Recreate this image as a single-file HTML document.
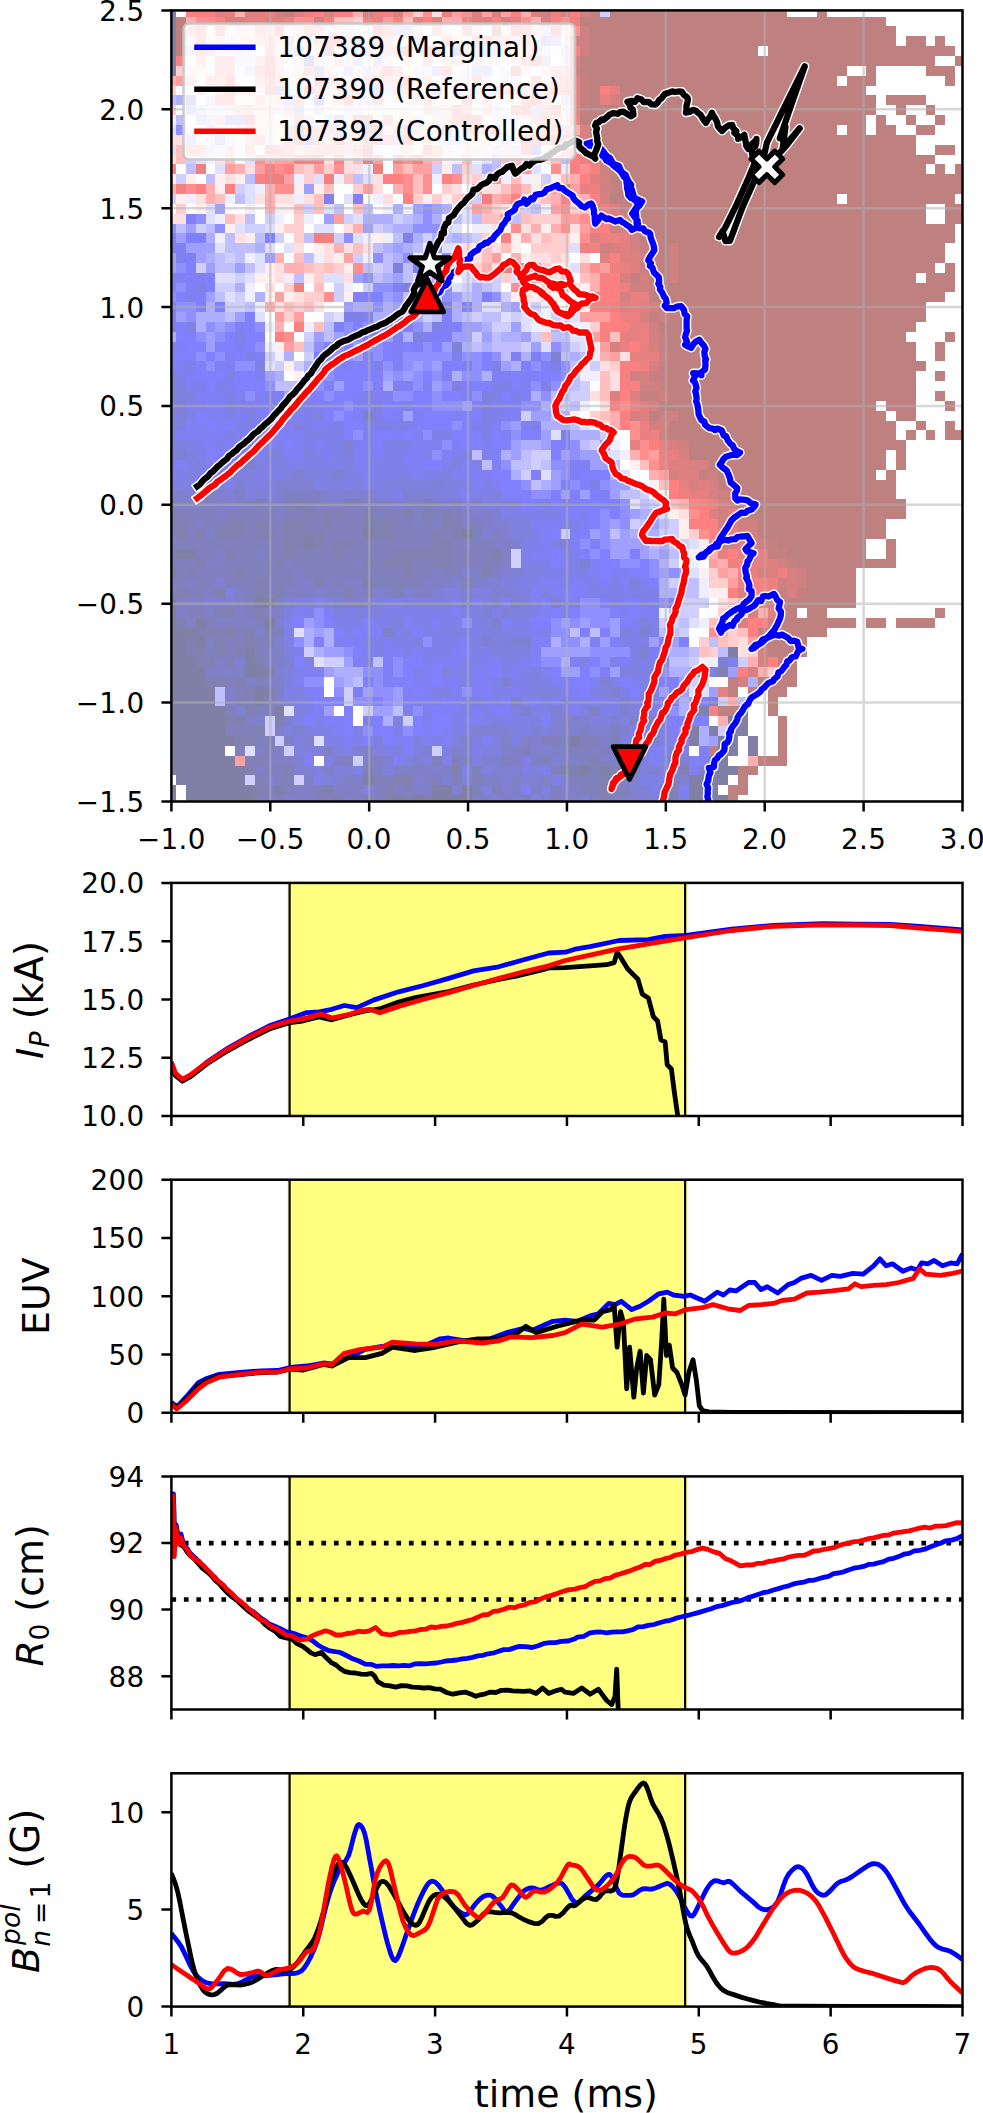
<!DOCTYPE html>
<html><head><meta charset="utf-8"><title>figure</title>
<style>
html,body{margin:0;padding:0;background:#fff;}
svg{display:block;}
text{white-space:pre;letter-spacing:0.38px;font-family:"DejaVu Sans","Liberation Sans",sans-serif;font-size:27.78px;fill:#000;}
.it{font-family:"DejaVu Sans","Liberation Sans",sans-serif;font-style:oblique;}
.sp{fill:none;stroke:#000;stroke-width:2.5;stroke-linecap:square;stroke-linejoin:miter;}
.tk{stroke:#000;stroke-width:2.5;fill:none;}
.gr{stroke:#b0b0b0;stroke-opacity:0.5;stroke-width:2.5;fill:none;}
.ln{fill:none;stroke-linejoin:round;stroke-linecap:square;}
</style></head><body>
<svg width="983" height="2113" viewBox="0 0 983 2113">
<rect width="983" height="2113" fill="#fff"/>

<clipPath id="c0"><rect x="171.4" y="10.4" width="791.1" height="791.1"/></clipPath>
<g clip-path="url(#c0)">
<g shape-rendering="crispEdges">
<path fill="#8080a6" d="M363.3 529H373.2V538.8H363.3zM461.9 529H471.8V538.8H461.9zM304.1 538.8H314V548.7H304.1zM175.9 548.7H195.6V558.5H175.9zM171.4 568.4H175.9V578.2H171.4zM171.4 598H175.9V607.8H171.4zM254.8 598H274.5V607.8H254.8zM171.4 607.8H175.9V617.7H171.4zM171.4 617.7H175.9V627.5H171.4zM195.6 617.7H205.5V627.5H195.6zM264.7 617.7H274.5V627.5H264.7zM171.4 627.5H195.6V637.4H171.4zM171.4 637.4H185.8V647.2H171.4zM195.6 637.4H205.5V647.2H195.6zM171.4 647.2H185.8V657.1H171.4zM244.9 647.2H254.8V657.1H244.9zM728.2 647.2H738.1V657.1H728.2zM171.4 657.1H195.6V666.9H171.4zM244.9 657.1H254.8V666.9H244.9zM171.4 666.9H205.5V676.8H171.4zM244.9 666.9H264.7V676.8H244.9zM171.4 676.8H205.5V686.6H171.4zM171.4 686.6H215.4V696.5H171.4zM254.8 686.6H264.7V696.5H254.8zM171.4 696.5H215.4V706.4H171.4zM254.8 696.5H264.7V706.4H254.8zM171.4 706.4H225.2V716.2H171.4zM274.5 706.4H284.4V716.2H274.5zM738.1 706.4H748V716.2H738.1zM171.4 716.2H225.2V726.1H171.4zM728.2 716.2H748V726.1H728.2zM171.4 726.1H225.2V735.9H171.4zM688.8 726.1H698.6V735.9H688.8zM708.5 726.1H718.4V735.9H708.5zM728.2 726.1H748V735.9H728.2zM171.4 735.9H235.1V745.8H171.4zM570.4 735.9H580.3V745.8H570.4zM688.8 735.9H698.6V745.8H688.8zM718.4 735.9H738.1V745.8H718.4zM748 735.9H757.8V745.8H748zM171.4 745.8H225.2V755.6H171.4zM718.4 745.8H738.1V755.6H718.4zM748 745.8H757.8V755.6H748zM171.4 755.6H235.1V765.5H171.4zM718.4 755.6H728.2V765.5H718.4zM171.4 765.5H244.9V775.3H171.4zM580.3 765.5H590.1V775.3H580.3zM600 765.5H609.9V775.3H600zM708.5 765.5H738.1V775.3H708.5zM175.9 775.3H244.9V785.2H175.9zM363.3 775.3H373.2V785.2H363.3zM688.8 775.3H728.2V785.2H688.8zM171.4 785.2H175.9V795.1H171.4zM185.8 785.2H254.8V795.1H185.8zM274.5 785.2H284.4V795.1H274.5zM432.3 785.2H452.1V795.1H432.3zM461.9 785.2H471.8V795.1H461.9zM688.8 785.2H718.4V795.1H688.8zM171.4 795.1H175.9V801.5H171.4zM185.8 795.1H254.8V801.5H185.8zM392.9 795.1H402.8V801.5H392.9zM412.6 795.1H422.5V801.5H412.6zM432.3 795.1H471.8V801.5H432.3zM688.8 795.1H728.2V801.5H688.8z"/>
<path fill="#8080b1" d="M171.4 10.4H175.9V16.5H171.4zM171.4 16.5H175.9V26.4H171.4zM171.4 26.4H175.9V36.2H171.4zM171.4 36.2H175.9V46.1H171.4zM171.4 46.1H175.9V55.9H171.4zM171.4 55.9H175.9V65.8H171.4zM171.4 65.8H175.9V75.6H171.4zM294.3 499.4H304.1V509.3H294.3zM171.4 509.3H175.9V519.1H171.4zM304.1 509.3H314V519.1H304.1zM323.8 509.3H343.6V519.1H323.8zM363.3 509.3H373.2V519.1H363.3zM402.8 509.3H412.6V519.1H402.8zM422.5 509.3H432.3V519.1H422.5zM442.2 509.3H452.1V519.1H442.2zM171.4 519.1H185.8V529H171.4zM225.2 519.1H244.9V529H225.2zM254.8 519.1H264.7V529H254.8zM284.4 519.1H304.1V529H284.4zM323.8 519.1H333.7V529H323.8zM363.3 519.1H392.9V529H363.3zM442.2 519.1H461.9V529H442.2zM175.9 529H185.8V538.8H175.9zM195.6 529H205.5V538.8H195.6zM215.4 529H244.9V538.8H215.4zM254.8 529H274.5V538.8H254.8zM284.4 529H323.8V538.8H284.4zM373.2 529H392.9V538.8H373.2zM432.3 529H442.2V538.8H432.3zM452.1 529H461.9V538.8H452.1zM284.4 538.8H304.1V548.7H284.4zM314 538.8H323.8V548.7H314zM333.7 538.8H353.4V548.7H333.7zM432.3 538.8H452.1V548.7H432.3zM225.2 548.7H235.1V558.5H225.2zM284.4 548.7H294.3V558.5H284.4zM333.7 548.7H343.6V558.5H333.7zM392.9 548.7H452.1V558.5H392.9zM491.5 548.7H501.4V558.5H491.5zM195.6 558.5H205.5V568.4H195.6zM274.5 558.5H284.4V568.4H274.5zM363.3 558.5H373.2V568.4H363.3zM383 558.5H412.6V568.4H383zM432.3 558.5H452.1V568.4H432.3zM185.8 568.4H195.6V578.2H185.8zM235.1 568.4H244.9V578.2H235.1zM402.8 568.4H412.6V578.2H402.8zM481.7 568.4H491.5V578.2H481.7zM254.8 578.2H264.7V588.1H254.8zM314 578.2H323.8V588.1H314zM363.3 578.2H373.2V588.1H363.3zM175.9 588.1H185.8V598H175.9zM215.4 588.1H225.2V598H215.4zM254.8 588.1H264.7V598H254.8zM274.5 588.1H284.4V598H274.5zM343.6 588.1H353.4V598H343.6zM215.4 607.8H235.1V617.7H215.4zM254.8 607.8H264.7V617.7H254.8zM175.9 617.7H185.8V627.5H175.9zM195.6 627.5H235.1V637.4H195.6zM244.9 627.5H254.8V637.4H244.9zM264.7 627.5H274.5V637.4H264.7zM185.8 637.4H195.6V647.2H185.8zM215.4 637.4H225.2V647.2H215.4zM244.9 637.4H254.8V647.2H244.9zM185.8 647.2H205.5V657.1H185.8zM215.4 647.2H225.2V657.1H215.4zM235.1 647.2H244.9V657.1H235.1zM195.6 657.1H215.4V666.9H195.6zM254.8 657.1H264.7V666.9H254.8zM264.7 666.9H274.5V676.8H264.7zM718.4 666.9H728.2V676.8H718.4zM205.5 676.8H225.2V686.6H205.5zM235.1 676.8H244.9V686.6H235.1zM244.9 686.6H254.8V696.5H244.9zM264.7 686.6H274.5V696.5H264.7zM235.1 696.5H244.9V706.4H235.1zM244.9 706.4H254.8V716.2H244.9zM698.6 706.4H708.5V716.2H698.6zM225.2 716.2H244.9V726.1H225.2zM274.5 716.2H284.4V726.1H274.5zM254.8 726.1H264.7V735.9H254.8zM235.1 735.9H254.8V745.8H235.1zM254.8 755.6H264.7V765.5H254.8zM590.1 755.6H600V765.5H590.1zM244.9 765.5H254.8V775.3H244.9zM284.4 765.5H294.3V775.3H284.4zM452.1 765.5H461.9V775.3H452.1zM560.6 765.5H580.3V775.3H560.6zM609.9 765.5H619.7V775.3H609.9zM678.9 765.5H688.8V775.3H678.9zM254.8 775.3H264.7V785.2H254.8zM392.9 775.3H412.6V785.2H392.9zM600 775.3H609.9V785.2H600zM254.8 785.2H264.7V795.1H254.8zM323.8 785.2H333.7V795.1H323.8zM383 785.2H392.9V795.1H383zM600 785.2H609.9V795.1H600zM333.7 795.1H343.6V801.5H333.7zM363.3 795.1H373.2V801.5H363.3zM383 795.1H392.9V801.5H383zM402.8 795.1H412.6V801.5H402.8zM422.5 795.1H432.3V801.5H422.5zM600 795.1H609.9V801.5H600z"/>
<path fill="#8080bc" d="M171.4 499.4H175.9V509.3H171.4zM254.8 499.4H264.7V509.3H254.8zM284.4 499.4H294.3V509.3H284.4zM304.1 499.4H314V509.3H304.1zM343.6 499.4H363.3V509.3H343.6zM422.5 499.4H432.3V509.3H422.5zM175.9 509.3H215.4V519.1H175.9zM225.2 509.3H274.5V519.1H225.2zM284.4 509.3H304.1V519.1H284.4zM314 509.3H323.8V519.1H314zM343.6 509.3H363.3V519.1H343.6zM373.2 509.3H402.8V519.1H373.2zM432.3 509.3H442.2V519.1H432.3zM452.1 509.3H461.9V519.1H452.1zM185.8 519.1H195.6V529H185.8zM205.5 519.1H225.2V529H205.5zM244.9 519.1H254.8V529H244.9zM264.7 519.1H284.4V529H264.7zM304.1 519.1H323.8V529H304.1zM333.7 519.1H363.3V529H333.7zM392.9 519.1H412.6V529H392.9zM422.5 519.1H432.3V529H422.5zM471.8 519.1H481.7V529H471.8zM185.8 529H195.6V538.8H185.8zM244.9 529H254.8V538.8H244.9zM274.5 529H284.4V538.8H274.5zM323.8 529H363.3V538.8H323.8zM392.9 529H432.3V538.8H392.9zM442.2 529H452.1V538.8H442.2zM471.8 529H481.7V538.8H471.8zM175.9 538.8H284.4V548.7H175.9zM323.8 538.8H333.7V548.7H323.8zM353.4 538.8H432.3V548.7H353.4zM452.1 538.8H461.9V548.7H452.1zM471.8 538.8H491.5V548.7H471.8zM171.4 548.7H175.9V558.5H171.4zM195.6 548.7H215.4V558.5H195.6zM235.1 548.7H254.8V558.5H235.1zM264.7 548.7H284.4V558.5H264.7zM294.3 548.7H333.7V558.5H294.3zM343.6 548.7H392.9V558.5H343.6zM452.1 548.7H491.5V558.5H452.1zM171.4 558.5H195.6V568.4H171.4zM225.2 558.5H274.5V568.4H225.2zM294.3 558.5H353.4V568.4H294.3zM373.2 558.5H383V568.4H373.2zM412.6 558.5H432.3V568.4H412.6zM452.1 558.5H501.4V568.4H452.1zM175.9 568.4H185.8V578.2H175.9zM195.6 568.4H235.1V578.2H195.6zM244.9 568.4H294.3V578.2H244.9zM304.1 568.4H402.8V578.2H304.1zM412.6 568.4H432.3V578.2H412.6zM442.2 568.4H461.9V578.2H442.2zM175.9 578.2H185.8V588.1H175.9zM195.6 578.2H215.4V588.1H195.6zM225.2 578.2H254.8V588.1H225.2zM264.7 578.2H294.3V588.1H264.7zM333.7 578.2H343.6V588.1H333.7zM373.2 578.2H422.5V588.1H373.2zM461.9 578.2H471.8V588.1H461.9zM185.8 588.1H205.5V598H185.8zM244.9 588.1H254.8V598H244.9zM264.7 588.1H274.5V598H264.7zM363.3 588.1H373.2V598H363.3zM392.9 588.1H402.8V598H392.9zM244.9 598H254.8V607.8H244.9zM185.8 607.8H205.5V617.7H185.8zM244.9 607.8H254.8V617.7H244.9zM205.5 617.7H215.4V627.5H205.5zM254.8 617.7H264.7V627.5H254.8zM235.1 627.5H244.9V637.4H235.1zM274.5 627.5H284.4V637.4H274.5zM225.2 637.4H244.9V647.2H225.2zM254.8 637.4H274.5V647.2H254.8zM205.5 647.2H215.4V657.1H205.5zM225.2 647.2H235.1V657.1H225.2zM254.8 647.2H264.7V657.1H254.8zM225.2 657.1H235.1V666.9H225.2zM225.2 676.8H235.1V686.6H225.2zM254.8 676.8H264.7V686.6H254.8zM235.1 686.6H244.9V696.5H235.1zM244.9 696.5H254.8V706.4H244.9zM264.7 696.5H274.5V706.4H264.7zM225.2 706.4H235.1V716.2H225.2zM254.8 706.4H274.5V716.2H254.8zM225.2 726.1H254.8V735.9H225.2zM254.8 735.9H274.5V745.8H254.8zM540.8 735.9H560.6V745.8H540.8zM580.3 735.9H600V745.8H580.3zM609.9 735.9H619.7V745.8H609.9zM235.1 745.8H244.9V755.6H235.1zM264.7 745.8H274.5V755.6H264.7zM521.1 745.8H531V755.6H521.1zM570.4 745.8H590.1V755.6H570.4zM600 745.8H609.9V755.6H600zM244.9 755.6H254.8V765.5H244.9zM343.6 755.6H353.4V765.5H343.6zM432.3 755.6H442.2V765.5H432.3zM452.1 755.6H461.9V765.5H452.1zM501.4 755.6H511.2V765.5H501.4zM540.8 755.6H550.7V765.5H540.8zM580.3 755.6H590.1V765.5H580.3zM619.7 755.6H629.6V765.5H619.7zM669.1 755.6H678.9V765.5H669.1zM264.7 765.5H284.4V775.3H264.7zM363.3 765.5H373.2V775.3H363.3zM471.8 765.5H481.7V775.3H471.8zM550.7 765.5H560.6V775.3H550.7zM590.1 765.5H600V775.3H590.1zM274.5 775.3H294.3V785.2H274.5zM373.2 775.3H392.9V785.2H373.2zM432.3 775.3H442.2V785.2H432.3zM452.1 775.3H461.9V785.2H452.1zM471.8 775.3H481.7V785.2H471.8zM570.4 775.3H600V785.2H570.4zM669.1 775.3H678.9V785.2H669.1zM264.7 785.2H274.5V795.1H264.7zM284.4 785.2H294.3V795.1H284.4zM314 785.2H323.8V795.1H314zM373.2 785.2H383V795.1H373.2zM402.8 785.2H412.6V795.1H402.8zM471.8 785.2H481.7V795.1H471.8zM491.5 785.2H501.4V795.1H491.5zM550.7 785.2H560.6V795.1H550.7zM580.3 785.2H600V795.1H580.3zM609.9 785.2H629.6V795.1H609.9zM669.1 785.2H678.9V795.1H669.1zM254.8 795.1H284.4V801.5H254.8zM314 795.1H333.7V801.5H314zM521.1 795.1H531V801.5H521.1zM550.7 795.1H560.6V801.5H550.7zM659.2 795.1H678.9V801.5H659.2z"/>
<path fill="#8080c7" d="M195.6 479.7H205.5V489.5H195.6zM195.6 489.5H215.4V499.4H195.6zM235.1 489.5H244.9V499.4H235.1zM284.4 489.5H323.8V499.4H284.4zM175.9 499.4H225.2V509.3H175.9zM235.1 499.4H254.8V509.3H235.1zM264.7 499.4H284.4V509.3H264.7zM314 499.4H343.6V509.3H314zM363.3 499.4H392.9V509.3H363.3zM402.8 499.4H422.5V509.3H402.8zM432.3 499.4H442.2V509.3H432.3zM452.1 499.4H461.9V509.3H452.1zM215.4 509.3H225.2V519.1H215.4zM274.5 509.3H284.4V519.1H274.5zM412.6 509.3H422.5V519.1H412.6zM461.9 509.3H471.8V519.1H461.9zM481.7 509.3H491.5V519.1H481.7zM195.6 519.1H205.5V529H195.6zM412.6 519.1H422.5V529H412.6zM432.3 519.1H442.2V529H432.3zM461.9 519.1H471.8V529H461.9zM481.7 519.1H491.5V529H481.7zM171.4 529H175.9V538.8H171.4zM205.5 529H215.4V538.8H205.5zM491.5 529H501.4V538.8H491.5zM171.4 538.8H175.9V548.7H171.4zM461.9 538.8H471.8V548.7H461.9zM491.5 538.8H511.2V548.7H491.5zM215.4 548.7H225.2V558.5H215.4zM254.8 548.7H264.7V558.5H254.8zM501.4 548.7H511.2V558.5H501.4zM205.5 558.5H225.2V568.4H205.5zM284.4 558.5H294.3V568.4H284.4zM353.4 558.5H363.3V568.4H353.4zM501.4 558.5H511.2V568.4H501.4zM294.3 568.4H304.1V578.2H294.3zM432.3 568.4H442.2V578.2H432.3zM471.8 568.4H481.7V578.2H471.8zM491.5 568.4H501.4V578.2H491.5zM185.8 578.2H195.6V588.1H185.8zM294.3 578.2H314V588.1H294.3zM323.8 578.2H333.7V588.1H323.8zM343.6 578.2H363.3V588.1H343.6zM422.5 578.2H452.1V588.1H422.5zM471.8 578.2H481.7V588.1H471.8zM171.4 588.1H175.9V598H171.4zM205.5 588.1H215.4V598H205.5zM235.1 588.1H244.9V598H235.1zM284.4 588.1H314V598H284.4zM323.8 588.1H343.6V598H323.8zM353.4 588.1H363.3V598H353.4zM383 588.1H392.9V598H383zM412.6 588.1H432.3V598H412.6zM175.9 598H205.5V607.8H175.9zM235.1 598H244.9V607.8H235.1zM274.5 598H284.4V607.8H274.5zM343.6 598H363.3V607.8H343.6zM175.9 607.8H185.8V617.7H175.9zM205.5 607.8H215.4V617.7H205.5zM235.1 607.8H244.9V617.7H235.1zM264.7 607.8H284.4V617.7H264.7zM185.8 617.7H195.6V627.5H185.8zM215.4 617.7H254.8V627.5H215.4zM254.8 627.5H264.7V637.4H254.8zM383 627.5H392.9V637.4H383zM205.5 637.4H215.4V647.2H205.5zM264.7 647.2H284.4V657.1H264.7zM215.4 657.1H225.2V666.9H215.4zM264.7 657.1H284.4V666.9H264.7zM205.5 666.9H244.9V676.8H205.5zM244.9 676.8H254.8V686.6H244.9zM264.7 676.8H284.4V686.6H264.7zM225.2 686.6H235.1V696.5H225.2zM274.5 686.6H284.4V696.5H274.5zM225.2 696.5H235.1V706.4H225.2zM274.5 696.5H284.4V706.4H274.5zM511.2 696.5H521.1V706.4H511.2zM590.1 706.4H600V716.2H590.1zM688.8 706.4H698.6V716.2H688.8zM244.9 716.2H264.7V726.1H244.9zM570.4 716.2H580.3V726.1H570.4zM629.6 716.2H639.5V726.1H629.6zM649.3 716.2H659.2V726.1H649.3zM274.5 726.1H284.4V735.9H274.5zM580.3 726.1H590.1V735.9H580.3zM609.9 726.1H619.7V735.9H609.9zM284.4 735.9H294.3V745.8H284.4zM501.4 735.9H511.2V745.8H501.4zM521.1 735.9H531V745.8H521.1zM560.6 735.9H570.4V745.8H560.6zM600 735.9H609.9V745.8H600zM254.8 745.8H264.7V755.6H254.8zM274.5 745.8H284.4V755.6H274.5zM323.8 745.8H333.7V755.6H323.8zM363.3 745.8H373.2V755.6H363.3zM501.4 745.8H521.1V755.6H501.4zM550.7 745.8H570.4V755.6H550.7zM590.1 745.8H600V755.6H590.1zM629.6 745.8H639.5V755.6H629.6zM264.7 755.6H294.3V765.5H264.7zM333.7 755.6H343.6V765.5H333.7zM363.3 755.6H383V765.5H363.3zM461.9 755.6H471.8V765.5H461.9zM511.2 755.6H521.1V765.5H511.2zM531 755.6H540.8V765.5H531zM560.6 755.6H580.3V765.5H560.6zM600 755.6H619.7V765.5H600zM629.6 755.6H639.5V765.5H629.6zM708.5 755.6H718.4V765.5H708.5zM254.8 765.5H264.7V775.3H254.8zM323.8 765.5H333.7V775.3H323.8zM373.2 765.5H383V775.3H373.2zM392.9 765.5H432.3V775.3H392.9zM442.2 765.5H452.1V775.3H442.2zM619.7 765.5H639.5V775.3H619.7zM698.6 765.5H708.5V775.3H698.6zM304.1 775.3H314V785.2H304.1zM343.6 775.3H363.3V785.2H343.6zM422.5 775.3H432.3V785.2H422.5zM481.7 775.3H501.4V785.2H481.7zM511.2 775.3H521.1V785.2H511.2zM540.8 775.3H550.7V785.2H540.8zM609.9 775.3H629.6V785.2H609.9zM294.3 785.2H314V795.1H294.3zM333.7 785.2H363.3V795.1H333.7zM392.9 785.2H402.8V795.1H392.9zM412.6 785.2H432.3V795.1H412.6zM511.2 785.2H521.1V795.1H511.2zM531 785.2H540.8V795.1H531zM570.4 785.2H580.3V795.1H570.4zM659.2 785.2H669.1V795.1H659.2zM294.3 795.1H314V801.5H294.3zM353.4 795.1H363.3V801.5H353.4zM373.2 795.1H383V801.5H373.2zM471.8 795.1H491.5V801.5H471.8zM501.4 795.1H511.2V801.5H501.4zM570.4 795.1H580.3V801.5H570.4zM590.1 795.1H600V801.5H590.1zM609.9 795.1H629.6V801.5H609.9z"/>
<path fill="#8080d2" d="M550.7 351.6H560.6V361.4H550.7zM175.9 400.9H185.8V410.7H175.9zM363.3 410.7H373.2V420.6H363.3zM343.6 440.3H353.4V450.1H343.6zM175.9 450.1H185.8V460H175.9zM235.1 460H254.8V469.8H235.1zM294.3 469.8H304.1V479.7H294.3zM333.7 469.8H343.6V479.7H333.7zM235.1 479.7H244.9V489.5H235.1zM274.5 479.7H314V489.5H274.5zM432.3 479.7H442.2V489.5H432.3zM171.4 489.5H195.6V499.4H171.4zM215.4 489.5H235.1V499.4H215.4zM254.8 489.5H264.7V499.4H254.8zM274.5 489.5H284.4V499.4H274.5zM323.8 489.5H373.2V499.4H323.8zM402.8 489.5H432.3V499.4H402.8zM225.2 499.4H235.1V509.3H225.2zM392.9 499.4H402.8V509.3H392.9zM442.2 499.4H452.1V509.3H442.2zM471.8 499.4H481.7V509.3H471.8zM471.8 509.3H481.7V519.1H471.8zM491.5 509.3H501.4V519.1H491.5zM491.5 519.1H511.2V529H491.5zM481.7 529H491.5V538.8H481.7zM501.4 529H511.2V538.8H501.4zM511.2 538.8H521.1V548.7H511.2zM580.3 558.5H590.1V568.4H580.3zM461.9 568.4H471.8V578.2H461.9zM501.4 568.4H521.1V578.2H501.4zM171.4 578.2H175.9V588.1H171.4zM215.4 578.2H225.2V588.1H215.4zM452.1 578.2H461.9V588.1H452.1zM481.7 578.2H501.4V588.1H481.7zM314 588.1H323.8V598H314zM373.2 588.1H383V598H373.2zM402.8 588.1H412.6V598H402.8zM432.3 588.1H442.2V598H432.3zM461.9 588.1H471.8V598H461.9zM491.5 588.1H511.2V598H491.5zM205.5 598H235.1V607.8H205.5zM284.4 598H294.3V607.8H284.4zM333.7 598H343.6V607.8H333.7zM363.3 598H373.2V607.8H363.3zM461.9 598H471.8V607.8H461.9zM491.5 598H501.4V607.8H491.5zM511.2 598H521.1V607.8H511.2zM550.7 598H560.6V607.8H550.7zM481.7 607.8H491.5V617.7H481.7zM501.4 607.8H511.2V617.7H501.4zM274.5 617.7H284.4V627.5H274.5zM491.5 617.7H501.4V627.5H491.5zM639.5 627.5H649.3V637.4H639.5zM274.5 637.4H284.4V647.2H274.5zM481.7 637.4H491.5V647.2H481.7zM511.2 637.4H531V647.2H511.2zM639.5 647.2H649.3V657.1H639.5zM235.1 657.1H244.9V666.9H235.1zM284.4 657.1H294.3V666.9H284.4zM718.4 657.1H728.2V666.9H718.4zM274.5 666.9H284.4V676.8H274.5zM501.4 676.8H511.2V686.6H501.4zM600 676.8H609.9V686.6H600zM609.9 686.6H619.7V696.5H609.9zM619.7 696.5H629.6V706.4H619.7zM235.1 706.4H244.9V716.2H235.1zM521.1 706.4H531V716.2H521.1zM550.7 706.4H560.6V716.2H550.7zM619.7 706.4H629.6V716.2H619.7zM284.4 716.2H294.3V726.1H284.4zM550.7 716.2H570.4V726.1H550.7zM580.3 716.2H590.1V726.1H580.3zM609.9 716.2H619.7V726.1H609.9zM639.5 716.2H649.3V726.1H639.5zM294.3 726.1H304.1V735.9H294.3zM471.8 726.1H511.2V735.9H471.8zM531 726.1H540.8V735.9H531zM550.7 726.1H580.3V735.9H550.7zM590.1 726.1H609.9V735.9H590.1zM619.7 726.1H629.6V735.9H619.7zM304.1 735.9H314V745.8H304.1zM461.9 735.9H471.8V745.8H461.9zM531 735.9H540.8V745.8H531zM629.6 735.9H639.5V745.8H629.6zM649.3 735.9H659.2V745.8H649.3zM353.4 745.8H363.3V755.6H353.4zM422.5 745.8H432.3V755.6H422.5zM452.1 745.8H471.8V755.6H452.1zM531 745.8H550.7V755.6H531zM609.9 745.8H619.7V755.6H609.9zM639.5 745.8H649.3V755.6H639.5zM669.1 745.8H678.9V755.6H669.1zM294.3 755.6H304.1V765.5H294.3zM383 755.6H392.9V765.5H383zM412.6 755.6H422.5V765.5H412.6zM481.7 755.6H501.4V765.5H481.7zM550.7 755.6H560.6V765.5H550.7zM678.9 755.6H688.8V765.5H678.9zM294.3 765.5H314V775.3H294.3zM343.6 765.5H353.4V775.3H343.6zM432.3 765.5H442.2V775.3H432.3zM491.5 765.5H521.1V775.3H491.5zM649.3 765.5H659.2V775.3H649.3zM264.7 775.3H274.5V785.2H264.7zM333.7 775.3H343.6V785.2H333.7zM412.6 775.3H422.5V785.2H412.6zM442.2 775.3H452.1V785.2H442.2zM501.4 775.3H511.2V785.2H501.4zM521.1 775.3H540.8V785.2H521.1zM560.6 775.3H570.4V785.2H560.6zM629.6 775.3H639.5V785.2H629.6zM678.9 775.3H688.8V785.2H678.9zM452.1 785.2H461.9V795.1H452.1zM501.4 785.2H511.2V795.1H501.4zM560.6 785.2H570.4V795.1H560.6zM629.6 785.2H649.3V795.1H629.6zM284.4 795.1H294.3V801.5H284.4zM343.6 795.1H353.4V801.5H343.6zM511.2 795.1H521.1V801.5H511.2zM540.8 795.1H550.7V801.5H540.8zM560.6 795.1H570.4V801.5H560.6zM629.6 795.1H639.5V801.5H629.6z"/>
<path fill="#8080de" d="M304.1 55.9H314V65.8H304.1zM392.9 262.9H402.8V272.7H392.9zM402.8 282.6H412.6V292.4H402.8zM442.2 302.3H452.1V312.2H442.2zM412.6 331.9H422.5V341.7H412.6zM452.1 341.7H461.9V351.6H452.1zM171.4 371.3H175.9V381.1H171.4zM171.4 381.1H185.8V391H171.4zM452.1 381.1H461.9V391H452.1zM175.9 391H195.6V400.9H175.9zM481.7 391H491.5V400.9H481.7zM225.2 400.9H235.1V410.7H225.2zM294.3 400.9H304.1V410.7H294.3zM373.2 400.9H383V410.7H373.2zM171.4 410.7H185.8V420.6H171.4zM314 410.7H323.8V420.6H314zM175.9 420.6H185.8V430.4H175.9zM264.7 420.6H274.5V430.4H264.7zM294.3 420.6H304.1V430.4H294.3zM171.4 430.4H175.9V440.3H171.4zM314 430.4H323.8V440.3H314zM175.9 440.3H185.8V450.1H175.9zM185.8 450.1H195.6V460H185.8zM264.7 450.1H284.4V460H264.7zM304.1 450.1H314V460H304.1zM343.6 450.1H353.4V460H343.6zM195.6 460H205.5V469.8H195.6zM254.8 460H264.7V469.8H254.8zM274.5 460H284.4V469.8H274.5zM343.6 460H353.4V469.8H343.6zM452.1 460H461.9V469.8H452.1zM185.8 469.8H195.6V479.7H185.8zM215.4 469.8H254.8V479.7H215.4zM284.4 469.8H294.3V479.7H284.4zM304.1 469.8H333.7V479.7H304.1zM343.6 469.8H353.4V479.7H343.6zM442.2 469.8H452.1V479.7H442.2zM185.8 479.7H195.6V489.5H185.8zM205.5 479.7H225.2V489.5H205.5zM244.9 479.7H274.5V489.5H244.9zM323.8 479.7H343.6V489.5H323.8zM353.4 479.7H363.3V489.5H353.4zM383 479.7H432.3V489.5H383zM442.2 479.7H461.9V489.5H442.2zM244.9 489.5H254.8V499.4H244.9zM264.7 489.5H274.5V499.4H264.7zM373.2 489.5H392.9V499.4H373.2zM432.3 489.5H452.1V499.4H432.3zM491.5 489.5H501.4V499.4H491.5zM461.9 499.4H471.8V509.3H461.9zM481.7 499.4H521.1V509.3H481.7zM511.2 519.1H531V529H511.2zM511.2 529H531V538.8H511.2zM550.7 538.8H570.4V548.7H550.7zM521.1 568.4H540.8V578.2H521.1zM501.4 578.2H521.1V588.1H501.4zM629.6 578.2H639.5V588.1H629.6zM225.2 588.1H235.1V598H225.2zM442.2 588.1H461.9V598H442.2zM471.8 588.1H491.5V598H471.8zM511.2 588.1H531V598H511.2zM540.8 588.1H550.7V598H540.8zM294.3 598H314V607.8H294.3zM323.8 598H333.7V607.8H323.8zM373.2 598H383V607.8H373.2zM402.8 598H452.1V607.8H402.8zM481.7 598H491.5V607.8H481.7zM521.1 598H531V607.8H521.1zM570.4 598H580.3V607.8H570.4zM284.4 607.8H294.3V617.7H284.4zM333.7 607.8H343.6V617.7H333.7zM353.4 607.8H363.3V617.7H353.4zM373.2 607.8H383V617.7H373.2zM471.8 607.8H481.7V617.7H471.8zM511.2 607.8H531V617.7H511.2zM392.9 617.7H402.8V627.5H392.9zM471.8 617.7H491.5V627.5H471.8zM639.5 617.7H649.3V627.5H639.5zM452.1 627.5H461.9V637.4H452.1zM481.7 627.5H501.4V637.4H481.7zM619.7 627.5H629.6V637.4H619.7zM412.6 637.4H422.5V647.2H412.6zM471.8 637.4H481.7V647.2H471.8zM491.5 637.4H511.2V647.2H491.5zM284.4 647.2H294.3V657.1H284.4zM491.5 647.2H531V657.1H491.5zM284.4 666.9H294.3V676.8H284.4zM442.2 666.9H452.1V676.8H442.2zM531 666.9H540.8V676.8H531zM619.7 666.9H639.5V676.8H619.7zM708.5 666.9H718.4V676.8H708.5zM284.4 676.8H294.3V686.6H284.4zM531 676.8H540.8V686.6H531zM294.3 686.6H304.1V696.5H294.3zM442.2 686.6H452.1V696.5H442.2zM531 686.6H560.6V696.5H531zM600 686.6H609.9V696.5H600zM649.3 686.6H659.2V696.5H649.3zM284.4 696.5H294.3V706.4H284.4zM471.8 696.5H481.7V706.4H471.8zM540.8 696.5H550.7V706.4H540.8zM560.6 696.5H570.4V706.4H560.6zM629.6 696.5H649.3V706.4H629.6zM708.5 696.5H718.4V706.4H708.5zM294.3 706.4H304.1V716.2H294.3zM511.2 706.4H521.1V716.2H511.2zM560.6 706.4H570.4V716.2H560.6zM580.3 706.4H590.1V716.2H580.3zM629.6 706.4H639.5V716.2H629.6zM392.9 716.2H402.8V726.1H392.9zM491.5 716.2H501.4V726.1H491.5zM531 716.2H540.8V726.1H531zM590.1 716.2H609.9V726.1H590.1zM619.7 716.2H629.6V726.1H619.7zM284.4 726.1H294.3V735.9H284.4zM304.1 726.1H314V735.9H304.1zM511.2 726.1H521.1V735.9H511.2zM540.8 726.1H550.7V735.9H540.8zM639.5 726.1H659.2V735.9H639.5zM294.3 735.9H304.1V745.8H294.3zM373.2 735.9H383V745.8H373.2zM412.6 735.9H422.5V745.8H412.6zM452.1 735.9H461.9V745.8H452.1zM471.8 735.9H481.7V745.8H471.8zM491.5 735.9H501.4V745.8H491.5zM619.7 735.9H629.6V745.8H619.7zM639.5 735.9H649.3V745.8H639.5zM294.3 745.8H323.8V755.6H294.3zM333.7 745.8H343.6V755.6H333.7zM373.2 745.8H383V755.6H373.2zM392.9 745.8H402.8V755.6H392.9zM412.6 745.8H422.5V755.6H412.6zM442.2 745.8H452.1V755.6H442.2zM481.7 745.8H501.4V755.6H481.7zM619.7 745.8H629.6V755.6H619.7zM402.8 755.6H412.6V765.5H402.8zM422.5 755.6H432.3V765.5H422.5zM471.8 755.6H481.7V765.5H471.8zM521.1 755.6H531V765.5H521.1zM639.5 755.6H649.3V765.5H639.5zM314 765.5H323.8V775.3H314zM333.7 765.5H343.6V775.3H333.7zM383 765.5H392.9V775.3H383zM481.7 765.5H491.5V775.3H481.7zM521.1 765.5H540.8V775.3H521.1zM639.5 765.5H649.3V775.3H639.5zM659.2 765.5H678.9V775.3H659.2zM323.8 775.3H333.7V785.2H323.8zM461.9 775.3H471.8V785.2H461.9zM363.3 785.2H373.2V795.1H363.3zM481.7 785.2H491.5V795.1H481.7zM540.8 785.2H550.7V795.1H540.8zM491.5 795.1H501.4V801.5H491.5zM580.3 795.1H590.1V801.5H580.3zM639.5 795.1H659.2V801.5H639.5zM678.9 795.1H688.8V801.5H678.9z"/>
<path fill="#8080e9" d="M323.8 193.9H333.7V203.8H323.8zM402.8 233.3H412.6V243.2H402.8zM171.4 243.2H175.9V253H171.4zM175.9 253H185.8V262.9H175.9zM195.6 282.6H205.5V292.4H195.6zM185.8 292.4H195.6V302.3H185.8zM343.6 312.2H363.3V322H343.6zM171.4 322H175.9V331.9H171.4zM185.8 322H195.6V331.9H185.8zM432.3 322H442.2V331.9H432.3zM235.1 331.9H244.9V341.7H235.1zM373.2 331.9H383V341.7H373.2zM244.9 351.6H254.8V361.4H244.9zM452.1 351.6H461.9V361.4H452.1zM185.8 361.4H195.6V371.3H185.8zM254.8 361.4H264.7V371.3H254.8zM373.2 361.4H383V371.3H373.2zM491.5 361.4H501.4V371.3H491.5zM550.7 361.4H560.6V371.3H550.7zM175.9 371.3H185.8V381.1H175.9zM225.2 371.3H235.1V381.1H225.2zM195.6 381.1H205.5V391H195.6zM215.4 381.1H225.2V391H215.4zM491.5 381.1H511.2V391H491.5zM540.8 381.1H550.7V391H540.8zM171.4 391H175.9V400.9H171.4zM225.2 391H235.1V400.9H225.2zM264.7 391H274.5V400.9H264.7zM363.3 391H373.2V400.9H363.3zM491.5 391H501.4V400.9H491.5zM511.2 391H521.1V400.9H511.2zM171.4 400.9H175.9V410.7H171.4zM185.8 400.9H205.5V410.7H185.8zM235.1 400.9H254.8V410.7H235.1zM274.5 400.9H284.4V410.7H274.5zM304.1 400.9H314V410.7H304.1zM402.8 400.9H412.6V410.7H402.8zM481.7 400.9H491.5V410.7H481.7zM185.8 410.7H195.6V420.6H185.8zM225.2 410.7H235.1V420.6H225.2zM244.9 410.7H254.8V420.6H244.9zM284.4 410.7H294.3V420.6H284.4zM304.1 410.7H314V420.6H304.1zM373.2 410.7H383V420.6H373.2zM481.7 410.7H501.4V420.6H481.7zM171.4 420.6H175.9V430.4H171.4zM235.1 420.6H264.7V430.4H235.1zM274.5 420.6H284.4V430.4H274.5zM304.1 420.6H314V430.4H304.1zM323.8 420.6H343.6V430.4H323.8zM363.3 420.6H412.6V430.4H363.3zM471.8 420.6H491.5V430.4H471.8zM531 420.6H540.8V430.4H531zM225.2 430.4H235.1V440.3H225.2zM244.9 430.4H264.7V440.3H244.9zM304.1 430.4H314V440.3H304.1zM323.8 430.4H343.6V440.3H323.8zM432.3 430.4H452.1V440.3H432.3zM481.7 430.4H491.5V440.3H481.7zM560.6 430.4H570.4V440.3H560.6zM171.4 440.3H175.9V450.1H171.4zM185.8 440.3H205.5V450.1H185.8zM215.4 440.3H225.2V450.1H215.4zM244.9 440.3H264.7V450.1H244.9zM274.5 440.3H284.4V450.1H274.5zM304.1 440.3H314V450.1H304.1zM323.8 440.3H343.6V450.1H323.8zM383 440.3H412.6V450.1H383zM171.4 450.1H175.9V460H171.4zM195.6 450.1H205.5V460H195.6zM235.1 450.1H254.8V460H235.1zM314 450.1H323.8V460H314zM333.7 450.1H343.6V460H333.7zM383 450.1H402.8V460H383zM422.5 450.1H432.3V460H422.5zM452.1 450.1H471.8V460H452.1zM481.7 450.1H491.5V460H481.7zM171.4 460H175.9V469.8H171.4zM185.8 460H195.6V469.8H185.8zM205.5 460H225.2V469.8H205.5zM264.7 460H274.5V469.8H264.7zM284.4 460H343.6V469.8H284.4zM373.2 460H402.8V469.8H373.2zM442.2 460H452.1V469.8H442.2zM471.8 460H481.7V469.8H471.8zM175.9 469.8H185.8V479.7H175.9zM195.6 469.8H205.5V479.7H195.6zM254.8 469.8H284.4V479.7H254.8zM353.4 469.8H363.3V479.7H353.4zM373.2 469.8H412.6V479.7H373.2zM422.5 469.8H442.2V479.7H422.5zM171.4 479.7H185.8V489.5H171.4zM225.2 479.7H235.1V489.5H225.2zM314 479.7H323.8V489.5H314zM343.6 479.7H353.4V489.5H343.6zM373.2 479.7H383V489.5H373.2zM461.9 479.7H471.8V489.5H461.9zM481.7 479.7H491.5V489.5H481.7zM590.1 479.7H600V489.5H590.1zM392.9 489.5H402.8V499.4H392.9zM452.1 489.5H461.9V499.4H452.1zM471.8 489.5H491.5V499.4H471.8zM540.8 499.4H550.7V509.3H540.8zM560.6 499.4H570.4V509.3H560.6zM501.4 509.3H560.6V519.1H501.4zM560.6 519.1H580.3V529H560.6zM531 529H540.8V538.8H531zM521.1 538.8H540.8V548.7H521.1zM521.1 548.7H531V558.5H521.1zM560.6 548.7H580.3V558.5H560.6zM521.1 558.5H550.7V568.4H521.1zM570.4 558.5H580.3V568.4H570.4zM540.8 568.4H590.1V578.2H540.8zM521.1 578.2H540.8V588.1H521.1zM560.6 578.2H570.4V588.1H560.6zM590.1 578.2H600V588.1H590.1zM609.9 578.2H619.7V588.1H609.9zM590.1 588.1H659.2V598H590.1zM314 598H323.8V607.8H314zM383 598H402.8V607.8H383zM452.1 598H461.9V607.8H452.1zM531 598H540.8V607.8H531zM609.9 598H619.7V607.8H609.9zM639.5 598H649.3V607.8H639.5zM304.1 607.8H314V617.7H304.1zM343.6 607.8H353.4V617.7H343.6zM363.3 607.8H373.2V617.7H363.3zM383 607.8H452.1V617.7H383zM461.9 607.8H471.8V617.7H461.9zM491.5 607.8H501.4V617.7H491.5zM531 607.8H540.8V617.7H531zM560.6 607.8H570.4V617.7H560.6zM284.4 617.7H294.3V627.5H284.4zM333.7 617.7H363.3V627.5H333.7zM373.2 617.7H392.9V627.5H373.2zM412.6 617.7H432.3V627.5H412.6zM442.2 617.7H461.9V627.5H442.2zM511.2 617.7H531V627.5H511.2zM649.3 617.7H659.2V627.5H649.3zM284.4 627.5H294.3V637.4H284.4zM343.6 627.5H353.4V637.4H343.6zM392.9 627.5H412.6V637.4H392.9zM422.5 627.5H452.1V637.4H422.5zM461.9 627.5H481.7V637.4H461.9zM501.4 627.5H531V637.4H501.4zM540.8 627.5H550.7V637.4H540.8zM629.6 627.5H639.5V637.4H629.6zM649.3 627.5H659.2V637.4H649.3zM284.4 637.4H294.3V647.2H284.4zM363.3 637.4H383V647.2H363.3zM392.9 637.4H412.6V647.2H392.9zM432.3 637.4H461.9V647.2H432.3zM619.7 637.4H649.3V647.2H619.7zM294.3 647.2H304.1V657.1H294.3zM373.2 647.2H383V657.1H373.2zM402.8 647.2H412.6V657.1H402.8zM422.5 647.2H452.1V657.1H422.5zM471.8 647.2H491.5V657.1H471.8zM629.6 647.2H639.5V657.1H629.6zM304.1 657.1H314V666.9H304.1zM363.3 657.1H373.2V666.9H363.3zM422.5 657.1H432.3V666.9H422.5zM461.9 657.1H481.7V666.9H461.9zM501.4 657.1H521.1V666.9H501.4zM580.3 657.1H590.1V666.9H580.3zM609.9 657.1H619.7V666.9H609.9zM629.6 657.1H659.2V666.9H629.6zM728.2 657.1H738.1V666.9H728.2zM294.3 666.9H304.1V676.8H294.3zM412.6 666.9H422.5V676.8H412.6zM452.1 666.9H471.8V676.8H452.1zM501.4 666.9H511.2V676.8H501.4zM521.1 666.9H531V676.8H521.1zM639.5 666.9H659.2V676.8H639.5zM461.9 676.8H471.8V686.6H461.9zM491.5 676.8H501.4V686.6H491.5zM511.2 676.8H531V686.6H511.2zM540.8 676.8H550.7V686.6H540.8zM609.9 676.8H619.7V686.6H609.9zM639.5 676.8H659.2V686.6H639.5zM284.4 686.6H294.3V696.5H284.4zM432.3 686.6H442.2V696.5H432.3zM491.5 686.6H511.2V696.5H491.5zM521.1 686.6H531V696.5H521.1zM590.1 686.6H600V696.5H590.1zM619.7 686.6H629.6V696.5H619.7zM639.5 686.6H649.3V696.5H639.5zM294.3 696.5H314V706.4H294.3zM432.3 696.5H442.2V706.4H432.3zM461.9 696.5H471.8V706.4H461.9zM481.7 696.5H501.4V706.4H481.7zM521.1 696.5H531V706.4H521.1zM570.4 696.5H590.1V706.4H570.4zM600 696.5H619.7V706.4H600zM649.3 696.5H659.2V706.4H649.3zM669.1 696.5H678.9V706.4H669.1zM304.1 706.4H314V716.2H304.1zM402.8 706.4H412.6V716.2H402.8zM422.5 706.4H432.3V716.2H422.5zM461.9 706.4H471.8V716.2H461.9zM481.7 706.4H491.5V716.2H481.7zM531 706.4H550.7V716.2H531zM600 706.4H619.7V716.2H600zM639.5 706.4H669.1V716.2H639.5zM294.3 716.2H304.1V726.1H294.3zM314 716.2H323.8V726.1H314zM422.5 716.2H432.3V726.1H422.5zM452.1 716.2H461.9V726.1H452.1zM481.7 716.2H491.5V726.1H481.7zM501.4 716.2H531V726.1H501.4zM314 726.1H333.7V735.9H314zM353.4 726.1H363.3V735.9H353.4zM392.9 726.1H402.8V735.9H392.9zM452.1 726.1H471.8V735.9H452.1zM521.1 726.1H531V735.9H521.1zM629.6 726.1H639.5V735.9H629.6zM659.2 726.1H669.1V735.9H659.2zM323.8 735.9H343.6V745.8H323.8zM353.4 735.9H363.3V745.8H353.4zM432.3 735.9H442.2V745.8H432.3zM511.2 735.9H521.1V745.8H511.2zM659.2 735.9H669.1V745.8H659.2zM343.6 745.8H353.4V755.6H343.6zM383 745.8H392.9V755.6H383zM471.8 745.8H481.7V755.6H471.8zM678.9 745.8H688.8V755.6H678.9zM323.8 755.6H333.7V765.5H323.8zM442.2 755.6H452.1V765.5H442.2zM659.2 755.6H669.1V765.5H659.2zM353.4 765.5H363.3V775.3H353.4zM461.9 765.5H471.8V775.3H461.9zM540.8 765.5H550.7V775.3H540.8zM314 775.3H323.8V785.2H314zM550.7 775.3H560.6V785.2H550.7zM639.5 775.3H669.1V785.2H639.5zM649.3 785.2H659.2V795.1H649.3zM531 795.1H540.8V801.5H531z"/>
<path fill="#8080f4" d="M185.8 95.3H195.6V105.2H185.8zM175.9 243.2H185.8V253H175.9zM185.8 253H195.6V262.9H185.8zM171.4 272.7H205.5V282.6H171.4zM185.8 282.6H195.6V292.4H185.8zM392.9 282.6H402.8V292.4H392.9zM171.4 302.3H175.9V312.2H171.4zM171.4 312.2H175.9V322H171.4zM363.3 312.2H373.2V322H363.3zM235.1 322H244.9V331.9H235.1zM442.2 322H452.1V331.9H442.2zM363.3 331.9H373.2V341.7H363.3zM392.9 331.9H402.8V341.7H392.9zM422.5 331.9H442.2V341.7H422.5zM171.4 341.7H185.8V351.6H171.4zM235.1 341.7H244.9V351.6H235.1zM392.9 341.7H402.8V351.6H392.9zM412.6 341.7H422.5V351.6H412.6zM225.2 351.6H235.1V361.4H225.2zM254.8 351.6H264.7V361.4H254.8zM363.3 351.6H373.2V361.4H363.3zM392.9 351.6H402.8V361.4H392.9zM511.2 351.6H521.1V361.4H511.2zM531 351.6H540.8V361.4H531zM171.4 361.4H185.8V371.3H171.4zM215.4 361.4H235.1V371.3H215.4zM343.6 361.4H353.4V371.3H343.6zM392.9 361.4H402.8V371.3H392.9zM461.9 361.4H471.8V371.3H461.9zM540.8 361.4H550.7V371.3H540.8zM185.8 371.3H195.6V381.1H185.8zM254.8 371.3H264.7V381.1H254.8zM442.2 371.3H452.1V381.1H442.2zM491.5 371.3H511.2V381.1H491.5zM521.1 371.3H531V381.1H521.1zM185.8 381.1H195.6V391H185.8zM225.2 381.1H235.1V391H225.2zM323.8 381.1H333.7V391H323.8zM373.2 381.1H383V391H373.2zM392.9 381.1H412.6V391H392.9zM422.5 381.1H432.3V391H422.5zM461.9 381.1H471.8V391H461.9zM521.1 381.1H531V391H521.1zM195.6 391H225.2V400.9H195.6zM235.1 391H244.9V400.9H235.1zM254.8 391H264.7V400.9H254.8zM304.1 391H314V400.9H304.1zM353.4 391H363.3V400.9H353.4zM373.2 391H392.9V400.9H373.2zM461.9 391H471.8V400.9H461.9zM521.1 391H531V400.9H521.1zM205.5 400.9H225.2V410.7H205.5zM254.8 400.9H274.5V410.7H254.8zM284.4 400.9H294.3V410.7H284.4zM314 400.9H333.7V410.7H314zM353.4 400.9H373.2V410.7H353.4zM422.5 400.9H432.3V410.7H422.5zM471.8 400.9H481.7V410.7H471.8zM491.5 400.9H521.1V410.7H491.5zM205.5 410.7H225.2V420.6H205.5zM235.1 410.7H244.9V420.6H235.1zM254.8 410.7H284.4V420.6H254.8zM294.3 410.7H304.1V420.6H294.3zM353.4 410.7H363.3V420.6H353.4zM392.9 410.7H402.8V420.6H392.9zM412.6 410.7H422.5V420.6H412.6zM452.1 410.7H461.9V420.6H452.1zM501.4 410.7H521.1V420.6H501.4zM185.8 420.6H205.5V430.4H185.8zM215.4 420.6H225.2V430.4H215.4zM284.4 420.6H294.3V430.4H284.4zM314 420.6H323.8V430.4H314zM412.6 420.6H422.5V430.4H412.6zM491.5 420.6H501.4V430.4H491.5zM521.1 420.6H531V430.4H521.1zM175.9 430.4H225.2V440.3H175.9zM235.1 430.4H244.9V440.3H235.1zM264.7 430.4H274.5V440.3H264.7zM284.4 430.4H304.1V440.3H284.4zM363.3 430.4H373.2V440.3H363.3zM392.9 430.4H402.8V440.3H392.9zM412.6 430.4H422.5V440.3H412.6zM501.4 430.4H511.2V440.3H501.4zM205.5 440.3H215.4V450.1H205.5zM225.2 440.3H244.9V450.1H225.2zM264.7 440.3H274.5V450.1H264.7zM294.3 440.3H304.1V450.1H294.3zM314 440.3H323.8V450.1H314zM353.4 440.3H373.2V450.1H353.4zM412.6 440.3H442.2V450.1H412.6zM452.1 440.3H461.9V450.1H452.1zM481.7 440.3H491.5V450.1H481.7zM225.2 450.1H235.1V460H225.2zM254.8 450.1H264.7V460H254.8zM284.4 450.1H304.1V460H284.4zM323.8 450.1H333.7V460H323.8zM353.4 450.1H383V460H353.4zM402.8 450.1H422.5V460H402.8zM442.2 450.1H452.1V460H442.2zM491.5 450.1H501.4V460H491.5zM175.9 460H185.8V469.8H175.9zM225.2 460H235.1V469.8H225.2zM353.4 460H373.2V469.8H353.4zM402.8 460H422.5V469.8H402.8zM461.9 460H471.8V469.8H461.9zM491.5 460H501.4V469.8H491.5zM570.4 460H590.1V469.8H570.4zM171.4 469.8H175.9V479.7H171.4zM205.5 469.8H215.4V479.7H205.5zM363.3 469.8H373.2V479.7H363.3zM412.6 469.8H422.5V479.7H412.6zM452.1 469.8H491.5V479.7H452.1zM570.4 469.8H580.3V479.7H570.4zM363.3 479.7H373.2V489.5H363.3zM471.8 479.7H481.7V489.5H471.8zM491.5 479.7H501.4V489.5H491.5zM461.9 489.5H471.8V499.4H461.9zM570.4 489.5H580.3V499.4H570.4zM600 489.5H609.9V499.4H600zM531 499.4H540.8V509.3H531zM570.4 499.4H580.3V509.3H570.4zM609.9 499.4H619.7V509.3H609.9zM580.3 509.3H590.1V519.1H580.3zM531 519.1H560.6V529H531zM580.3 519.1H590.1V529H580.3zM540.8 529H550.7V538.8H540.8zM570.4 529H580.3V538.8H570.4zM540.8 538.8H550.7V548.7H540.8zM570.4 538.8H580.3V548.7H570.4zM590.1 538.8H600V548.7H590.1zM531 548.7H550.7V558.5H531zM560.6 558.5H570.4V568.4H560.6zM590.1 558.5H600V568.4H590.1zM590.1 568.4H600V578.2H590.1zM609.9 568.4H629.6V578.2H609.9zM540.8 578.2H560.6V588.1H540.8zM570.4 578.2H590.1V588.1H570.4zM600 578.2H609.9V588.1H600zM619.7 578.2H629.6V588.1H619.7zM639.5 578.2H649.3V588.1H639.5zM531 588.1H540.8V598H531zM550.7 588.1H570.4V598H550.7zM580.3 588.1H590.1V598H580.3zM471.8 598H481.7V607.8H471.8zM501.4 598H511.2V607.8H501.4zM560.6 598H570.4V607.8H560.6zM619.7 598H629.6V607.8H619.7zM649.3 598H659.2V607.8H649.3zM294.3 607.8H304.1V617.7H294.3zM323.8 607.8H333.7V617.7H323.8zM452.1 607.8H461.9V617.7H452.1zM540.8 607.8H550.7V617.7H540.8zM619.7 607.8H629.6V617.7H619.7zM639.5 607.8H659.2V617.7H639.5zM402.8 617.7H412.6V627.5H402.8zM432.3 617.7H442.2V627.5H432.3zM501.4 617.7H511.2V627.5H501.4zM629.6 617.7H639.5V627.5H629.6zM363.3 627.5H383V637.4H363.3zM531 627.5H540.8V637.4H531zM333.7 637.4H363.3V647.2H333.7zM383 637.4H392.9V647.2H383zM461.9 637.4H471.8V647.2H461.9zM531 637.4H540.8V647.2H531zM590.1 637.4H600V647.2H590.1zM363.3 647.2H373.2V657.1H363.3zM383 647.2H402.8V657.1H383zM412.6 647.2H422.5V657.1H412.6zM452.1 647.2H461.9V657.1H452.1zM531 647.2H540.8V657.1H531zM649.3 647.2H659.2V657.1H649.3zM353.4 657.1H363.3V666.9H353.4zM383 657.1H392.9V666.9H383zM432.3 657.1H461.9V666.9H432.3zM481.7 657.1H501.4V666.9H481.7zM521.1 657.1H531V666.9H521.1zM570.4 657.1H580.3V666.9H570.4zM619.7 657.1H629.6V666.9H619.7zM304.1 666.9H323.8V676.8H304.1zM383 666.9H392.9V676.8H383zM422.5 666.9H432.3V676.8H422.5zM471.8 666.9H491.5V676.8H471.8zM511.2 666.9H521.1V676.8H511.2zM540.8 666.9H550.7V676.8H540.8zM600 666.9H609.9V676.8H600zM294.3 676.8H304.1V686.6H294.3zM383 676.8H392.9V686.6H383zM412.6 676.8H432.3V686.6H412.6zM442.2 676.8H461.9V686.6H442.2zM471.8 676.8H491.5V686.6H471.8zM550.7 676.8H570.4V686.6H550.7zM590.1 676.8H600V686.6H590.1zM629.6 676.8H639.5V686.6H629.6zM304.1 686.6H314V696.5H304.1zM353.4 686.6H363.3V696.5H353.4zM402.8 686.6H412.6V696.5H402.8zM422.5 686.6H432.3V696.5H422.5zM452.1 686.6H461.9V696.5H452.1zM471.8 686.6H491.5V696.5H471.8zM511.2 686.6H521.1V696.5H511.2zM560.6 686.6H580.3V696.5H560.6zM412.6 696.5H432.3V706.4H412.6zM452.1 696.5H461.9V706.4H452.1zM501.4 696.5H511.2V706.4H501.4zM531 696.5H540.8V706.4H531zM550.7 696.5H560.6V706.4H550.7zM590.1 696.5H600V706.4H590.1zM659.2 696.5H669.1V706.4H659.2zM314 706.4H323.8V716.2H314zM442.2 706.4H461.9V716.2H442.2zM471.8 706.4H481.7V716.2H471.8zM501.4 706.4H511.2V716.2H501.4zM570.4 706.4H580.3V716.2H570.4zM333.7 716.2H343.6V726.1H333.7zM363.3 716.2H373.2V726.1H363.3zM461.9 716.2H481.7V726.1H461.9zM540.8 716.2H550.7V726.1H540.8zM659.2 716.2H669.1V726.1H659.2zM333.7 726.1H343.6V735.9H333.7zM422.5 726.1H432.3V735.9H422.5zM442.2 726.1H452.1V735.9H442.2zM669.1 726.1H678.9V735.9H669.1zM343.6 735.9H353.4V745.8H343.6zM392.9 735.9H412.6V745.8H392.9zM422.5 735.9H432.3V745.8H422.5zM442.2 735.9H452.1V745.8H442.2zM481.7 735.9H491.5V745.8H481.7zM669.1 735.9H678.9V745.8H669.1zM402.8 745.8H412.6V755.6H402.8zM649.3 745.8H669.1V755.6H649.3zM698.6 745.8H708.5V755.6H698.6zM304.1 755.6H314V765.5H304.1zM649.3 755.6H659.2V765.5H649.3zM688.8 755.6H708.5V765.5H688.8zM688.8 765.5H698.6V775.3H688.8zM521.1 785.2H531V795.1H521.1zM678.9 785.2H688.8V795.1H678.9z"/>
<path fill="#8080ff" d="M314 95.3H323.8V105.2H314zM531 144.6H540.8V154.5H531zM353.4 193.9H363.3V203.8H353.4zM185.8 213.6H195.6V223.5H185.8zM171.4 233.3H175.9V243.2H171.4zM185.8 233.3H205.5V243.2H185.8zM264.7 233.3H274.5V243.2H264.7zM185.8 262.9H195.6V272.7H185.8zM412.6 262.9H422.5V272.7H412.6zM442.2 262.9H452.1V272.7H442.2zM205.5 272.7H215.4V282.6H205.5zM171.4 282.6H175.9V292.4H171.4zM205.5 282.6H215.4V292.4H205.5zM175.9 292.4H185.8V302.3H175.9zM195.6 292.4H205.5V302.3H195.6zM353.4 292.4H383V302.3H353.4zM481.7 292.4H491.5V302.3H481.7zM195.6 302.3H205.5V312.2H195.6zM215.4 302.3H225.2V312.2H215.4zM461.9 302.3H471.8V312.2H461.9zM244.9 312.2H254.8V322H244.9zM392.9 312.2H402.8V322H392.9zM442.2 312.2H452.1V322H442.2zM175.9 322H185.8V331.9H175.9zM244.9 322H254.8V331.9H244.9zM333.7 322H343.6V331.9H333.7zM353.4 322H363.3V331.9H353.4zM383 322H392.9V331.9H383zM402.8 322H412.6V331.9H402.8zM452.1 322H461.9V331.9H452.1zM175.9 331.9H195.6V341.7H175.9zM225.2 331.9H235.1V341.7H225.2zM244.9 331.9H264.7V341.7H244.9zM442.2 331.9H452.1V341.7H442.2zM185.8 341.7H205.5V351.6H185.8zM215.4 341.7H235.1V351.6H215.4zM244.9 341.7H254.8V351.6H244.9zM323.8 341.7H333.7V351.6H323.8zM343.6 341.7H353.4V351.6H343.6zM383 341.7H392.9V351.6H383zM402.8 341.7H412.6V351.6H402.8zM432.3 341.7H442.2V351.6H432.3zM171.4 351.6H195.6V361.4H171.4zM205.5 351.6H215.4V361.4H205.5zM235.1 351.6H244.9V361.4H235.1zM314 351.6H323.8V361.4H314zM383 351.6H392.9V361.4H383zM481.7 351.6H491.5V361.4H481.7zM195.6 361.4H205.5V371.3H195.6zM314 361.4H323.8V371.3H314zM333.7 361.4H343.6V371.3H333.7zM353.4 361.4H373.2V371.3H353.4zM442.2 361.4H461.9V371.3H442.2zM481.7 361.4H491.5V371.3H481.7zM521.1 361.4H531V371.3H521.1zM195.6 371.3H225.2V381.1H195.6zM235.1 371.3H254.8V381.1H235.1zM333.7 371.3H383V381.1H333.7zM422.5 371.3H432.3V381.1H422.5zM511.2 371.3H521.1V381.1H511.2zM531 371.3H560.6V381.1H531zM205.5 381.1H215.4V391H205.5zM235.1 381.1H264.7V391H235.1zM304.1 381.1H314V391H304.1zM343.6 381.1H363.3V391H343.6zM471.8 381.1H491.5V391H471.8zM511.2 381.1H521.1V391H511.2zM274.5 391H284.4V400.9H274.5zM294.3 391H304.1V400.9H294.3zM314 391H323.8V400.9H314zM333.7 391H353.4V400.9H333.7zM412.6 391H432.3V400.9H412.6zM442.2 391H461.9V400.9H442.2zM501.4 391H511.2V400.9H501.4zM333.7 400.9H343.6V410.7H333.7zM383 400.9H402.8V410.7H383zM412.6 400.9H422.5V410.7H412.6zM195.6 410.7H205.5V420.6H195.6zM323.8 410.7H333.7V420.6H323.8zM343.6 410.7H353.4V420.6H343.6zM383 410.7H392.9V420.6H383zM422.5 410.7H452.1V420.6H422.5zM461.9 410.7H481.7V420.6H461.9zM205.5 420.6H215.4V430.4H205.5zM225.2 420.6H235.1V430.4H225.2zM343.6 420.6H363.3V430.4H343.6zM422.5 420.6H452.1V430.4H422.5zM461.9 420.6H471.8V430.4H461.9zM274.5 430.4H284.4V440.3H274.5zM343.6 430.4H353.4V440.3H343.6zM373.2 430.4H392.9V440.3H373.2zM402.8 430.4H412.6V440.3H402.8zM452.1 430.4H481.7V440.3H452.1zM491.5 430.4H501.4V440.3H491.5zM521.1 430.4H540.8V440.3H521.1zM284.4 440.3H294.3V450.1H284.4zM373.2 440.3H383V450.1H373.2zM461.9 440.3H481.7V450.1H461.9zM491.5 440.3H511.2V450.1H491.5zM550.7 440.3H570.4V450.1H550.7zM205.5 450.1H225.2V460H205.5zM550.7 450.1H560.6V460H550.7zM422.5 460H442.2V469.8H422.5zM491.5 469.8H511.2V479.7H491.5zM531 469.8H540.8V479.7H531zM580.3 469.8H609.9V479.7H580.3zM501.4 479.7H521.1V489.5H501.4zM560.6 479.7H570.4V489.5H560.6zM580.3 479.7H590.1V489.5H580.3zM501.4 489.5H531V499.4H501.4zM550.7 489.5H560.6V499.4H550.7zM590.1 489.5H600V499.4H590.1zM521.1 499.4H531V509.3H521.1zM550.7 499.4H560.6V509.3H550.7zM580.3 499.4H609.9V509.3H580.3zM560.6 509.3H580.3V519.1H560.6zM590.1 509.3H600V519.1H590.1zM609.9 509.3H619.7V519.1H609.9zM590.1 519.1H600V529H590.1zM550.7 529H560.6V538.8H550.7zM580.3 529H590.1V538.8H580.3zM550.7 548.7H560.6V558.5H550.7zM580.3 548.7H590.1V558.5H580.3zM600 548.7H609.9V558.5H600zM629.6 548.7H639.5V558.5H629.6zM550.7 558.5H560.6V568.4H550.7zM600 558.5H619.7V568.4H600zM639.5 558.5H649.3V568.4H639.5zM600 568.4H609.9V578.2H600zM629.6 568.4H649.3V578.2H629.6zM649.3 578.2H659.2V588.1H649.3zM570.4 588.1H580.3V598H570.4zM540.8 598H550.7V607.8H540.8zM600 598H609.9V607.8H600zM629.6 598H639.5V607.8H629.6zM669.1 598H678.9V607.8H669.1zM550.7 607.8H560.6V617.7H550.7zM570.4 607.8H580.3V617.7H570.4zM609.9 607.8H619.7V617.7H609.9zM629.6 607.8H639.5V617.7H629.6zM294.3 617.7H304.1V627.5H294.3zM323.8 617.7H333.7V627.5H323.8zM363.3 617.7H373.2V627.5H363.3zM531 617.7H550.7V627.5H531zM619.7 617.7H629.6V627.5H619.7zM333.7 627.5H343.6V637.4H333.7zM353.4 627.5H363.3V637.4H353.4zM412.6 627.5H422.5V637.4H412.6zM580.3 627.5H590.1V637.4H580.3zM600 627.5H609.9V637.4H600zM314 637.4H323.8V647.2H314zM540.8 637.4H550.7V647.2H540.8zM609.9 637.4H619.7V647.2H609.9zM659.2 637.4H669.1V647.2H659.2zM678.9 637.4H688.8V647.2H678.9zM353.4 647.2H363.3V657.1H353.4zM461.9 647.2H471.8V657.1H461.9zM294.3 657.1H304.1V666.9H294.3zM402.8 657.1H422.5V666.9H402.8zM531 657.1H540.8V666.9H531zM590.1 657.1H600V666.9H590.1zM659.2 657.1H669.1V666.9H659.2zM402.8 666.9H412.6V676.8H402.8zM432.3 666.9H442.2V676.8H432.3zM491.5 666.9H501.4V676.8H491.5zM550.7 666.9H560.6V676.8H550.7zM580.3 666.9H590.1V676.8H580.3zM698.6 666.9H708.5V676.8H698.6zM363.3 676.8H373.2V686.6H363.3zM392.9 676.8H412.6V686.6H392.9zM432.3 676.8H442.2V686.6H432.3zM570.4 676.8H590.1V686.6H570.4zM619.7 676.8H629.6V686.6H619.7zM659.2 676.8H678.9V686.6H659.2zM314 686.6H323.8V696.5H314zM412.6 686.6H422.5V696.5H412.6zM580.3 686.6H590.1V696.5H580.3zM629.6 686.6H639.5V696.5H629.6zM669.1 686.6H678.9V696.5H669.1zM314 696.5H343.6V706.4H314zM373.2 696.5H383V706.4H373.2zM402.8 696.5H412.6V706.4H402.8zM442.2 696.5H452.1V706.4H442.2zM698.6 696.5H708.5V706.4H698.6zM343.6 706.4H353.4V716.2H343.6zM432.3 706.4H442.2V716.2H432.3zM491.5 706.4H501.4V716.2H491.5zM304.1 716.2H314V726.1H304.1zM323.8 716.2H333.7V726.1H323.8zM343.6 716.2H353.4V726.1H343.6zM373.2 716.2H383V726.1H373.2zM412.6 716.2H422.5V726.1H412.6zM432.3 716.2H452.1V726.1H432.3zM669.1 716.2H708.5V726.1H669.1zM343.6 726.1H353.4V735.9H343.6zM373.2 726.1H392.9V735.9H373.2zM412.6 726.1H422.5V735.9H412.6zM432.3 726.1H442.2V735.9H432.3zM363.3 735.9H373.2V745.8H363.3zM383 735.9H392.9V745.8H383zM678.9 735.9H688.8V745.8H678.9zM392.9 755.6H402.8V765.5H392.9z"/>
<path fill="#8f8fff" d="M353.4 36.2H363.3V46.1H353.4zM452.1 46.1H461.9V55.9H452.1zM175.9 124.9H185.8V134.8H175.9zM304.1 134.8H314V144.6H304.1zM422.5 203.8H432.3V213.6H422.5zM195.6 213.6H205.5V223.5H195.6zM422.5 213.6H432.3V223.5H422.5zM171.4 223.5H175.9V233.3H171.4zM215.4 223.5H225.2V233.3H215.4zM412.6 223.5H442.2V233.3H412.6zM343.6 233.3H353.4V243.2H343.6zM432.3 243.2H442.2V253H432.3zM373.2 253H383V262.9H373.2zM402.8 253H412.6V262.9H402.8zM442.2 253H452.1V262.9H442.2zM175.9 262.9H185.8V272.7H175.9zM363.3 272.7H373.2V282.6H363.3zM175.9 282.6H185.8V292.4H175.9zM373.2 282.6H392.9V292.4H373.2zM442.2 282.6H452.1V292.4H442.2zM171.4 292.4H175.9V302.3H171.4zM392.9 292.4H402.8V302.3H392.9zM442.2 292.4H452.1V302.3H442.2zM491.5 292.4H501.4V302.3H491.5zM175.9 302.3H195.6V312.2H175.9zM373.2 302.3H383V312.2H373.2zM185.8 312.2H195.6V322H185.8zM205.5 322H215.4V331.9H205.5zM225.2 322H235.1V331.9H225.2zM254.8 322H264.7V331.9H254.8zM343.6 322H353.4V331.9H343.6zM363.3 322H383V331.9H363.3zM412.6 322H422.5V331.9H412.6zM195.6 331.9H205.5V341.7H195.6zM215.4 331.9H225.2V341.7H215.4zM343.6 331.9H363.3V341.7H343.6zM254.8 341.7H264.7V351.6H254.8zM314 341.7H323.8V351.6H314zM333.7 341.7H343.6V351.6H333.7zM363.3 341.7H383V351.6H363.3zM422.5 341.7H432.3V351.6H422.5zM550.7 341.7H560.6V351.6H550.7zM195.6 351.6H205.5V361.4H195.6zM215.4 351.6H225.2V361.4H215.4zM323.8 351.6H353.4V361.4H323.8zM373.2 351.6H383V361.4H373.2zM402.8 351.6H452.1V361.4H402.8zM461.9 351.6H481.7V361.4H461.9zM491.5 351.6H501.4V361.4H491.5zM540.8 351.6H550.7V361.4H540.8zM205.5 361.4H215.4V371.3H205.5zM235.1 361.4H254.8V371.3H235.1zM383 361.4H392.9V371.3H383zM402.8 361.4H412.6V371.3H402.8zM422.5 361.4H432.3V371.3H422.5zM471.8 361.4H481.7V371.3H471.8zM531 361.4H540.8V371.3H531zM560.6 361.4H570.4V371.3H560.6zM314 371.3H333.7V381.1H314zM392.9 371.3H402.8V381.1H392.9zM412.6 371.3H422.5V381.1H412.6zM432.3 371.3H442.2V381.1H432.3zM461.9 371.3H481.7V381.1H461.9zM560.6 371.3H570.4V381.1H560.6zM264.7 381.1H274.5V391H264.7zM314 381.1H323.8V391H314zM363.3 381.1H373.2V391H363.3zM412.6 381.1H422.5V391H412.6zM442.2 381.1H452.1V391H442.2zM531 381.1H540.8V391H531zM550.7 381.1H560.6V391H550.7zM244.9 391H254.8V400.9H244.9zM323.8 391H333.7V400.9H323.8zM392.9 391H412.6V400.9H392.9zM432.3 391H442.2V400.9H432.3zM471.8 391H481.7V400.9H471.8zM540.8 391H550.7V400.9H540.8zM343.6 400.9H353.4V410.7H343.6zM432.3 400.9H461.9V410.7H432.3zM521.1 400.9H540.8V410.7H521.1zM333.7 410.7H343.6V420.6H333.7zM452.1 420.6H461.9V430.4H452.1zM501.4 420.6H511.2V430.4H501.4zM353.4 430.4H363.3V440.3H353.4zM422.5 430.4H432.3V440.3H422.5zM511.2 430.4H521.1V440.3H511.2zM442.2 440.3H452.1V450.1H442.2zM570.4 440.3H580.3V450.1H570.4zM432.3 450.1H442.2V460H432.3zM570.4 450.1H580.3V460H570.4zM501.4 460H511.2V469.8H501.4zM550.7 460H570.4V469.8H550.7zM560.6 469.8H570.4V479.7H560.6zM521.1 479.7H531V489.5H521.1zM570.4 479.7H580.3V489.5H570.4zM600 479.7H609.9V489.5H600zM531 489.5H550.7V499.4H531zM619.7 499.4H629.6V509.3H619.7zM600 509.3H609.9V519.1H600zM619.7 509.3H629.6V519.1H619.7zM600 519.1H609.9V529H600zM619.7 519.1H629.6V529H619.7zM600 529H609.9V538.8H600zM580.3 538.8H590.1V548.7H580.3zM600 538.8H609.9V548.7H600zM590.1 548.7H600V558.5H590.1zM619.7 558.5H639.5V568.4H619.7zM649.3 558.5H659.2V568.4H649.3zM649.3 568.4H659.2V578.2H649.3zM669.1 568.4H678.9V578.2H669.1zM580.3 598H600V607.8H580.3zM659.2 598H669.1V607.8H659.2zM314 607.8H323.8V617.7H314zM580.3 607.8H609.9V617.7H580.3zM314 617.7H323.8V627.5H314zM461.9 617.7H471.8V627.5H461.9zM550.7 617.7H560.6V627.5H550.7zM570.4 617.7H580.3V627.5H570.4zM590.1 617.7H609.9V627.5H590.1zM550.7 627.5H570.4V637.4H550.7zM294.3 637.4H304.1V647.2H294.3zM422.5 637.4H432.3V647.2H422.5zM560.6 637.4H580.3V647.2H560.6zM343.6 647.2H353.4V657.1H343.6zM590.1 647.2H629.6V657.1H590.1zM659.2 647.2H669.1V657.1H659.2zM392.9 657.1H402.8V666.9H392.9zM540.8 657.1H560.6V666.9H540.8zM600 657.1H609.9V666.9H600zM363.3 666.9H383V676.8H363.3zM392.9 666.9H402.8V676.8H392.9zM590.1 666.9H600V676.8H590.1zM659.2 666.9H669.1V676.8H659.2zM304.1 676.8H323.8V686.6H304.1zM373.2 676.8H383V686.6H373.2zM333.7 686.6H343.6V696.5H333.7zM373.2 686.6H392.9V696.5H373.2zM461.9 686.6H471.8V696.5H461.9zM353.4 696.5H373.2V706.4H353.4zM383 696.5H392.9V706.4H383zM412.6 706.4H422.5V716.2H412.6zM669.1 706.4H678.9V716.2H669.1zM363.3 726.1H373.2V735.9H363.3zM402.8 726.1H412.6V735.9H402.8zM678.9 726.1H688.8V735.9H678.9z"/>
<path fill="#9f9fff" d="M540.8 36.2H550.7V46.1H540.8zM314 65.8H323.8V75.6H314zM274.5 85.5H284.4V95.3H274.5zM373.2 85.5H383V95.3H373.2zM432.3 85.5H442.2V95.3H432.3zM225.2 115.1H244.9V124.9H225.2zM333.7 115.1H343.6V124.9H333.7zM304.1 184H314V193.9H304.1zM215.4 203.8H225.2V213.6H215.4zM412.6 203.8H422.5V213.6H412.6zM432.3 203.8H442.2V213.6H432.3zM323.8 213.6H333.7V223.5H323.8zM185.8 223.5H195.6V233.3H185.8zM363.3 223.5H373.2V233.3H363.3zM175.9 233.3H185.8V243.2H175.9zM185.8 243.2H215.4V253H185.8zM392.9 243.2H402.8V253H392.9zM171.4 253H175.9V262.9H171.4zM195.6 253H205.5V262.9H195.6zM264.7 253H274.5V262.9H264.7zM422.5 253H432.3V262.9H422.5zM171.4 262.9H175.9V272.7H171.4zM205.5 262.9H215.4V272.7H205.5zM235.1 262.9H244.9V272.7H235.1zM422.5 262.9H442.2V272.7H422.5zM353.4 272.7H363.3V282.6H353.4zM392.9 272.7H402.8V282.6H392.9zM205.5 292.4H215.4V302.3H205.5zM383 292.4H392.9V302.3H383zM452.1 292.4H461.9V302.3H452.1zM343.6 302.3H353.4V312.2H343.6zM392.9 302.3H412.6V312.2H392.9zM511.2 302.3H521.1V312.2H511.2zM175.9 312.2H185.8V322H175.9zM235.1 312.2H244.9V322H235.1zM215.4 322H225.2V331.9H215.4zM392.9 322H402.8V331.9H392.9zM461.9 322H481.7V331.9H461.9zM511.2 322H521.1V331.9H511.2zM205.5 331.9H215.4V341.7H205.5zM314 331.9H323.8V341.7H314zM333.7 331.9H343.6V341.7H333.7zM383 331.9H392.9V341.7H383zM452.1 331.9H471.8V341.7H452.1zM481.7 331.9H491.5V341.7H481.7zM521.1 331.9H531V341.7H521.1zM205.5 341.7H215.4V351.6H205.5zM353.4 341.7H363.3V351.6H353.4zM442.2 341.7H452.1V351.6H442.2zM531 341.7H540.8V351.6H531zM353.4 351.6H363.3V361.4H353.4zM323.8 361.4H333.7V371.3H323.8zM412.6 361.4H422.5V371.3H412.6zM432.3 361.4H442.2V371.3H432.3zM501.4 361.4H511.2V371.3H501.4zM264.7 371.3H274.5V381.1H264.7zM383 371.3H392.9V381.1H383zM402.8 371.3H412.6V381.1H402.8zM333.7 381.1H343.6V391H333.7zM432.3 381.1H442.2V391H432.3zM284.4 391H294.3V400.9H284.4zM461.9 400.9H471.8V410.7H461.9zM402.8 410.7H412.6V420.6H402.8zM531 410.7H550.7V420.6H531zM511.2 420.6H521.1V430.4H511.2zM540.8 430.4H550.7V440.3H540.8zM511.2 440.3H521.1V450.1H511.2zM540.8 440.3H550.7V450.1H540.8zM600 440.3H609.9V450.1H600zM511.2 450.1H521.1V460H511.2zM560.6 450.1H570.4V460H560.6zM580.3 450.1H600V460H580.3zM590.1 460H609.9V469.8H590.1zM550.7 469.8H560.6V479.7H550.7zM550.7 479.7H560.6V489.5H550.7zM609.9 479.7H629.6V489.5H609.9zM560.6 489.5H570.4V499.4H560.6zM580.3 489.5H590.1V499.4H580.3zM609.9 489.5H619.7V499.4H609.9zM629.6 509.3H639.5V519.1H629.6zM609.9 519.1H619.7V529H609.9zM649.3 519.1H659.2V529H649.3zM590.1 529H600V538.8H590.1zM619.7 529H629.6V538.8H619.7zM609.9 538.8H649.3V548.7H609.9zM609.9 548.7H629.6V558.5H609.9zM639.5 548.7H649.3V558.5H639.5zM659.2 548.7H669.1V558.5H659.2zM659.2 568.4H669.1V578.2H659.2zM678.9 568.4H688.8V578.2H678.9zM304.1 617.7H314V627.5H304.1zM560.6 617.7H570.4V627.5H560.6zM580.3 617.7H590.1V627.5H580.3zM609.9 617.7H619.7V627.5H609.9zM314 627.5H323.8V637.4H314zM609.9 627.5H619.7V637.4H609.9zM600 637.4H609.9V647.2H600zM649.3 637.4H659.2V647.2H649.3zM669.1 637.4H678.9V647.2H669.1zM323.8 647.2H343.6V657.1H323.8zM540.8 647.2H590.1V657.1H540.8zM343.6 657.1H353.4V666.9H343.6zM323.8 666.9H333.7V676.8H323.8zM560.6 666.9H580.3V676.8H560.6zM609.9 666.9H619.7V676.8H609.9zM688.8 666.9H698.6V676.8H688.8zM728.2 666.9H738.1V676.8H728.2zM333.7 676.8H343.6V686.6H333.7zM678.9 676.8H688.8V686.6H678.9zM363.3 686.6H373.2V696.5H363.3zM392.9 686.6H402.8V696.5H392.9zM659.2 686.6H669.1V696.5H659.2zM678.9 686.6H688.8V696.5H678.9zM708.5 686.6H718.4V696.5H708.5zM392.9 696.5H402.8V706.4H392.9zM688.8 696.5H698.6V706.4H688.8zM323.8 706.4H333.7V716.2H323.8zM373.2 706.4H392.9V716.2H373.2zM708.5 735.9H718.4V745.8H708.5z"/>
<path fill="#afafff" d="M294.3 46.1H304.1V55.9H294.3zM481.7 46.1H491.5V55.9H481.7zM432.3 65.8H442.2V75.6H432.3zM481.7 65.8H491.5V75.6H481.7zM531 85.5H540.8V95.3H531zM175.9 95.3H185.8V105.2H175.9zM284.4 95.3H294.3V105.2H284.4zM185.8 105.2H195.6V115.1H185.8zM294.3 105.2H304.1V115.1H294.3zM215.4 134.8H225.2V144.6H215.4zM481.7 164.3H491.5V174.2H481.7zM392.9 203.8H402.8V213.6H392.9zM442.2 203.8H452.1V213.6H442.2zM363.3 213.6H392.9V223.5H363.3zM412.6 213.6H422.5V223.5H412.6zM432.3 213.6H442.2V223.5H432.3zM392.9 223.5H412.6V233.3H392.9zM205.5 233.3H215.4V243.2H205.5zM412.6 233.3H422.5V243.2H412.6zM432.3 233.3H442.2V243.2H432.3zM452.1 233.3H461.9V243.2H452.1zM254.8 243.2H264.7V253H254.8zM383 243.2H392.9V253H383zM402.8 243.2H412.6V253H402.8zM205.5 253H215.4V262.9H205.5zM392.9 253H402.8V262.9H392.9zM383 272.7H392.9V282.6H383zM432.3 272.7H442.2V282.6H432.3zM235.1 282.6H244.9V292.4H235.1zM471.8 282.6H481.7V292.4H471.8zM254.8 292.4H264.7V302.3H254.8zM412.6 292.4H422.5V302.3H412.6zM471.8 292.4H481.7V302.3H471.8zM205.5 302.3H215.4V312.2H205.5zM353.4 302.3H373.2V312.2H353.4zM383 302.3H392.9V312.2H383zM422.5 302.3H432.3V312.2H422.5zM452.1 302.3H461.9V312.2H452.1zM471.8 302.3H481.7V312.2H471.8zM501.4 302.3H511.2V312.2H501.4zM195.6 312.2H225.2V322H195.6zM373.2 312.2H392.9V322H373.2zM412.6 312.2H422.5V322H412.6zM452.1 312.2H461.9V322H452.1zM195.6 322H205.5V331.9H195.6zM422.5 322H432.3V331.9H422.5zM481.7 322H491.5V331.9H481.7zM550.7 322H560.6V331.9H550.7zM171.4 331.9H175.9V341.7H171.4zM402.8 331.9H412.6V341.7H402.8zM501.4 331.9H521.1V341.7H501.4zM461.9 341.7H471.8V351.6H461.9zM481.7 341.7H491.5V351.6H481.7zM560.6 341.7H570.4V351.6H560.6zM284.4 351.6H294.3V361.4H284.4zM521.1 351.6H531V361.4H521.1zM570.4 351.6H580.3V361.4H570.4zM304.1 361.4H314V371.3H304.1zM511.2 361.4H521.1V371.3H511.2zM274.5 371.3H284.4V381.1H274.5zM304.1 371.3H314V381.1H304.1zM452.1 371.3H461.9V381.1H452.1zM481.7 371.3H491.5V381.1H481.7zM383 381.1H392.9V391H383zM560.6 381.1H570.4V391H560.6zM531 391H540.8V400.9H531zM540.8 400.9H560.6V410.7H540.8zM560.6 410.7H570.4V420.6H560.6zM540.8 420.6H570.4V430.4H540.8zM570.4 430.4H600V440.3H570.4zM521.1 440.3H540.8V450.1H521.1zM501.4 450.1H511.2V460H501.4zM511.2 469.8H521.1V479.7H511.2zM609.9 469.8H619.7V479.7H609.9zM540.8 479.7H550.7V489.5H540.8zM639.5 509.3H659.2V519.1H639.5zM629.6 529H639.5V538.8H629.6zM649.3 529H659.2V538.8H649.3zM659.2 538.8H669.1V548.7H659.2zM649.3 548.7H659.2V558.5H649.3zM659.2 558.5H669.1V568.4H659.2zM659.2 578.2H669.1V588.1H659.2zM659.2 588.1H678.9V598H659.2zM304.1 627.5H314V637.4H304.1zM323.8 627.5H333.7V637.4H323.8zM304.1 637.4H314V647.2H304.1zM323.8 637.4H333.7V647.2H323.8zM550.7 637.4H560.6V647.2H550.7zM580.3 637.4H590.1V647.2H580.3zM314 647.2H323.8V657.1H314zM669.1 647.2H688.8V657.1H669.1zM560.6 657.1H570.4V666.9H560.6zM333.7 666.9H363.3V676.8H333.7zM669.1 666.9H688.8V676.8H669.1zM343.6 676.8H353.4V686.6H343.6zM748 676.8H757.8V686.6H748zM678.9 696.5H688.8V706.4H678.9zM678.9 706.4H688.8V716.2H678.9zM383 716.2H392.9V726.1H383zM698.6 726.1H708.5V735.9H698.6zM698.6 735.9H708.5V745.8H698.6z"/>
<path fill="#bfbfff" d="M392.9 26.4H412.6V36.2H392.9zM412.6 36.2H422.5V46.1H412.6zM550.7 36.2H560.6V46.1H550.7zM363.3 46.1H373.2V55.9H363.3zM353.4 55.9H363.3V65.8H353.4zM373.2 55.9H383V65.8H373.2zM540.8 55.9H550.7V65.8H540.8zM343.6 65.8H353.4V75.6H343.6zM471.8 65.8H481.7V75.6H471.8zM452.1 85.5H461.9V95.3H452.1zM491.5 85.5H501.4V95.3H491.5zM171.4 95.3H175.9V105.2H171.4zM531 105.2H540.8V115.1H531zM175.9 115.1H185.8V124.9H175.9zM195.6 115.1H205.5V124.9H195.6zM205.5 124.9H215.4V134.8H205.5zM333.7 124.9H343.6V134.8H333.7zM185.8 134.8H195.6V144.6H185.8zM392.9 134.8H402.8V144.6H392.9zM491.5 154.5H501.4V164.3H491.5zM560.6 154.5H570.4V164.3H560.6zM185.8 164.3H195.6V174.2H185.8zM452.1 164.3H461.9V174.2H452.1zM491.5 164.3H501.4V174.2H491.5zM205.5 174.2H215.4V184H205.5zM244.9 174.2H254.8V184H244.9zM353.4 174.2H363.3V184H353.4zM235.1 193.9H244.9V203.8H235.1zM333.7 203.8H343.6V213.6H333.7zM363.3 203.8H373.2V213.6H363.3zM531 203.8H540.8V213.6H531zM244.9 213.6H254.8V223.5H244.9zM402.8 213.6H412.6V223.5H402.8zM452.1 213.6H461.9V223.5H452.1zM471.8 213.6H481.7V223.5H471.8zM511.2 213.6H521.1V223.5H511.2zM175.9 223.5H185.8V233.3H175.9zM205.5 223.5H215.4V233.3H205.5zM383 223.5H392.9V233.3H383zM225.2 233.3H235.1V243.2H225.2zM254.8 233.3H264.7V243.2H254.8zM304.1 233.3H314V243.2H304.1zM392.9 233.3H402.8V243.2H392.9zM442.2 233.3H452.1V243.2H442.2zM461.9 233.3H471.8V243.2H461.9zM225.2 243.2H254.8V253H225.2zM373.2 243.2H383V253H373.2zM412.6 243.2H422.5V253H412.6zM215.4 253H225.2V262.9H215.4zM235.1 253H244.9V262.9H235.1zM304.1 253H314V262.9H304.1zM383 253H392.9V262.9H383zM452.1 253H461.9V262.9H452.1zM215.4 262.9H235.1V272.7H215.4zM244.9 262.9H254.8V272.7H244.9zM363.3 262.9H373.2V272.7H363.3zM383 262.9H392.9V272.7H383zM402.8 262.9H412.6V272.7H402.8zM294.3 272.7H304.1V282.6H294.3zM373.2 272.7H383V282.6H373.2zM402.8 272.7H412.6V282.6H402.8zM481.7 282.6H491.5V292.4H481.7zM215.4 292.4H225.2V302.3H215.4zM402.8 292.4H412.6V302.3H402.8zM432.3 292.4H442.2V302.3H432.3zM461.9 292.4H471.8V302.3H461.9zM244.9 302.3H254.8V312.2H244.9zM432.3 302.3H442.2V312.2H432.3zM225.2 312.2H235.1V322H225.2zM402.8 312.2H412.6V322H402.8zM432.3 312.2H442.2V322H432.3zM461.9 312.2H471.8V322H461.9zM481.7 312.2H501.4V322H481.7zM323.8 322H333.7V331.9H323.8zM323.8 331.9H333.7V341.7H323.8zM491.5 331.9H501.4V341.7H491.5zM550.7 331.9H570.4V341.7H550.7zM304.1 341.7H314V351.6H304.1zM471.8 341.7H481.7V351.6H471.8zM491.5 341.7H521.1V351.6H491.5zM501.4 351.6H511.2V361.4H501.4zM560.6 351.6H570.4V361.4H560.6zM580.3 351.6H590.1V361.4H580.3zM570.4 361.4H580.3V371.3H570.4zM570.4 371.3H580.3V381.1H570.4zM274.5 381.1H304.1V391H274.5zM570.4 381.1H580.3V391H570.4zM550.7 391H570.4V400.9H550.7zM570.4 400.9H580.3V410.7H570.4zM550.7 410.7H560.6V420.6H550.7zM570.4 420.6H580.3V430.4H570.4zM580.3 440.3H590.1V450.1H580.3zM471.8 450.1H481.7V460H471.8zM521.1 450.1H531V460H521.1zM481.7 460H491.5V469.8H481.7zM511.2 460H531V469.8H511.2zM540.8 460H550.7V469.8H540.8zM609.9 460H619.7V469.8H609.9zM531 479.7H540.8V489.5H531zM619.7 489.5H639.5V499.4H619.7zM639.5 499.4H649.3V509.3H639.5zM639.5 519.1H649.3V529H639.5zM659.2 519.1H669.1V529H659.2zM609.9 529H619.7V538.8H609.9zM639.5 529H649.3V538.8H639.5zM649.3 538.8H659.2V548.7H649.3zM669.1 548.7H678.9V558.5H669.1zM678.9 578.2H698.6V588.1H678.9zM678.9 588.1H698.6V598H678.9zM669.1 607.8H678.9V617.7H669.1zM678.9 617.7H688.8V627.5H678.9zM570.4 627.5H580.3V637.4H570.4zM590.1 627.5H600V637.4H590.1zM659.2 627.5H678.9V637.4H659.2zM708.5 637.4H718.4V647.2H708.5zM688.8 647.2H698.6V657.1H688.8zM718.4 647.2H728.2V657.1H718.4zM373.2 657.1H383V666.9H373.2zM669.1 657.1H688.8V666.9H669.1zM353.4 676.8H363.3V686.6H353.4zM215.4 686.6H225.2V696.5H215.4zM215.4 696.5H225.2V706.4H215.4zM738.1 696.5H748V706.4H738.1zM392.9 706.4H402.8V716.2H392.9z"/>
<path fill="#cfcfff" d="M600 10.4H609.9V16.5H600zM540.8 26.4H550.7V36.2H540.8zM511.2 36.2H521.1V46.1H511.2zM185.8 46.1H195.6V55.9H185.8zM343.6 46.1H353.4V55.9H343.6zM560.6 46.1H570.4V55.9H560.6zM244.9 65.8H254.8V75.6H244.9zM363.3 65.8H373.2V75.6H363.3zM442.2 75.6H452.1V85.5H442.2zM383 85.5H392.9V95.3H383zM481.7 85.5H491.5V95.3H481.7zM205.5 95.3H215.4V105.2H205.5zM363.3 95.3H373.2V105.2H363.3zM412.6 95.3H422.5V105.2H412.6zM560.6 95.3H570.4V105.2H560.6zM195.6 105.2H205.5V115.1H195.6zM314 105.2H323.8V115.1H314zM432.3 105.2H442.2V115.1H432.3zM205.5 115.1H215.4V124.9H205.5zM323.8 115.1H333.7V124.9H323.8zM412.6 115.1H422.5V124.9H412.6zM442.2 134.8H461.9V144.6H442.2zM501.4 134.8H511.2V144.6H501.4zM205.5 144.6H215.4V154.5H205.5zM491.5 144.6H501.4V154.5H491.5zM511.2 144.6H521.1V154.5H511.2zM185.8 154.5H195.6V164.3H185.8zM432.3 164.3H442.2V174.2H432.3zM175.9 174.2H185.8V184H175.9zM540.8 174.2H550.7V184H540.8zM235.1 184H244.9V193.9H235.1zM171.4 193.9H175.9V203.8H171.4zM471.8 193.9H481.7V203.8H471.8zM304.1 203.8H314V213.6H304.1zM521.1 203.8H531V213.6H521.1zM264.7 213.6H274.5V223.5H264.7zM343.6 213.6H353.4V223.5H343.6zM392.9 213.6H402.8V223.5H392.9zM195.6 223.5H205.5V233.3H195.6zM244.9 223.5H264.7V233.3H244.9zM373.2 223.5H383V233.3H373.2zM442.2 223.5H452.1V233.3H442.2zM274.5 233.3H284.4V243.2H274.5zM333.7 233.3H343.6V243.2H333.7zM422.5 233.3H432.3V243.2H422.5zM471.8 233.3H481.7V243.2H471.8zM225.2 253H235.1V262.9H225.2zM353.4 253H363.3V262.9H353.4zM195.6 262.9H205.5V272.7H195.6zM373.2 262.9H383V272.7H373.2zM452.1 262.9H461.9V272.7H452.1zM235.1 272.7H244.9V282.6H235.1zM422.5 272.7H432.3V282.6H422.5zM471.8 272.7H481.7V282.6H471.8zM491.5 272.7H501.4V282.6H491.5zM215.4 282.6H235.1V292.4H215.4zM333.7 282.6H343.6V292.4H333.7zM363.3 282.6H373.2V292.4H363.3zM412.6 282.6H422.5V292.4H412.6zM461.9 282.6H471.8V292.4H461.9zM491.5 282.6H501.4V292.4H491.5zM235.1 292.4H244.9V302.3H235.1zM333.7 292.4H343.6V302.3H333.7zM501.4 292.4H511.2V302.3H501.4zM225.2 302.3H244.9V312.2H225.2zM412.6 302.3H422.5V312.2H412.6zM531 302.3H540.8V312.2H531zM570.4 302.3H580.3V312.2H570.4zM323.8 312.2H333.7V322H323.8zM422.5 312.2H432.3V322H422.5zM471.8 312.2H481.7V322H471.8zM511.2 312.2H521.1V322H511.2zM550.7 312.2H560.6V322H550.7zM491.5 322H511.2V331.9H491.5zM560.6 322H570.4V331.9H560.6zM304.1 331.9H314V341.7H304.1zM471.8 331.9H481.7V341.7H471.8zM531 331.9H540.8V341.7H531zM521.1 341.7H531V351.6H521.1zM570.4 341.7H580.3V351.6H570.4zM264.7 351.6H274.5V361.4H264.7zM304.1 351.6H314V361.4H304.1zM274.5 361.4H284.4V371.3H274.5zM294.3 361.4H304.1V371.3H294.3zM590.1 361.4H600V371.3H590.1zM580.3 381.1H590.1V391H580.3zM570.4 391H590.1V400.9H570.4zM560.6 400.9H570.4V410.7H560.6zM521.1 410.7H531V420.6H521.1zM600 430.4H609.9V440.3H600zM590.1 440.3H600V450.1H590.1zM531 450.1H550.7V460H531zM600 450.1H609.9V460H600zM531 460H540.8V469.8H531zM521.1 469.8H531V479.7H521.1zM629.6 479.7H639.5V489.5H629.6zM639.5 489.5H649.3V499.4H639.5zM649.3 499.4H659.2V509.3H649.3zM629.6 519.1H639.5V529H629.6zM669.1 519.1H678.9V529H669.1zM560.6 529H570.4V538.8H560.6zM659.2 529H678.9V538.8H659.2zM669.1 538.8H688.8V548.7H669.1zM511.2 548.7H521.1V558.5H511.2zM511.2 558.5H521.1V568.4H511.2zM669.1 558.5H678.9V568.4H669.1zM669.1 578.2H678.9V588.1H669.1zM678.9 598H708.5V607.8H678.9zM678.9 607.8H698.6V617.7H678.9zM659.2 617.7H678.9V627.5H659.2zM678.9 627.5H688.8V637.4H678.9zM304.1 647.2H314V657.1H304.1zM323.8 657.1H343.6V666.9H323.8zM688.8 657.1H698.6V666.9H688.8zM738.1 657.1H748V666.9H738.1zM688.8 676.8H708.5V686.6H688.8zM343.6 686.6H353.4V696.5H343.6zM343.6 696.5H353.4V706.4H343.6zM718.4 696.5H728.2V706.4H718.4zM363.3 706.4H373.2V716.2H363.3zM264.7 716.2H274.5V726.1H264.7zM402.8 716.2H412.6V726.1H402.8zM264.7 726.1H274.5V735.9H264.7zM718.4 726.1H728.2V735.9H718.4zM274.5 735.9H284.4V745.8H274.5zM284.4 745.8H294.3V755.6H284.4zM432.3 745.8H442.2V755.6H432.3zM353.4 755.6H363.3V765.5H353.4zM244.9 775.3H254.8V785.2H244.9zM294.3 775.3H304.1V785.2H294.3z"/>
<path fill="#dfdfff" d="M323.8 26.4H333.7V36.2H323.8zM343.6 26.4H353.4V36.2H343.6zM185.8 36.2H195.6V46.1H185.8zM225.2 36.2H235.1V46.1H225.2zM274.5 46.1H284.4V55.9H274.5zM353.4 46.1H363.3V55.9H353.4zM412.6 46.1H422.5V55.9H412.6zM540.8 46.1H550.7V55.9H540.8zM235.1 55.9H254.8V65.8H235.1zM314 55.9H323.8V65.8H314zM343.6 55.9H353.4V65.8H343.6zM560.6 55.9H570.4V65.8H560.6zM412.6 65.8H432.3V75.6H412.6zM461.9 65.8H471.8V75.6H461.9zM501.4 65.8H511.2V75.6H501.4zM481.7 75.6H491.5V85.5H481.7zM501.4 75.6H521.1V85.5H501.4zM254.8 85.5H264.7V95.3H254.8zM284.4 85.5H294.3V95.3H284.4zM333.7 85.5H343.6V95.3H333.7zM363.3 85.5H373.2V95.3H363.3zM402.8 95.3H412.6V105.2H402.8zM215.4 105.2H225.2V115.1H215.4zM274.5 105.2H284.4V115.1H274.5zM343.6 105.2H363.3V115.1H343.6zM491.5 105.2H501.4V115.1H491.5zM491.5 115.1H521.1V124.9H491.5zM171.4 124.9H175.9V134.8H171.4zM205.5 134.8H215.4V144.6H205.5zM225.2 134.8H235.1V144.6H225.2zM264.7 134.8H274.5V144.6H264.7zM461.9 134.8H471.8V144.6H461.9zM171.4 144.6H175.9V154.5H171.4zM215.4 144.6H225.2V154.5H215.4zM392.9 144.6H402.8V154.5H392.9zM195.6 154.5H205.5V164.3H195.6zM244.9 154.5H254.8V164.3H244.9zM481.7 154.5H491.5V164.3H481.7zM215.4 164.3H225.2V174.2H215.4zM471.8 164.3H481.7V174.2H471.8zM531 164.3H540.8V174.2H531zM314 174.2H323.8V184H314zM363.3 174.2H373.2V184H363.3zM481.7 174.2H491.5V184H481.7zM244.9 184H254.8V193.9H244.9zM244.9 193.9H254.8V203.8H244.9zM343.6 193.9H353.4V203.8H343.6zM205.5 203.8H215.4V213.6H205.5zM323.8 203.8H333.7V213.6H323.8zM461.9 203.8H471.8V213.6H461.9zM205.5 213.6H215.4V223.5H205.5zM353.4 213.6H363.3V223.5H353.4zM461.9 213.6H471.8V223.5H461.9zM235.1 223.5H244.9V233.3H235.1zM264.7 223.5H274.5V233.3H264.7zM314 223.5H333.7V233.3H314zM452.1 223.5H461.9V233.3H452.1zM353.4 233.3H363.3V243.2H353.4zM215.4 243.2H225.2V253H215.4zM264.7 243.2H274.5V253H264.7zM284.4 243.2H294.3V253H284.4zM442.2 243.2H461.9V253H442.2zM570.4 243.2H580.3V253H570.4zM254.8 253H264.7V262.9H254.8zM461.9 253H471.8V262.9H461.9zM254.8 262.9H264.7V272.7H254.8zM461.9 262.9H471.8V272.7H461.9zM570.4 262.9H580.3V272.7H570.4zM215.4 272.7H235.1V282.6H215.4zM244.9 272.7H254.8V282.6H244.9zM323.8 272.7H343.6V282.6H323.8zM412.6 272.7H422.5V282.6H412.6zM461.9 272.7H471.8V282.6H461.9zM511.2 272.7H521.1V282.6H511.2zM452.1 282.6H461.9V292.4H452.1zM225.2 292.4H235.1V302.3H225.2zM481.7 302.3H501.4V312.2H481.7zM521.1 302.3H531V312.2H521.1zM254.8 312.2H264.7V322H254.8zM333.7 312.2H343.6V322H333.7zM501.4 312.2H511.2V322H501.4zM521.1 312.2H540.8V322H521.1zM560.6 312.2H580.3V322H560.6zM521.1 322H531V331.9H521.1zM570.4 331.9H590.1V341.7H570.4zM540.8 341.7H550.7V351.6H540.8zM580.3 341.7H590.1V351.6H580.3zM264.7 361.4H274.5V371.3H264.7zM580.3 420.6H590.1V430.4H580.3zM550.7 430.4H560.6V440.3H550.7zM609.9 450.1H619.7V460H609.9zM540.8 469.8H550.7V479.7H540.8zM619.7 469.8H629.6V479.7H619.7zM629.6 499.4H639.5V509.3H629.6zM659.2 509.3H669.1V519.1H659.2zM688.8 538.8H698.6V548.7H688.8zM678.9 548.7H688.8V558.5H678.9zM688.8 568.4H698.6V578.2H688.8zM688.8 617.7H698.6V627.5H688.8zM294.3 627.5H304.1V637.4H294.3zM314 657.1H323.8V666.9H314zM688.8 686.6H708.5V696.5H688.8zM284.4 706.4H294.3V716.2H284.4zM314 735.9H323.8V745.8H314zM244.9 745.8H254.8V755.6H244.9z"/>
<path fill="#efefff" d="M452.1 26.4H461.9V36.2H452.1zM560.6 26.4H570.4V36.2H560.6zM205.5 36.2H215.4V46.1H205.5zM304.1 36.2H314V46.1H304.1zM531 36.2H540.8V46.1H531zM373.2 46.1H383V55.9H373.2zM323.8 55.9H333.7V65.8H323.8zM205.5 65.8H215.4V75.6H205.5zM235.1 65.8H244.9V75.6H235.1zM284.4 65.8H294.3V75.6H284.4zM333.7 65.8H343.6V75.6H333.7zM491.5 65.8H501.4V75.6H491.5zM235.1 75.6H244.9V85.5H235.1zM353.4 75.6H363.3V85.5H353.4zM432.3 75.6H442.2V85.5H432.3zM540.8 75.6H550.7V85.5H540.8zM294.3 85.5H304.1V95.3H294.3zM304.1 95.3H314V105.2H304.1zM323.8 95.3H333.7V105.2H323.8zM442.2 95.3H452.1V105.2H442.2zM205.5 105.2H215.4V115.1H205.5zM402.8 105.2H412.6V115.1H402.8zM560.6 105.2H570.4V115.1H560.6zM171.4 115.1H175.9V124.9H171.4zM185.8 124.9H195.6V134.8H185.8zM215.4 124.9H225.2V134.8H215.4zM235.1 134.8H244.9V144.6H235.1zM235.1 144.6H244.9V154.5H235.1zM373.2 144.6H383V154.5H373.2zM452.1 144.6H461.9V154.5H452.1zM550.7 144.6H560.6V154.5H550.7zM205.5 154.5H215.4V164.3H205.5zM452.1 154.5H461.9V164.3H452.1zM471.8 154.5H481.7V164.3H471.8zM363.3 164.3H373.2V174.2H363.3zM560.6 164.3H570.4V174.2H560.6zM294.3 174.2H304.1V184H294.3zM333.7 174.2H343.6V184H333.7zM432.3 174.2H442.2V184H432.3zM501.4 174.2H511.2V184H501.4zM521.1 174.2H531V184H521.1zM254.8 184H264.7V193.9H254.8zM531 184H540.8V193.9H531zM185.8 193.9H195.6V203.8H185.8zM225.2 193.9H235.1V203.8H225.2zM294.3 193.9H304.1V203.8H294.3zM373.2 193.9H383V203.8H373.2zM244.9 203.8H254.8V213.6H244.9zM383 203.8H392.9V213.6H383zM402.8 203.8H412.6V213.6H402.8zM452.1 203.8H461.9V213.6H452.1zM540.8 203.8H550.7V213.6H540.8zM215.4 213.6H225.2V223.5H215.4zM274.5 213.6H284.4V223.5H274.5zM304.1 213.6H314V223.5H304.1zM442.2 213.6H452.1V223.5H442.2zM471.8 223.5H491.5V233.3H471.8zM215.4 233.3H225.2V243.2H215.4zM363.3 233.3H373.2V243.2H363.3zM383 233.3H392.9V243.2H383zM422.5 243.2H432.3V253H422.5zM244.9 253H254.8V262.9H244.9zM314 253H323.8V262.9H314zM363.3 253H373.2V262.9H363.3zM412.6 253H422.5V262.9H412.6zM432.3 253H442.2V262.9H432.3zM550.7 262.9H560.6V272.7H550.7zM284.4 272.7H294.3V282.6H284.4zM244.9 282.6H254.8V292.4H244.9zM343.6 282.6H353.4V292.4H343.6zM432.3 282.6H442.2V292.4H432.3zM244.9 292.4H254.8V302.3H244.9zM254.8 302.3H264.7V312.2H254.8zM540.8 302.3H550.7V312.2H540.8zM540.8 312.2H550.7V322H540.8zM264.7 322H274.5V331.9H264.7zM304.1 322H314V331.9H304.1zM531 322H550.7V331.9H531zM570.4 322H590.1V331.9H570.4zM264.7 341.7H274.5V351.6H264.7zM590.1 341.7H600V351.6H590.1zM274.5 351.6H284.4V361.4H274.5zM590.1 351.6H600V361.4H590.1zM580.3 361.4H590.1V371.3H580.3zM580.3 371.3H600V381.1H580.3zM580.3 400.9H590.1V410.7H580.3zM590.1 420.6H600V430.4H590.1zM609.9 440.3H619.7V450.1H609.9zM619.7 450.1H629.6V460H619.7zM688.8 558.5H698.6V568.4H688.8zM698.6 578.2H708.5V588.1H698.6zM698.6 588.1H708.5V598H698.6zM659.2 607.8H669.1V617.7H659.2zM698.6 617.7H708.5V627.5H698.6zM698.6 657.1H718.4V666.9H698.6z"/>
<path fill="#ffffff" d="M175.9 10.4H185.8V16.5H175.9zM422.5 26.4H432.3V36.2H422.5zM481.7 26.4H491.5V36.2H481.7zM294.3 36.2H304.1V46.1H294.3zM392.9 36.2H402.8V46.1H392.9zM432.3 36.2H442.2V46.1H432.3zM461.9 36.2H471.8V46.1H461.9zM254.8 46.1H264.7V55.9H254.8zM442.2 46.1H452.1V55.9H442.2zM185.8 55.9H195.6V65.8H185.8zM205.5 55.9H215.4V65.8H205.5zM284.4 55.9H294.3V65.8H284.4zM363.3 55.9H373.2V65.8H363.3zM392.9 55.9H402.8V65.8H392.9zM432.3 55.9H442.2V65.8H432.3zM461.9 55.9H471.8V65.8H461.9zM550.7 55.9H560.6V65.8H550.7zM531 65.8H540.8V75.6H531zM195.6 75.6H205.5V85.5H195.6zM244.9 75.6H254.8V85.5H244.9zM491.5 75.6H501.4V85.5H491.5zM521.1 75.6H531V85.5H521.1zM175.9 85.5H195.6V95.3H175.9zM205.5 85.5H215.4V95.3H205.5zM422.5 85.5H432.3V95.3H422.5zM442.2 85.5H452.1V95.3H442.2zM195.6 95.3H205.5V105.2H195.6zM432.3 95.3H442.2V105.2H432.3zM452.1 95.3H461.9V105.2H452.1zM471.8 95.3H481.7V105.2H471.8zM511.2 95.3H521.1V105.2H511.2zM550.7 95.3H560.6V105.2H550.7zM175.9 105.2H185.8V115.1H175.9zM304.1 105.2H314V115.1H304.1zM333.7 105.2H343.6V115.1H333.7zM363.3 105.2H373.2V115.1H363.3zM412.6 105.2H422.5V115.1H412.6zM501.4 105.2H511.2V115.1H501.4zM185.8 115.1H195.6V124.9H185.8zM274.5 115.1H284.4V124.9H274.5zM314 115.1H323.8V124.9H314zM195.6 124.9H205.5V134.8H195.6zM452.1 124.9H461.9V134.8H452.1zM501.4 124.9H521.1V134.8H501.4zM254.8 144.6H264.7V154.5H254.8zM383 144.6H392.9V154.5H383zM235.1 154.5H244.9V164.3H235.1zM383 154.5H392.9V164.3H383zM175.9 164.3H185.8V174.2H175.9zM205.5 164.3H215.4V174.2H205.5zM383 164.3H392.9V174.2H383zM540.8 164.3H550.7V174.2H540.8zM195.6 174.2H205.5V184H195.6zM333.7 184H353.4V193.9H333.7zM383 184H392.9V193.9H383zM432.3 184H442.2V193.9H432.3zM461.9 184H471.8V193.9H461.9zM333.7 193.9H343.6V203.8H333.7zM363.3 193.9H373.2V203.8H363.3zM392.9 193.9H402.8V203.8H392.9zM171.4 203.8H175.9V213.6H171.4zM185.8 203.8H195.6V213.6H185.8zM225.2 203.8H244.9V213.6H225.2zM254.8 203.8H264.7V213.6H254.8zM343.6 203.8H353.4V213.6H343.6zM373.2 203.8H383V213.6H373.2zM254.8 213.6H264.7V223.5H254.8zM284.4 213.6H294.3V223.5H284.4zM314 213.6H323.8V223.5H314zM304.1 223.5H314V233.3H304.1zM333.7 223.5H343.6V233.3H333.7zM461.9 223.5H471.8V233.3H461.9zM284.4 233.3H294.3V243.2H284.4zM491.5 233.3H501.4V243.2H491.5zM274.5 243.2H284.4V253H274.5zM304.1 243.2H314V253H304.1zM521.1 243.2H531V253H521.1zM284.4 253H294.3V262.9H284.4zM501.4 253H511.2V262.9H501.4zM570.4 253H580.3V262.9H570.4zM590.1 253H600V262.9H590.1zM452.1 272.7H461.9V282.6H452.1zM570.4 272.7H580.3V282.6H570.4zM254.8 282.6H264.7V292.4H254.8zM274.5 282.6H284.4V292.4H274.5zM304.1 282.6H314V292.4H304.1zM323.8 282.6H333.7V292.4H323.8zM353.4 282.6H363.3V292.4H353.4zM422.5 282.6H432.3V292.4H422.5zM501.4 282.6H511.2V292.4H501.4zM531 282.6H540.8V292.4H531zM570.4 292.4H580.3V302.3H570.4zM323.8 302.3H343.6V312.2H323.8zM550.7 302.3H570.4V312.2H550.7zM264.7 312.2H274.5V322H264.7zM304.1 312.2H323.8V322H304.1zM284.4 322H294.3V331.9H284.4zM264.7 331.9H274.5V341.7H264.7zM294.3 331.9H304.1V341.7H294.3zM294.3 351.6H304.1V361.4H294.3zM284.4 371.3H294.3V381.1H284.4zM590.1 381.1H600V391H590.1zM590.1 400.9H600V410.7H590.1zM580.3 410.7H590.1V420.6H580.3zM609.9 430.4H629.6V440.3H609.9zM619.7 440.3H629.6V450.1H619.7zM619.7 460H629.6V469.8H619.7zM629.6 469.8H649.3V479.7H629.6zM639.5 479.7H649.3V489.5H639.5zM649.3 489.5H659.2V499.4H649.3zM678.9 558.5H688.8V568.4H678.9zM698.6 558.5H708.5V568.4H698.6zM708.5 598H718.4V607.8H708.5zM698.6 607.8H718.4V617.7H698.6zM688.8 627.5H708.5V637.4H688.8zM688.8 637.4H698.6V647.2H688.8zM323.8 676.8H333.7V686.6H323.8zM708.5 676.8H728.2V686.6H708.5zM323.8 686.6H333.7V696.5H323.8zM333.7 706.4H343.6V716.2H333.7zM353.4 706.4H363.3V716.2H353.4zM353.4 716.2H363.3V726.1H353.4zM225.2 745.8H235.1V755.6H225.2zM314 755.6H323.8V765.5H314z"/>
<path fill="#ffefef" d="M205.5 26.4H215.4V36.2H205.5zM225.2 26.4H235.1V36.2H225.2zM284.4 26.4H294.3V36.2H284.4zM353.4 26.4H373.2V36.2H353.4zM363.3 36.2H373.2V46.1H363.3zM402.8 36.2H412.6V46.1H402.8zM422.5 36.2H432.3V46.1H422.5zM560.6 36.2H570.4V46.1H560.6zM215.4 46.1H235.1V55.9H215.4zM244.9 46.1H254.8V55.9H244.9zM304.1 46.1H314V55.9H304.1zM333.7 46.1H343.6V55.9H333.7zM511.2 46.1H521.1V55.9H511.2zM550.7 46.1H560.6V55.9H550.7zM412.6 55.9H422.5V65.8H412.6zM501.4 55.9H511.2V65.8H501.4zM402.8 65.8H412.6V75.6H402.8zM452.1 65.8H461.9V75.6H452.1zM343.6 75.6H353.4V85.5H343.6zM412.6 75.6H422.5V85.5H412.6zM412.6 85.5H422.5V95.3H412.6zM461.9 85.5H471.8V95.3H461.9zM235.1 95.3H254.8V105.2H235.1zM383 95.3H402.8V105.2H383zM491.5 95.3H511.2V105.2H491.5zM323.8 105.2H333.7V115.1H323.8zM373.2 105.2H402.8V115.1H373.2zM471.8 105.2H481.7V115.1H471.8zM392.9 115.1H402.8V124.9H392.9zM422.5 115.1H432.3V124.9H422.5zM481.7 115.1H491.5V124.9H481.7zM274.5 124.9H284.4V134.8H274.5zM195.6 134.8H205.5V144.6H195.6zM274.5 134.8H284.4V144.6H274.5zM412.6 134.8H422.5V144.6H412.6zM432.3 134.8H442.2V144.6H432.3zM471.8 134.8H481.7V144.6H471.8zM491.5 134.8H501.4V144.6H491.5zM412.6 144.6H422.5V154.5H412.6zM540.8 144.6H550.7V154.5H540.8zM442.2 154.5H452.1V164.3H442.2zM531 154.5H540.8V164.3H531zM442.2 164.3H452.1V174.2H442.2zM501.4 164.3H511.2V174.2H501.4zM171.4 174.2H175.9V184H171.4zM185.8 174.2H195.6V184H185.8zM215.4 174.2H225.2V184H215.4zM235.1 174.2H244.9V184H235.1zM531 174.2H540.8V184H531zM550.7 174.2H560.6V184H550.7zM215.4 184H225.2V193.9H215.4zM294.3 184H304.1V193.9H294.3zM314 184H323.8V193.9H314zM175.9 193.9H185.8V203.8H175.9zM422.5 193.9H432.3V203.8H422.5zM442.2 193.9H452.1V203.8H442.2zM195.6 203.8H205.5V213.6H195.6zM274.5 203.8H294.3V213.6H274.5zM225.2 223.5H235.1V233.3H225.2zM274.5 223.5H284.4V233.3H274.5zM501.4 223.5H511.2V233.3H501.4zM540.8 223.5H550.7V233.3H540.8zM244.9 233.3H254.8V243.2H244.9zM373.2 233.3H383V243.2H373.2zM511.2 233.3H521.1V243.2H511.2zM570.4 233.3H580.3V243.2H570.4zM314 243.2H323.8V253H314zM471.8 243.2H481.7V253H471.8zM511.2 243.2H521.1V253H511.2zM333.7 253H343.6V262.9H333.7zM521.1 253H531V262.9H521.1zM264.7 262.9H274.5V272.7H264.7zM343.6 262.9H353.4V272.7H343.6zM560.6 262.9H570.4V272.7H560.6zM254.8 272.7H274.5V282.6H254.8zM304.1 272.7H314V282.6H304.1zM442.2 272.7H452.1V282.6H442.2zM481.7 272.7H491.5V282.6H481.7zM521.1 282.6H531V292.4H521.1zM580.3 282.6H590.1V292.4H580.3zM264.7 292.4H274.5V302.3H264.7zM284.4 292.4H294.3V302.3H284.4zM343.6 292.4H353.4V302.3H343.6zM422.5 292.4H432.3V302.3H422.5zM511.2 292.4H521.1V302.3H511.2zM531 292.4H540.8V302.3H531zM550.7 292.4H570.4V302.3H550.7zM580.3 302.3H590.1V312.2H580.3zM274.5 341.7H284.4V351.6H274.5zM284.4 361.4H294.3V371.3H284.4zM294.3 371.3H304.1V381.1H294.3zM570.4 410.7H580.3V420.6H570.4zM629.6 460H639.5V469.8H629.6zM649.3 479.7H659.2V489.5H649.3zM659.2 489.5H669.1V499.4H659.2zM659.2 499.4H669.1V509.3H659.2zM669.1 509.3H678.9V519.1H669.1zM678.9 519.1H688.8V529H678.9zM678.9 529H688.8V538.8H678.9zM698.6 538.8H708.5V548.7H698.6zM688.8 548.7H698.6V558.5H688.8zM698.6 568.4H708.5V578.2H698.6zM708.5 588.1H728.2V598H708.5zM728.2 607.8H738.1V617.7H728.2z"/>
<path fill="#ffdfdf" d="M432.3 10.4H442.2V16.5H432.3zM235.1 26.4H254.8V36.2H235.1zM442.2 26.4H452.1V36.2H442.2zM501.4 26.4H511.2V36.2H501.4zM235.1 36.2H244.9V46.1H235.1zM461.9 46.1H471.8V55.9H461.9zM294.3 55.9H304.1V65.8H294.3zM383 55.9H392.9V65.8H383zM402.8 55.9H412.6V65.8H402.8zM481.7 55.9H501.4V65.8H481.7zM511.2 55.9H521.1V65.8H511.2zM185.8 65.8H205.5V75.6H185.8zM353.4 65.8H363.3V75.6H353.4zM521.1 65.8H531V75.6H521.1zM540.8 65.8H550.7V75.6H540.8zM284.4 75.6H294.3V85.5H284.4zM304.1 75.6H314V85.5H304.1zM452.1 75.6H471.8V85.5H452.1zM323.8 85.5H333.7V95.3H323.8zM264.7 95.3H274.5V105.2H264.7zM254.8 115.1H274.5V124.9H254.8zM284.4 115.1H294.3V124.9H284.4zM402.8 115.1H412.6V124.9H402.8zM521.1 115.1H531V124.9H521.1zM560.6 115.1H570.4V124.9H560.6zM225.2 124.9H235.1V134.8H225.2zM254.8 124.9H274.5V134.8H254.8zM422.5 124.9H442.2V134.8H422.5zM531 124.9H540.8V134.8H531zM171.4 134.8H185.8V144.6H171.4zM481.7 134.8H491.5V144.6H481.7zM511.2 134.8H521.1V144.6H511.2zM442.2 144.6H452.1V154.5H442.2zM461.9 144.6H491.5V154.5H461.9zM171.4 154.5H175.9V164.3H171.4zM215.4 154.5H225.2V164.3H215.4zM323.8 154.5H333.7V164.3H323.8zM343.6 154.5H353.4V164.3H343.6zM521.1 154.5H531V164.3H521.1zM540.8 154.5H550.7V164.3H540.8zM244.9 164.3H254.8V174.2H244.9zM343.6 164.3H363.3V174.2H343.6zM225.2 174.2H235.1V184H225.2zM373.2 174.2H383V184H373.2zM461.9 174.2H471.8V184H461.9zM373.2 184H383V193.9H373.2zM452.1 184H461.9V193.9H452.1zM481.7 184H501.4V193.9H481.7zM195.6 193.9H205.5V203.8H195.6zM254.8 193.9H264.7V203.8H254.8zM274.5 193.9H294.3V203.8H274.5zM304.1 193.9H314V203.8H304.1zM383 193.9H392.9V203.8H383zM521.1 193.9H531V203.8H521.1zM501.4 203.8H511.2V213.6H501.4zM171.4 213.6H185.8V223.5H171.4zM235.1 213.6H244.9V223.5H235.1zM343.6 223.5H353.4V233.3H343.6zM491.5 223.5H501.4V233.3H491.5zM521.1 223.5H531V233.3H521.1zM570.4 223.5H580.3V233.3H570.4zM235.1 233.3H244.9V243.2H235.1zM531 233.3H540.8V243.2H531zM294.3 243.2H304.1V253H294.3zM323.8 243.2H333.7V253H323.8zM343.6 243.2H353.4V253H343.6zM363.3 243.2H373.2V253H363.3zM461.9 243.2H471.8V253H461.9zM491.5 243.2H501.4V253H491.5zM323.8 253H333.7V262.9H323.8zM471.8 253H481.7V262.9H471.8zM531 253H550.7V262.9H531zM560.6 253H570.4V262.9H560.6zM580.3 253H590.1V262.9H580.3zM274.5 262.9H284.4V272.7H274.5zM491.5 262.9H501.4V272.7H491.5zM274.5 272.7H284.4V282.6H274.5zM343.6 272.7H353.4V282.6H343.6zM550.7 272.7H560.6V282.6H550.7zM264.7 282.6H274.5V292.4H264.7zM570.4 282.6H580.3V292.4H570.4zM294.3 292.4H304.1V302.3H294.3zM521.1 292.4H531V302.3H521.1zM274.5 302.3H284.4V312.2H274.5zM314 302.3H323.8V312.2H314zM619.7 351.6H629.6V361.4H619.7zM600 361.4H609.9V371.3H600zM609.9 371.3H619.7V381.1H609.9zM609.9 381.1H619.7V391H609.9zM590.1 391H600V400.9H590.1zM600 400.9H609.9V410.7H600zM600 420.6H609.9V430.4H600zM678.9 509.3H688.8V519.1H678.9zM698.6 548.7H708.5V558.5H698.6zM718.4 598H728.2V607.8H718.4zM738.1 607.8H748V617.7H738.1zM718.4 617.7H738.1V627.5H718.4zM738.1 637.4H748V647.2H738.1zM738.1 647.2H748V657.1H738.1z"/>
<path fill="#ffcfcf" d="M412.6 10.4H422.5V16.5H412.6zM353.4 16.5H363.3V26.4H353.4zM294.3 26.4H304.1V36.2H294.3zM333.7 26.4H343.6V36.2H333.7zM412.6 26.4H422.5V36.2H412.6zM471.8 26.4H481.7V36.2H471.8zM531 26.4H540.8V36.2H531zM215.4 36.2H225.2V46.1H215.4zM244.9 36.2H254.8V46.1H244.9zM274.5 36.2H284.4V46.1H274.5zM452.1 36.2H461.9V46.1H452.1zM235.1 46.1H244.9V55.9H235.1zM284.4 46.1H294.3V55.9H284.4zM314 46.1H323.8V55.9H314zM501.4 46.1H511.2V55.9H501.4zM274.5 55.9H284.4V65.8H274.5zM442.2 55.9H452.1V65.8H442.2zM175.9 65.8H185.8V75.6H175.9zM294.3 65.8H304.1V75.6H294.3zM323.8 65.8H333.7V75.6H323.8zM294.3 75.6H304.1V85.5H294.3zM171.4 85.5H175.9V95.3H171.4zM353.4 85.5H363.3V95.3H353.4zM471.8 85.5H481.7V95.3H471.8zM274.5 95.3H284.4V105.2H274.5zM353.4 95.3H363.3V105.2H353.4zM171.4 105.2H175.9V115.1H171.4zM225.2 105.2H235.1V115.1H225.2zM254.8 105.2H274.5V115.1H254.8zM442.2 105.2H452.1V115.1H442.2zM343.6 115.1H353.4V124.9H343.6zM373.2 115.1H383V124.9H373.2zM432.3 115.1H452.1V124.9H432.3zM235.1 124.9H244.9V134.8H235.1zM343.6 124.9H353.4V134.8H343.6zM383 124.9H392.9V134.8H383zM412.6 124.9H422.5V134.8H412.6zM323.8 134.8H333.7V144.6H323.8zM353.4 134.8H363.3V144.6H353.4zM422.5 134.8H432.3V144.6H422.5zM294.3 144.6H304.1V154.5H294.3zM402.8 144.6H412.6V154.5H402.8zM501.4 144.6H511.2V154.5H501.4zM304.1 164.3H314V174.2H304.1zM323.8 164.3H333.7V174.2H323.8zM461.9 164.3H471.8V174.2H461.9zM304.1 174.2H314V184H304.1zM471.8 174.2H481.7V184H471.8zM353.4 184H363.3V193.9H353.4zM442.2 184H452.1V193.9H442.2zM412.6 193.9H422.5V203.8H412.6zM432.3 193.9H442.2V203.8H432.3zM452.1 193.9H461.9V203.8H452.1zM531 193.9H540.8V203.8H531zM175.9 203.8H185.8V213.6H175.9zM491.5 203.8H501.4V213.6H491.5zM570.4 203.8H580.3V213.6H570.4zM294.3 213.6H304.1V223.5H294.3zM531 213.6H560.6V223.5H531zM284.4 223.5H304.1V233.3H284.4zM294.3 233.3H304.1V243.2H294.3zM481.7 233.3H491.5V243.2H481.7zM550.7 233.3H570.4V243.2H550.7zM531 243.2H570.4V253H531zM550.7 253H560.6V262.9H550.7zM314 262.9H323.8V272.7H314zM333.7 262.9H343.6V272.7H333.7zM471.8 262.9H481.7V272.7H471.8zM540.8 262.9H550.7V272.7H540.8zM314 272.7H323.8V282.6H314zM501.4 272.7H511.2V282.6H501.4zM284.4 282.6H294.3V292.4H284.4zM540.8 282.6H570.4V292.4H540.8zM304.1 292.4H323.8V302.3H304.1zM540.8 292.4H550.7V302.3H540.8zM580.3 292.4H590.1V302.3H580.3zM294.3 302.3H304.1V312.2H294.3zM284.4 312.2H294.3V322H284.4zM590.1 322H600V331.9H590.1zM609.9 361.4H619.7V371.3H609.9zM590.1 410.7H600V420.6H590.1zM688.8 529H698.6V538.8H688.8zM708.5 568.4H718.4V578.2H708.5zM708.5 578.2H728.2V588.1H708.5zM728.2 598H738.1V607.8H728.2zM718.4 607.8H728.2V617.7H718.4zM728.2 627.5H738.1V637.4H728.2zM698.6 637.4H708.5V647.2H698.6zM728.2 637.4H738.1V647.2H728.2zM708.5 647.2H718.4V657.1H708.5zM748 647.2H757.8V657.1H748zM767.7 666.9H777.5V676.8H767.7z"/>
<path fill="#ffbfbf" d="M333.7 16.5H353.4V26.4H333.7zM402.8 16.5H412.6V26.4H402.8zM264.7 26.4H274.5V36.2H264.7zM254.8 36.2H264.7V46.1H254.8zM314 36.2H323.8V46.1H314zM383 36.2H392.9V46.1H383zM383 46.1H392.9V55.9H383zM471.8 46.1H481.7V55.9H471.8zM491.5 46.1H501.4V55.9H491.5zM521.1 46.1H540.8V55.9H521.1zM195.6 55.9H205.5V65.8H195.6zM254.8 55.9H264.7V65.8H254.8zM333.7 55.9H343.6V65.8H333.7zM452.1 55.9H461.9V65.8H452.1zM471.8 55.9H481.7V65.8H471.8zM274.5 65.8H284.4V75.6H274.5zM373.2 65.8H383V75.6H373.2zM185.8 75.6H195.6V85.5H185.8zM254.8 75.6H264.7V85.5H254.8zM274.5 75.6H284.4V85.5H274.5zM383 75.6H402.8V85.5H383zM422.5 75.6H432.3V85.5H422.5zM235.1 85.5H244.9V95.3H235.1zM343.6 85.5H353.4V95.3H343.6zM402.8 85.5H412.6V95.3H402.8zM501.4 85.5H511.2V95.3H501.4zM521.1 85.5H531V95.3H521.1zM254.8 95.3H264.7V105.2H254.8zM333.7 95.3H343.6V105.2H333.7zM481.7 95.3H491.5V105.2H481.7zM540.8 95.3H550.7V105.2H540.8zM235.1 105.2H244.9V115.1H235.1zM284.4 105.2H294.3V115.1H284.4zM422.5 105.2H432.3V115.1H422.5zM481.7 105.2H491.5V115.1H481.7zM215.4 115.1H225.2V124.9H215.4zM304.1 115.1H314V124.9H304.1zM353.4 124.9H363.3V134.8H353.4zM392.9 124.9H402.8V134.8H392.9zM471.8 124.9H481.7V134.8H471.8zM540.8 124.9H550.7V134.8H540.8zM244.9 134.8H254.8V144.6H244.9zM343.6 134.8H353.4V144.6H343.6zM175.9 144.6H185.8V154.5H175.9zM225.2 144.6H235.1V154.5H225.2zM304.1 144.6H314V154.5H304.1zM343.6 144.6H353.4V154.5H343.6zM175.9 154.5H185.8V164.3H175.9zM225.2 154.5H235.1V164.3H225.2zM353.4 154.5H363.3V164.3H353.4zM432.3 154.5H442.2V164.3H432.3zM461.9 154.5H471.8V164.3H461.9zM501.4 154.5H521.1V164.3H501.4zM550.7 154.5H560.6V164.3H550.7zM294.3 164.3H304.1V174.2H294.3zM402.8 164.3H412.6V174.2H402.8zM343.6 174.2H353.4V184H343.6zM412.6 174.2H422.5V184H412.6zM511.2 174.2H521.1V184H511.2zM560.6 174.2H570.4V184H560.6zM323.8 184H333.7V193.9H323.8zM412.6 184H422.5V193.9H412.6zM501.4 184H511.2V193.9H501.4zM521.1 184H531V193.9H521.1zM540.8 184H550.7V193.9H540.8zM215.4 193.9H225.2V203.8H215.4zM314 193.9H323.8V203.8H314zM540.8 193.9H550.7V203.8H540.8zM294.3 203.8H304.1V213.6H294.3zM314 203.8H323.8V213.6H314zM353.4 203.8H363.3V213.6H353.4zM511.2 203.8H521.1V213.6H511.2zM580.3 203.8H590.1V213.6H580.3zM225.2 213.6H235.1V223.5H225.2zM481.7 213.6H501.4V223.5H481.7zM521.1 213.6H531V223.5H521.1zM540.8 233.3H550.7V243.2H540.8zM353.4 243.2H363.3V253H353.4zM481.7 243.2H491.5V253H481.7zM501.4 243.2H511.2V253H501.4zM294.3 253H304.1V262.9H294.3zM481.7 253H491.5V262.9H481.7zM304.1 262.9H314V272.7H304.1zM323.8 262.9H333.7V272.7H323.8zM521.1 272.7H531V282.6H521.1zM540.8 272.7H550.7V282.6H540.8zM560.6 272.7H570.4V282.6H560.6zM580.3 272.7H590.1V282.6H580.3zM314 282.6H323.8V292.4H314zM284.4 302.3H294.3V312.2H284.4zM304.1 302.3H314V312.2H304.1zM314 322H323.8V331.9H314zM540.8 331.9H550.7V341.7H540.8zM609.9 331.9H619.7V341.7H609.9zM294.3 341.7H304.1V351.6H294.3zM600 371.3H609.9V381.1H600zM600 381.1H609.9V391H600zM600 391H609.9V400.9H600zM600 410.7H609.9V420.6H600zM639.5 460H649.3V469.8H639.5zM659.2 479.7H669.1V489.5H659.2zM669.1 499.4H678.9V509.3H669.1zM708.5 617.7H718.4V627.5H708.5zM738.1 627.5H748V637.4H738.1zM718.4 637.4H728.2V647.2H718.4zM698.6 647.2H708.5V657.1H698.6z"/>
<path fill="#ffafaf" d="M235.1 10.4H244.9V16.5H235.1zM353.4 10.4H363.3V16.5H353.4zM521.1 10.4H531V16.5H521.1zM185.8 16.5H195.6V26.4H185.8zM442.2 16.5H461.9V26.4H442.2zM531 16.5H540.8V26.4H531zM185.8 26.4H195.6V36.2H185.8zM314 26.4H323.8V36.2H314zM432.3 26.4H442.2V36.2H432.3zM264.7 36.2H274.5V46.1H264.7zM343.6 36.2H353.4V46.1H343.6zM491.5 36.2H511.2V46.1H491.5zM205.5 46.1H215.4V55.9H205.5zM392.9 46.1H402.8V55.9H392.9zM392.9 65.8H402.8V75.6H392.9zM550.7 65.8H570.4V75.6H550.7zM171.4 75.6H175.9V85.5H171.4zM205.5 75.6H225.2V85.5H205.5zM333.7 75.6H343.6V85.5H333.7zM195.6 85.5H205.5V95.3H195.6zM215.4 85.5H225.2V95.3H215.4zM244.9 85.5H254.8V95.3H244.9zM314 85.5H323.8V95.3H314zM392.9 85.5H402.8V95.3H392.9zM511.2 85.5H521.1V95.3H511.2zM540.8 85.5H550.7V95.3H540.8zM294.3 95.3H304.1V105.2H294.3zM244.9 105.2H254.8V115.1H244.9zM461.9 105.2H471.8V115.1H461.9zM531 115.1H540.8V124.9H531zM550.7 115.1H560.6V124.9H550.7zM244.9 124.9H254.8V134.8H244.9zM314 124.9H333.7V134.8H314zM521.1 124.9H531V134.8H521.1zM560.6 124.9H580.3V134.8H560.6zM244.9 144.6H254.8V154.5H244.9zM314 144.6H323.8V154.5H314zM333.7 144.6H343.6V154.5H333.7zM432.3 144.6H442.2V154.5H432.3zM264.7 154.5H274.5V164.3H264.7zM422.5 154.5H432.3V164.3H422.5zM235.1 164.3H244.9V174.2H235.1zM570.4 174.2H580.3V184H570.4zM171.4 184H175.9V193.9H171.4zM205.5 184H215.4V193.9H205.5zM264.7 184H274.5V193.9H264.7zM392.9 184H402.8V193.9H392.9zM205.5 193.9H215.4V203.8H205.5zM264.7 193.9H274.5V203.8H264.7zM461.9 193.9H471.8V203.8H461.9zM491.5 193.9H501.4V203.8H491.5zM550.7 193.9H560.6V203.8H550.7zM570.4 193.9H590.1V203.8H570.4zM264.7 203.8H274.5V213.6H264.7zM481.7 203.8H491.5V213.6H481.7zM353.4 223.5H363.3V233.3H353.4zM531 223.5H540.8V233.3H531zM550.7 223.5H560.6V233.3H550.7zM521.1 233.3H531V243.2H521.1zM333.7 243.2H343.6V253H333.7zM274.5 253H284.4V262.9H274.5zM511.2 253H521.1V262.9H511.2zM284.4 262.9H304.1V272.7H284.4zM481.7 262.9H491.5V272.7H481.7zM580.3 262.9H590.1V272.7H580.3zM590.1 272.7H600V282.6H590.1zM590.1 282.6H600V292.4H590.1zM264.7 302.3H274.5V312.2H264.7zM274.5 322H284.4V331.9H274.5zM600 351.6H609.9V361.4H600zM609.9 410.7H619.7V420.6H609.9zM609.9 420.6H619.7V430.4H609.9zM629.6 450.1H639.5V460H629.6zM649.3 469.8H659.2V479.7H649.3zM678.9 499.4H688.8V509.3H678.9zM708.5 548.7H718.4V558.5H708.5zM718.4 558.5H728.2V568.4H718.4zM728.2 568.4H738.1V578.2H728.2zM738.1 598H748V607.8H738.1zM757.8 607.8H767.7V617.7H757.8zM718.4 627.5H728.2V637.4H718.4zM748 657.1H757.8V666.9H748zM757.8 666.9H767.7V676.8H757.8zM728.2 696.5H738.1V706.4H728.2zM718.4 716.2H728.2V726.1H718.4zM748 755.6H757.8V765.5H748z"/>
<path fill="#ff9f9f" d="M402.8 10.4H412.6V16.5H402.8zM452.1 10.4H461.9V16.5H452.1zM481.7 10.4H491.5V16.5H481.7zM501.4 10.4H511.2V16.5H501.4zM383 16.5H392.9V26.4H383zM254.8 26.4H264.7V36.2H254.8zM304.1 26.4H314V36.2H304.1zM383 26.4H392.9V36.2H383zM284.4 36.2H294.3V46.1H284.4zM442.2 36.2H452.1V46.1H442.2zM521.1 36.2H531V46.1H521.1zM264.7 46.1H274.5V55.9H264.7zM215.4 55.9H235.1V65.8H215.4zM422.5 55.9H432.3V65.8H422.5zM521.1 55.9H531V65.8H521.1zM215.4 65.8H235.1V75.6H215.4zM254.8 65.8H264.7V75.6H254.8zM304.1 65.8H314V75.6H304.1zM175.9 75.6H185.8V85.5H175.9zM323.8 75.6H333.7V85.5H323.8zM363.3 75.6H373.2V85.5H363.3zM550.7 75.6H570.4V85.5H550.7zM550.7 85.5H560.6V95.3H550.7zM422.5 95.3H432.3V105.2H422.5zM540.8 105.2H550.7V115.1H540.8zM294.3 115.1H304.1V124.9H294.3zM383 115.1H392.9V124.9H383zM540.8 115.1H550.7V124.9H540.8zM284.4 124.9H294.3V134.8H284.4zM304.1 124.9H314V134.8H304.1zM402.8 124.9H412.6V134.8H402.8zM481.7 124.9H491.5V134.8H481.7zM550.7 124.9H560.6V134.8H550.7zM254.8 134.8H264.7V144.6H254.8zM284.4 134.8H294.3V144.6H284.4zM314 134.8H323.8V144.6H314zM383 134.8H392.9V144.6H383zM185.8 144.6H205.5V154.5H185.8zM284.4 144.6H294.3V154.5H284.4zM323.8 144.6H333.7V154.5H323.8zM353.4 144.6H363.3V154.5H353.4zM560.6 144.6H570.4V154.5H560.6zM274.5 154.5H294.3V164.3H274.5zM373.2 154.5H383V164.3H373.2zM225.2 164.3H235.1V174.2H225.2zM254.8 164.3H264.7V174.2H254.8zM314 164.3H323.8V174.2H314zM392.9 164.3H402.8V174.2H392.9zM412.6 164.3H432.3V174.2H412.6zM511.2 164.3H521.1V174.2H511.2zM284.4 174.2H294.3V184H284.4zM363.3 184H373.2V193.9H363.3zM511.2 184H521.1V193.9H511.2zM550.7 184H560.6V193.9H550.7zM570.4 184H580.3V193.9H570.4zM501.4 193.9H511.2V203.8H501.4zM471.8 203.8H481.7V213.6H471.8zM550.7 203.8H560.6V213.6H550.7zM333.7 213.6H343.6V223.5H333.7zM560.6 213.6H580.3V223.5H560.6zM580.3 223.5H590.1V233.3H580.3zM343.6 253H353.4V262.9H343.6zM491.5 253H501.4V262.9H491.5zM531 262.9H540.8V272.7H531zM600 262.9H609.9V272.7H600zM274.5 292.4H284.4V302.3H274.5zM274.5 312.2H284.4V322H274.5zM294.3 312.2H304.1V322H294.3zM580.3 312.2H609.9V322H580.3zM590.1 331.9H600V341.7H590.1zM284.4 341.7H294.3V351.6H284.4zM600 341.7H609.9V351.6H600zM609.9 351.6H619.7V361.4H609.9zM649.3 450.1H659.2V460H649.3zM659.2 469.8H669.1V479.7H659.2zM708.5 558.5H718.4V568.4H708.5zM718.4 568.4H728.2V578.2H718.4zM728.2 578.2H738.1V588.1H728.2zM748 637.4H757.8V647.2H748zM235.1 755.6H244.9V765.5H235.1z"/>
<path fill="#ff8f8f" d="M422.5 10.4H432.3V16.5H422.5zM461.9 10.4H471.8V16.5H461.9zM195.6 16.5H215.4V26.4H195.6zM294.3 16.5H314V26.4H294.3zM521.1 16.5H531V26.4H521.1zM560.6 16.5H570.4V26.4H560.6zM195.6 26.4H205.5V36.2H195.6zM215.4 26.4H225.2V36.2H215.4zM461.9 26.4H471.8V36.2H461.9zM521.1 26.4H531V36.2H521.1zM570.4 26.4H580.3V36.2H570.4zM195.6 36.2H205.5V46.1H195.6zM373.2 36.2H383V46.1H373.2zM471.8 36.2H481.7V46.1H471.8zM195.6 46.1H205.5V55.9H195.6zM432.3 46.1H442.2V55.9H432.3zM442.2 65.8H452.1V75.6H442.2zM264.7 75.6H274.5V85.5H264.7zM373.2 75.6H383V85.5H373.2zM471.8 75.6H481.7V85.5H471.8zM531 75.6H540.8V85.5H531zM560.6 85.5H570.4V95.3H560.6zM215.4 95.3H235.1V105.2H215.4zM373.2 95.3H383V105.2H373.2zM521.1 95.3H531V105.2H521.1zM452.1 115.1H461.9V124.9H452.1zM461.9 124.9H471.8V134.8H461.9zM363.3 134.8H373.2V144.6H363.3zM540.8 134.8H550.7V144.6H540.8zM274.5 144.6H284.4V154.5H274.5zM570.4 144.6H580.3V154.5H570.4zM254.8 154.5H264.7V164.3H254.8zM402.8 154.5H412.6V164.3H402.8zM274.5 164.3H284.4V174.2H274.5zM333.7 164.3H343.6V174.2H333.7zM521.1 164.3H531V174.2H521.1zM550.7 164.3H560.6V174.2H550.7zM580.3 164.3H590.1V174.2H580.3zM402.8 174.2H412.6V184H402.8zM422.5 174.2H432.3V184H422.5zM452.1 174.2H461.9V184H452.1zM491.5 174.2H501.4V184H491.5zM185.8 184H195.6V193.9H185.8zM274.5 184H294.3V193.9H274.5zM402.8 184H412.6V193.9H402.8zM422.5 184H432.3V193.9H422.5zM471.8 184H481.7V193.9H471.8zM560.6 203.8H570.4V213.6H560.6zM501.4 213.6H511.2V223.5H501.4zM580.3 213.6H590.1V223.5H580.3zM511.2 223.5H521.1V233.3H511.2zM560.6 223.5H570.4V233.3H560.6zM580.3 233.3H590.1V243.2H580.3zM353.4 262.9H363.3V272.7H353.4zM590.1 262.9H600V272.7H590.1zM531 272.7H540.8V282.6H531zM511.2 282.6H521.1V292.4H511.2zM323.8 292.4H333.7V302.3H323.8zM284.4 331.9H294.3V341.7H284.4zM619.7 400.9H629.6V410.7H619.7zM629.6 420.6H639.5V430.4H629.6zM629.6 430.4H639.5V440.3H629.6zM639.5 440.3H649.3V450.1H639.5zM639.5 450.1H649.3V460H639.5zM649.3 460H659.2V469.8H649.3zM688.8 509.3H698.6V519.1H688.8zM698.6 529H708.5V538.8H698.6zM708.5 627.5H718.4V637.4H708.5z"/>
<path fill="#ff8080" d="M185.8 10.4H195.6V16.5H185.8zM205.5 10.4H215.4V16.5H205.5zM314 10.4H323.8V16.5H314zM511.2 10.4H521.1V16.5H511.2zM570.4 10.4H580.3V16.5H570.4zM363.3 16.5H373.2V26.4H363.3zM422.5 16.5H432.3V26.4H422.5zM274.5 26.4H284.4V36.2H274.5zM373.2 26.4H383V36.2H373.2zM550.7 26.4H560.6V36.2H550.7zM323.8 36.2H333.7V46.1H323.8zM402.8 46.1H412.6V55.9H402.8zM570.4 46.1H580.3V55.9H570.4zM175.9 55.9H185.8V65.8H175.9zM264.7 65.8H274.5V75.6H264.7zM383 65.8H392.9V75.6H383zM225.2 75.6H235.1V85.5H225.2zM402.8 75.6H412.6V85.5H402.8zM264.7 85.5H274.5V95.3H264.7zM461.9 95.3H471.8V105.2H461.9zM511.2 105.2H521.1V115.1H511.2zM363.3 115.1H373.2V124.9H363.3zM471.8 115.1H481.7V124.9H471.8zM442.2 124.9H452.1V134.8H442.2zM491.5 124.9H501.4V134.8H491.5zM521.1 134.8H531V144.6H521.1zM550.7 134.8H570.4V144.6H550.7zM422.5 144.6H432.3V154.5H422.5zM521.1 144.6H531V154.5H521.1zM304.1 154.5H323.8V164.3H304.1zM333.7 154.5H343.6V164.3H333.7zM570.4 154.5H580.3V164.3H570.4zM171.4 164.3H175.9V174.2H171.4zM284.4 164.3H294.3V174.2H284.4zM254.8 174.2H264.7V184H254.8zM383 174.2H402.8V184H383zM442.2 174.2H452.1V184H442.2zM580.3 174.2H590.1V184H580.3zM195.6 184H205.5V193.9H195.6zM225.2 184H235.1V193.9H225.2zM402.8 193.9H412.6V203.8H402.8zM511.2 193.9H521.1V203.8H511.2zM590.1 213.6H600V223.5H590.1zM600 223.5H609.9V233.3H600zM501.4 233.3H511.2V243.2H501.4zM521.1 262.9H531V272.7H521.1zM609.9 272.7H619.7V282.6H609.9zM600 282.6H609.9V292.4H600zM600 292.4H609.9V302.3H600zM609.9 312.2H619.7V322H609.9zM294.3 322H304.1V331.9H294.3zM600 322H619.7V331.9H600zM274.5 331.9H284.4V341.7H274.5zM629.6 341.7H639.5V351.6H629.6zM619.7 391H629.6V400.9H619.7zM609.9 400.9H619.7V410.7H609.9zM619.7 420.6H629.6V430.4H619.7zM669.1 479.7H678.9V489.5H669.1zM688.8 499.4H698.6V509.3H688.8zM698.6 509.3H708.5V519.1H698.6zM698.6 519.1H718.4V529H698.6zM708.5 529H718.4V538.8H708.5zM708.5 538.8H718.4V548.7H708.5zM728.2 548.7H738.1V558.5H728.2zM738.1 558.5H748V568.4H738.1zM738.1 568.4H748V578.2H738.1zM728.2 588.1H738.1V598H728.2zM748 588.1H767.7V598H748zM748 598H757.8V607.8H748zM748 617.7H767.7V627.5H748zM748 627.5H757.8V637.4H748zM767.7 657.1H777.5V666.9H767.7zM738.1 666.9H748V676.8H738.1zM708.5 706.4H718.4V716.2H708.5z"/>
<path fill="#f78080" d="M195.6 10.4H205.5V16.5H195.6zM333.7 10.4H353.4V16.5H333.7zM383 10.4H392.9V16.5H383zM215.4 16.5H225.2V26.4H215.4zM323.8 16.5H333.7V26.4H323.8zM392.9 16.5H402.8V26.4H392.9zM461.9 16.5H471.8V26.4H461.9zM491.5 16.5H501.4V26.4H491.5zM550.7 16.5H560.6V26.4H550.7zM511.2 26.4H521.1V36.2H511.2zM333.7 36.2H343.6V46.1H333.7zM264.7 55.9H274.5V65.8H264.7zM600 85.5H609.9V95.3H600zM570.4 115.1H580.3V124.9H570.4zM294.3 134.8H304.1V144.6H294.3zM402.8 134.8H412.6V144.6H402.8zM264.7 144.6H274.5V154.5H264.7zM580.3 144.6H590.1V154.5H580.3zM294.3 154.5H304.1V164.3H294.3zM392.9 154.5H402.8V164.3H392.9zM412.6 154.5H422.5V164.3H412.6zM264.7 164.3H274.5V174.2H264.7zM570.4 164.3H580.3V174.2H570.4zM590.1 164.3H600V174.2H590.1zM323.8 174.2H333.7V184H323.8zM175.9 184H185.8V193.9H175.9zM560.6 193.9H570.4V203.8H560.6zM590.1 193.9H600V203.8H590.1zM590.1 223.5H600V233.3H590.1zM323.8 233.3H333.7V243.2H323.8zM590.1 243.2H600V253H590.1zM609.9 253H619.7V262.9H609.9zM511.2 262.9H521.1V272.7H511.2zM600 272.7H609.9V282.6H600zM609.9 282.6H619.7V292.4H609.9zM590.1 292.4H600V302.3H590.1zM609.9 292.4H619.7V302.3H609.9zM590.1 302.3H609.9V312.2H590.1zM619.7 322H629.6V331.9H619.7zM600 331.9H609.9V341.7H600zM619.7 361.4H639.5V371.3H619.7zM619.7 371.3H629.6V381.1H619.7zM619.7 381.1H639.5V391H619.7zM619.7 410.7H629.6V420.6H619.7zM649.3 440.3H659.2V450.1H649.3zM669.1 489.5H678.9V499.4H669.1zM698.6 499.4H708.5V509.3H698.6zM688.8 519.1H698.6V529H688.8zM748 578.2H767.7V588.1H748z"/>
<path fill="#ef8080" d="M304.1 10.4H314V16.5H304.1zM373.2 10.4H383V16.5H373.2zM442.2 10.4H452.1V16.5H442.2zM550.7 10.4H560.6V16.5H550.7zM373.2 16.5H383V26.4H373.2zM570.4 16.5H580.3V26.4H570.4zM481.7 36.2H491.5V46.1H481.7zM422.5 46.1H432.3V55.9H422.5zM531 55.9H540.8V65.8H531zM225.2 85.5H235.1V95.3H225.2zM304.1 85.5H314V95.3H304.1zM531 95.3H540.8V105.2H531zM452.1 105.2H461.9V115.1H452.1zM521.1 105.2H531V115.1H521.1zM550.7 105.2H560.6V115.1H550.7zM570.4 105.2H580.3V115.1H570.4zM353.4 115.1H363.3V124.9H353.4zM461.9 115.1H471.8V124.9H461.9zM531 134.8H540.8V144.6H531zM195.6 164.3H205.5V174.2H195.6zM373.2 164.3H383V174.2H373.2zM264.7 174.2H284.4V184H264.7zM590.1 184H600V193.9H590.1zM481.7 193.9H491.5V203.8H481.7zM600 203.8H609.9V213.6H600zM600 213.6H609.9V223.5H600zM314 233.3H323.8V243.2H314zM600 233.3H619.7V243.2H600zM580.3 243.2H590.1V253H580.3zM609.9 262.9H619.7V272.7H609.9zM294.3 282.6H304.1V292.4H294.3zM619.7 282.6H629.6V292.4H619.7zM609.9 302.3H619.7V312.2H609.9zM619.7 312.2H639.5V322H619.7zM639.5 331.9H649.3V341.7H639.5zM619.7 341.7H629.6V351.6H619.7zM639.5 361.4H649.3V371.3H639.5zM629.6 400.9H639.5V410.7H629.6zM639.5 420.6H649.3V430.4H639.5zM649.3 430.4H659.2V440.3H649.3zM659.2 450.1H669.1V460H659.2zM659.2 460H669.1V469.8H659.2zM678.9 489.5H688.8V499.4H678.9zM708.5 499.4H718.4V509.3H708.5zM728.2 509.3H738.1V519.1H728.2zM728.2 529H738.1V538.8H728.2zM728.2 558.5H738.1V568.4H728.2zM777.5 568.4H787.4V578.2H777.5zM738.1 578.2H748V588.1H738.1zM767.7 578.2H777.5V588.1H767.7zM767.7 588.1H777.5V598H767.7z"/>
<path fill="#e78080" d="M225.2 10.4H235.1V16.5H225.2zM264.7 10.4H274.5V16.5H264.7zM244.9 16.5H264.7V26.4H244.9zM284.4 16.5H294.3V26.4H284.4zM412.6 16.5H422.5V26.4H412.6zM511.2 16.5H521.1V26.4H511.2zM314 75.6H323.8V85.5H314zM570.4 75.6H580.3V85.5H570.4zM570.4 85.5H580.3V95.3H570.4zM609.9 85.5H619.7V95.3H609.9zM343.6 95.3H353.4V105.2H343.6zM570.4 95.3H580.3V105.2H570.4zM600 95.3H609.9V105.2H600zM244.9 115.1H254.8V124.9H244.9zM363.3 124.9H373.2V134.8H363.3zM333.7 134.8H343.6V144.6H333.7zM570.4 134.8H580.3V144.6H570.4zM363.3 144.6H373.2V154.5H363.3zM363.3 154.5H373.2V164.3H363.3zM580.3 154.5H600V164.3H580.3zM580.3 184H590.1V193.9H580.3zM619.7 233.3H629.6V243.2H619.7zM501.4 262.9H511.2V272.7H501.4zM619.7 262.9H629.6V272.7H619.7zM629.6 292.4H649.3V302.3H629.6zM629.6 302.3H639.5V312.2H629.6zM629.6 322H649.3V331.9H629.6zM619.7 331.9H639.5V341.7H619.7zM639.5 341.7H649.3V351.6H639.5zM629.6 351.6H659.2V361.4H629.6zM639.5 430.4H649.3V440.3H639.5zM629.6 440.3H639.5V450.1H629.6zM659.2 440.3H669.1V450.1H659.2zM669.1 450.1H678.9V460H669.1zM678.9 479.7H688.8V489.5H678.9zM688.8 489.5H708.5V499.4H688.8zM738.1 538.8H748V548.7H738.1zM718.4 548.7H728.2V558.5H718.4zM738.1 548.7H748V558.5H738.1zM757.8 548.7H767.7V558.5H757.8zM748 558.5H767.7V568.4H748zM748 568.4H757.8V578.2H748zM757.8 598H767.7V607.8H757.8zM767.7 607.8H777.5V617.7H767.7zM718.4 686.6H728.2V696.5H718.4z"/>
<path fill="#df8080" d="M215.4 10.4H225.2V16.5H215.4zM244.9 10.4H264.7V16.5H244.9zM294.3 10.4H304.1V16.5H294.3zM323.8 10.4H333.7V16.5H323.8zM392.9 10.4H402.8V16.5H392.9zM471.8 10.4H481.7V16.5H471.8zM531 10.4H540.8V16.5H531zM264.7 16.5H284.4V26.4H264.7zM432.3 16.5H442.2V26.4H432.3zM471.8 16.5H491.5V26.4H471.8zM570.4 55.9H580.3V65.8H570.4zM511.2 65.8H521.1V75.6H511.2zM294.3 124.9H304.1V134.8H294.3zM580.3 124.9H590.1V134.8H580.3zM373.2 134.8H383V144.6H373.2zM590.1 174.2H600V184H590.1zM609.9 203.8H619.7V213.6H609.9zM609.9 213.6H619.7V223.5H609.9zM590.1 233.3H600V243.2H590.1zM619.7 243.2H629.6V253H619.7zM600 253H609.9V262.9H600zM619.7 253H639.5V262.9H619.7zM629.6 262.9H639.5V272.7H629.6zM619.7 302.3H629.6V312.2H619.7zM639.5 302.3H649.3V312.2H639.5zM609.9 391H619.7V400.9H609.9zM629.6 391H639.5V400.9H629.6zM639.5 400.9H649.3V410.7H639.5zM639.5 410.7H649.3V420.6H639.5zM669.1 460H688.8V469.8H669.1zM678.9 469.8H698.6V479.7H678.9zM698.6 479.7H708.5V489.5H698.6zM708.5 509.3H718.4V519.1H708.5zM728.2 519.1H738.1V529H728.2zM718.4 529H728.2V538.8H718.4zM748 548.7H757.8V558.5H748zM767.7 558.5H777.5V568.4H767.7zM767.7 568.4H777.5V578.2H767.7z"/>
<path fill="#d78080" d="M363.3 10.4H373.2V16.5H363.3zM491.5 10.4H501.4V16.5H491.5zM560.6 10.4H570.4V16.5H560.6zM225.2 16.5H244.9V26.4H225.2zM501.4 16.5H511.2V26.4H501.4zM540.8 16.5H550.7V26.4H540.8zM570.4 36.2H580.3V46.1H570.4zM570.4 65.8H580.3V75.6H570.4zM609.9 95.3H619.7V105.2H609.9zM373.2 124.9H383V134.8H373.2zM580.3 134.8H590.1V144.6H580.3zM590.1 144.6H600V154.5H590.1zM600 174.2H609.9V184H600zM560.6 184H570.4V193.9H560.6zM600 193.9H609.9V203.8H600zM590.1 203.8H600V213.6H590.1zM619.7 213.6H629.6V223.5H619.7zM619.7 223.5H629.6V233.3H619.7zM609.9 243.2H619.7V253H609.9zM629.6 243.2H639.5V253H629.6zM639.5 253H649.3V262.9H639.5zM619.7 272.7H629.6V282.6H619.7zM639.5 272.7H649.3V282.6H639.5zM619.7 292.4H629.6V302.3H619.7zM649.3 302.3H659.2V312.2H649.3zM639.5 312.2H649.3V322H639.5zM609.9 341.7H619.7V351.6H609.9zM649.3 341.7H659.2V351.6H649.3zM649.3 361.4H659.2V371.3H649.3zM639.5 371.3H649.3V381.1H639.5zM649.3 400.9H659.2V410.7H649.3zM629.6 410.7H639.5V420.6H629.6zM659.2 420.6H669.1V430.4H659.2zM669.1 440.3H678.9V450.1H669.1zM678.9 450.1H688.8V460H678.9zM688.8 460H708.5V469.8H688.8zM669.1 469.8H678.9V479.7H669.1zM688.8 479.7H698.6V489.5H688.8zM708.5 479.7H718.4V489.5H708.5zM708.5 489.5H718.4V499.4H708.5zM718.4 499.4H728.2V509.3H718.4zM718.4 519.1H728.2V529H718.4zM738.1 529H757.8V538.8H738.1zM728.2 538.8H738.1V548.7H728.2zM748 538.8H757.8V548.7H748zM757.8 568.4H767.7V578.2H757.8zM787.4 568.4H797.3V578.2H787.4zM787.4 578.2H797.3V588.1H787.4zM738.1 588.1H748V598H738.1zM787.4 588.1H797.3V598H787.4zM767.7 598H777.5V607.8H767.7zM748 607.8H757.8V617.7H748zM738.1 617.7H748V627.5H738.1zM757.8 647.2H767.7V657.1H757.8zM757.8 657.1H767.7V666.9H757.8zM748 666.9H757.8V676.8H748zM738.1 676.8H748V686.6H738.1z"/>
<path fill="#cf8080" d="M274.5 10.4H284.4V16.5H274.5zM540.8 10.4H550.7V16.5H540.8zM580.3 10.4H590.1V16.5H580.3zM314 16.5H323.8V26.4H314zM580.3 26.4H590.1V36.2H580.3zM580.3 36.2H590.1V46.1H580.3zM323.8 46.1H333.7V55.9H323.8zM580.3 46.1H590.1V55.9H580.3zM600 164.3H609.9V174.2H600zM600 184H609.9V193.9H600zM609.9 223.5H619.7V233.3H609.9zM629.6 233.3H639.5V243.2H629.6zM600 243.2H609.9V253H600zM669.1 243.2H678.9V253H669.1zM669.1 253H678.9V262.9H669.1zM669.1 262.9H678.9V272.7H669.1zM669.1 272.7H678.9V282.6H669.1zM629.6 282.6H649.3V292.4H629.6zM659.2 312.2H669.1V322H659.2zM649.3 322H659.2V331.9H649.3zM649.3 331.9H659.2V341.7H649.3zM659.2 351.6H669.1V361.4H659.2zM629.6 371.3H639.5V381.1H629.6zM639.5 381.1H659.2V391H639.5zM659.2 391H669.1V400.9H659.2zM659.2 410.7H678.9V420.6H659.2zM649.3 420.6H659.2V430.4H649.3zM659.2 430.4H669.1V440.3H659.2zM678.9 440.3H688.8V450.1H678.9zM708.5 469.8H718.4V479.7H708.5zM718.4 489.5H738.1V499.4H718.4zM728.2 499.4H738.1V509.3H728.2zM718.4 509.3H728.2V519.1H718.4zM738.1 519.1H757.8V529H738.1zM718.4 538.8H728.2V548.7H718.4zM757.8 538.8H767.7V548.7H757.8zM777.5 558.5H787.4V568.4H777.5zM797.3 568.4H807.1V578.2H797.3zM777.5 578.2H787.4V588.1H777.5zM797.3 578.2H807.1V588.1H797.3zM777.5 598H787.4V607.8H777.5zM767.7 617.7H777.5V627.5H767.7z"/>
<path fill="#c78080" d="M284.4 10.4H294.3V16.5H284.4zM580.3 75.6H590.1V85.5H580.3zM580.3 85.5H590.1V95.3H580.3zM580.3 95.3H590.1V105.2H580.3zM580.3 105.2H590.1V115.1H580.3zM609.9 184H619.7V193.9H609.9zM619.7 203.8H629.6V213.6H619.7zM629.6 223.5H639.5V233.3H629.6zM639.5 243.2H649.3V253H639.5zM649.3 253H659.2V262.9H649.3zM639.5 262.9H649.3V272.7H639.5zM629.6 272.7H639.5V282.6H629.6zM649.3 282.6H659.2V292.4H649.3zM659.2 302.3H669.1V312.2H659.2zM649.3 312.2H659.2V322H649.3zM659.2 331.9H669.1V341.7H659.2zM659.2 341.7H669.1V351.6H659.2zM659.2 361.4H669.1V371.3H659.2zM649.3 371.3H669.1V381.1H649.3zM659.2 381.1H669.1V391H659.2zM639.5 391H659.2V400.9H639.5zM698.6 469.8H708.5V479.7H698.6zM738.1 499.4H748V509.3H738.1zM738.1 509.3H748V519.1H738.1zM767.7 538.8H777.5V548.7H767.7zM767.7 548.7H787.4V558.5H767.7zM787.4 558.5H797.3V568.4H787.4zM777.5 588.1H787.4V598H777.5zM797.3 588.1H807.1V598H797.3zM757.8 627.5H767.7V637.4H757.8z"/>
<path fill="#bf8080" d="M590.1 10.4H600V16.5H590.1zM609.9 10.4H787.4V16.5H609.9zM817 10.4H826.9V16.5H817zM175.9 16.5H185.8V26.4H175.9zM580.3 16.5H886V26.4H580.3zM175.9 26.4H185.8V36.2H175.9zM491.5 26.4H501.4V36.2H491.5zM590.1 26.4H895.9V36.2H590.1zM175.9 36.2H185.8V46.1H175.9zM590.1 36.2H895.9V46.1H590.1zM905.8 36.2H925.5V46.1H905.8zM935.4 36.2H945.2V46.1H935.4zM175.9 46.1H185.8V55.9H175.9zM590.1 46.1H757.8V55.9H590.1zM767.7 46.1H955.1V55.9H767.7zM580.3 55.9H935.4V65.8H580.3zM955.1 55.9H962.5V65.8H955.1zM580.3 65.8H846.6V75.6H580.3zM866.3 65.8H876.2V75.6H866.3zM925.5 65.8H955.1V75.6H925.5zM590.1 75.6H836.7V85.5H590.1zM846.6 75.6H876.2V85.5H846.6zM945.2 75.6H955.1V85.5H945.2zM590.1 85.5H600V95.3H590.1zM619.7 85.5H866.3V95.3H619.7zM590.1 95.3H600V105.2H590.1zM619.7 95.3H876.2V105.2H619.7zM886 95.3H925.5V105.2H886zM590.1 105.2H876.2V115.1H590.1zM895.9 105.2H905.8V115.1H895.9zM925.5 105.2H935.4V115.1H925.5zM580.3 115.1H866.3V124.9H580.3zM876.2 115.1H886V124.9H876.2zM905.8 115.1H915.6V124.9H905.8zM935.4 115.1H945.2V124.9H935.4zM590.1 124.9H836.7V134.8H590.1zM846.6 124.9H866.3V134.8H846.6zM876.2 124.9H895.9V134.8H876.2zM915.6 124.9H935.4V134.8H915.6zM590.1 134.8H915.6V144.6H590.1zM600 144.6H915.6V154.5H600zM935.4 144.6H955.1V154.5H935.4zM600 154.5H935.4V164.3H600zM609.9 164.3H925.5V174.2H609.9zM935.4 164.3H945.2V174.2H935.4zM955.1 164.3H962.5V174.2H955.1zM609.9 174.2H962.5V184H609.9zM619.7 184H962.5V193.9H619.7zM609.9 193.9H836.7V203.8H609.9zM846.6 193.9H955.1V203.8H846.6zM629.6 203.8H925.5V213.6H629.6zM945.2 203.8H962.5V213.6H945.2zM629.6 213.6H925.5V223.5H629.6zM945.2 213.6H962.5V223.5H945.2zM639.5 223.5H955.1V233.3H639.5zM639.5 233.3H955.1V243.2H639.5zM649.3 243.2H669.1V253H649.3zM678.9 243.2H945.2V253H678.9zM659.2 253H669.1V262.9H659.2zM678.9 253H945.2V262.9H678.9zM649.3 262.9H669.1V272.7H649.3zM678.9 262.9H935.4V272.7H678.9zM945.2 262.9H955.1V272.7H945.2zM649.3 272.7H669.1V282.6H649.3zM678.9 272.7H915.6V282.6H678.9zM925.5 272.7H955.1V282.6H925.5zM659.2 282.6H955.1V292.4H659.2zM649.3 292.4H945.2V302.3H649.3zM669.1 302.3H925.5V312.2H669.1zM669.1 312.2H925.5V322H669.1zM659.2 322H915.6V331.9H659.2zM669.1 331.9H905.8V341.7H669.1zM945.2 331.9H955.1V341.7H945.2zM669.1 341.7H915.6V351.6H669.1zM935.4 341.7H945.2V351.6H935.4zM669.1 351.6H915.6V361.4H669.1zM935.4 351.6H945.2V361.4H935.4zM669.1 361.4H925.5V371.3H669.1zM669.1 371.3H915.6V381.1H669.1zM935.4 371.3H945.2V381.1H935.4zM669.1 381.1H915.6V391H669.1zM669.1 391H915.6V400.9H669.1zM935.4 391H945.2V400.9H935.4zM659.2 400.9H876.2V410.7H659.2zM886 400.9H915.6V410.7H886zM945.2 400.9H955.1V410.7H945.2zM649.3 410.7H659.2V420.6H649.3zM678.9 410.7H886V420.6H678.9zM895.9 410.7H915.6V420.6H895.9zM669.1 420.6H895.9V430.4H669.1zM915.6 420.6H925.5V430.4H915.6zM945.2 420.6H955.1V430.4H945.2zM669.1 430.4H895.9V440.3H669.1zM905.8 430.4H915.6V440.3H905.8zM925.5 430.4H935.4V440.3H925.5zM945.2 430.4H962.5V440.3H945.2zM688.8 440.3H905.8V450.1H688.8zM688.8 450.1H886V460H688.8zM895.9 450.1H905.8V460H895.9zM708.5 460H886V469.8H708.5zM895.9 460H905.8V469.8H895.9zM718.4 469.8H876.2V479.7H718.4zM886 469.8H895.9V479.7H886zM718.4 479.7H895.9V489.5H718.4zM738.1 489.5H895.9V499.4H738.1zM748 499.4H905.8V509.3H748zM748 509.3H905.8V519.1H748zM757.8 519.1H886V529H757.8zM757.8 529H886V538.8H757.8zM777.5 538.8H866.3V548.7H777.5zM886 538.8H895.9V548.7H886zM787.4 548.7H866.3V558.5H787.4zM886 548.7H895.9V558.5H886zM797.3 558.5H895.9V568.4H797.3zM807.1 568.4H856.4V578.2H807.1zM807.1 578.2H856.4V588.1H807.1zM807.1 588.1H856.4V598H807.1zM787.4 598H856.4V607.8H787.4zM777.5 607.8H797.3V617.7H777.5zM807.1 607.8H826.9V617.7H807.1zM935.4 607.8H945.2V617.7H935.4zM777.5 617.7H856.4V627.5H777.5zM866.3 617.7H886V627.5H866.3zM895.9 617.7H935.4V627.5H895.9zM767.7 627.5H826.9V637.4H767.7zM757.8 637.4H807.1V647.2H757.8zM767.7 647.2H807.1V657.1H767.7zM777.5 657.1H797.3V666.9H777.5zM777.5 666.9H797.3V676.8H777.5zM728.2 676.8H738.1V686.6H728.2zM757.8 676.8H797.3V686.6H757.8zM728.2 686.6H738.1V696.5H728.2zM748 686.6H757.8V696.5H748zM767.7 686.6H787.4V696.5H767.7zM767.7 696.5H777.5V706.4H767.7zM718.4 706.4H738.1V716.2H718.4zM767.7 706.4H777.5V716.2H767.7zM777.5 716.2H787.4V726.1H777.5zM777.5 726.1H787.4V735.9H777.5zM777.5 735.9H787.4V745.8H777.5zM708.5 745.8H718.4V755.6H708.5zM777.5 745.8H787.4V755.6H777.5zM757.8 755.6H787.4V765.5H757.8zM738.1 765.5H757.8V775.3H738.1zM738.1 775.3H748V785.2H738.1zM728.2 785.2H748V795.1H728.2zM728.2 795.1H738.1V801.5H728.2z"/>
</g>
<path class="gr" d="M171.40 10.4V801.5M171.4 801.50H962.5M270.29 10.4V801.5M171.4 702.61H962.5M369.18 10.4V801.5M171.4 603.73H962.5M468.06 10.4V801.5M171.4 504.84H962.5M566.95 10.4V801.5M171.4 405.95H962.5M665.84 10.4V801.5M171.4 307.06H962.5M764.73 10.4V801.5M171.4 208.18H962.5M863.61 10.4V801.5M171.4 109.29H962.5M962.50 10.4V801.5M171.4 10.40H962.5"/>
<path class="ln" d="M197.2 498.4L200.2 496.5L202.3 493.9L204.7 492.4L207.3 490.3L209.9 488.4L212.0 486.7L215.2 485.0L217.5 482.4L219.9 480.1L222.8 478.3L224.7 476.5L227.6 474.6L230.4 472.5L232.1 470.2L234.9 468.2L236.9 466.1L239.7 464.5L241.5 461.7L244.0 459.1L246.4 457.4L249.3 455.5L251.4 453.4L253.3 451.2L256.0 448.2L258.3 446.2L260.6 444.0L262.6 441.6L265.8 439.6L268.2 437.3L270.6 434.3L272.6 432.3L274.9 429.3L276.5 426.8L279.0 425.2L280.8 422.8L282.7 419.8L285.0 417.0L287.1 415.3L288.8 412.5L291.1 409.8L293.2 407.9L295.5 405.2L297.6 402.7L299.2 400.7L301.3 398.0L303.9 395.3L305.9 393.5L308.0 390.5L309.3 388.1L312.2 386.0L314.0 383.5L315.9 381.5L318.0 379.0L320.3 376.5L322.1 375.0L324.4 371.8L326.1 370.0L328.1 367.5L331.1 365.7L333.2 363.6L336.2 362.0L338.5 360.0L341.3 358.2L344.2 356.9L347.1 355.4L350.5 353.9L353.0 352.6L356.0 350.9L358.9 348.8L362.2 347.9L365.1 346.3L367.7 344.9L370.2 343.2L373.0 342.4L375.9 340.3L378.5 338.8L380.8 337.7L383.5 335.6L386.0 334.6L388.9 333.1L391.6 331.7L394.0 329.8L397.0 327.8L399.7 326.2L401.9 324.6L404.8 322.5L407.1 320.5L410.1 318.7L412.6 316.6L415.4 314.6L417.7 312.7L419.8 310.4L422.3 307.9L425.4 306.1L427.0 304.0L428.3 302.9L431.2 299.5L435.6 296.2L437.0 293.9L440.0 292.0L441.6 288.0L442.3 286.9L446.1 285.1L448.4 282.6L448.1 279.4L450.3 277.0L450.7 273.7L453.9 272.3L457.7 269.1L458.8 265.8L461.5 264.9L464.2 261.6L466.1 259.8L470.1 258.6L470.5 254.9L472.5 253.2L475.0 251.3L478.0 249.9L479.5 246.4L483.3 244.6L485.4 242.7L487.4 243.1L490.7 239.7L492.5 239.3L494.9 235.5L497.4 233.0L500.2 230.3L501.4 227.4L502.4 224.8L504.0 223.7L506.4 219.5L508.1 218.5L507.7 214.3L512.5 211.4L514.9 209.7L515.5 206.9L517.6 203.9L523.5 201.9L524.3 199.4L526.5 203.9L529.0 201.3L531.1 198.2L533.1 199.4L535.5 194.9L539.3 194.1L542.1 193.8L544.4 192.6L546.7 189.3L550.6 188.3L552.6 187.1L557.5 185.3L558.8 188.1L562.7 188.2L564.4 190.3L567.2 192.2L572.8 195.6L572.9 197.3L575.3 200.5L577.6 202.2L580.5 204.9L581.4 206.1L585.1 207.5L588.3 204.4L591.2 203.4L592.8 206.0L594.0 210.7L593.9 213.7L594.7 215.3L594.7 219.8L595.3 223.8L597.6 221.0L599.9 217.6L601.4 215.6L606.5 219.1L608.0 218.3L611.6 219.7L615.2 221.5L620.0 219.9L621.7 221.7L623.7 222.8L625.8 224.3L629.7 226.8L631.9 229.9L636.3 227.7L638.0 223.8L636.6 219.3L636.4 217.9L635.7 211.7L636.0 209.5L638.0 207.1L639.5 205.6L642.1 201.4L639.6 200.4L635.9 198.6L633.9 197.3L632.6 192.1L631.8 189.3L630.4 186.4L631.1 184.8L628.9 182.1L625.8 176.0L625.8 174.9L623.0 173.2L620.8 170.6L619.0 166.0L615.6 164.8L613.3 164.0L610.0 157.9L607.8 156.7L605.5 154.6L603.5 151.8L600.8 148.5L599.1 149.9L597.1 145.1L593.9 141.7L591.2 142.4L587.4 143.6L583.0 145.0L580.0 149.0L584.0 147.0L587.1 146.3L592.0 145.0L594.5 148.2L596.9 150.0L597.4 151.2L601.2 154.9L604.0 157.0L606.5 160.6L608.2 161.3L611.7 163.5L614.0 166.0L616.9 168.2L620.3 171.2L622.5 174.2L624.0 177.0L626.3 178.7L626.5 182.6L627.2 187.1L627.0 187.8L628.1 192.2L628.3 195.1L631.0 198.0L632.8 198.6L636.7 201.7L640.0 203.0L637.4 205.2L636.0 208.1L634.0 211.0L632.2 213.6L635.3 218.0L637.6 220.6L636.5 222.1L637.0 226.0L639.7 228.3L643.4 228.4L645.1 231.5L649.2 232.6L650.2 233.9L650.5 236.5L651.5 239.8L653.4 244.6L654.1 248.0L654.3 250.2L651.9 253.9L649.9 257.0L648.2 260.4L650.9 263.2L649.8 265.9L652.4 267.6L654.0 272.6L656.3 274.6L658.8 277.2L659.2 281.8L658.3 283.7L660.3 287.0L659.9 289.5L662.4 292.9L664.2 297.1L665.8 298.7L666.7 302.6L664.7 305.7L666.8 308.1L670.0 308.1L673.8 308.2L677.7 306.3L681.0 306.1L683.9 309.7L684.7 314.0L687.1 316.3L686.7 319.3L686.6 322.1L686.6 328.6L687.1 330.5L685.8 334.1L685.1 337.1L687.0 342.0L685.1 344.8L687.6 346.3L691.2 347.8L693.2 344.4L695.8 341.6L699.3 339.7L701.7 343.3L703.9 345.6L705.5 348.8L704.3 352.0L704.7 356.1L706.0 359.3L705.2 360.2L705.5 365.1L705.0 369.6L701.4 372.0L701.4 375.3L698.4 373.3L693.2 373.2L695.1 376.0L692.9 380.6L694.5 381.8L695.4 383.7L696.6 387.8L695.3 391.6L696.1 394.3L696.7 398.5L696.1 401.5L697.0 403.2L697.6 405.9L698.3 409.9L698.6 414.1L700.2 417.7L701.4 420.0L704.5 421.8L705.1 424.8L709.5 428.2L712.8 428.7L714.9 430.1L717.1 428.6L721.7 430.2L723.8 435.6L726.1 436.1L727.8 440.4L730.4 443.7L732.7 445.4L733.9 448.5L736.2 450.7L740.0 452.6L737.3 455.0L733.9 454.6L731.7 455.0L725.8 456.7L723.3 459.3L721.5 462.5L719.7 464.8L722.8 467.7L726.3 470.1L727.8 472.9L728.4 474.5L729.9 478.1L730.7 482.6L733.9 485.1L737.3 488.1L736.8 491.1L735.2 493.5L735.3 498.3L737.5 500.5L739.4 499.4L745.1 499.9L747.5 500.3L749.9 502.4L751.9 503.5L755.6 504.4L754.9 506.0L751.6 509.5L747.5 510.7L745.7 512.8L741.4 512.6L739.5 514.0L735.3 516.9L734.1 517.7L731.2 520.7L729.2 524.4L728.1 526.6L725.1 530.9L723.6 533.2L720.6 537.6L719.0 541.0L717.8 546.5L714.1 546.5L712.3 547.4L708.8 551.2L706.1 552.1L703.5 556.6L698.7 557.3L701.7 554.7L705.4 553.9L706.5 552.3L709.0 550.0L709.9 548.6L714.7 546.7L716.3 543.7L719.2 543.0L721.0 541.0L724.3 539.7L728.3 540.5L731.1 539.4L735.2 539.2L737.3 537.0L740.9 536.5L743.7 536.3L747.5 536.0L750.0 540.4L751.6 543.1L748.2 546.3L745.5 549.2L747.3 551.7L750.5 552.2L753.6 553.2L750.9 555.7L748.9 560.2L747.5 561.4L747.2 564.7L745.3 567.7L745.5 571.6L747.0 576.6L746.2 577.9L748.3 581.7L749.5 585.8L748.7 589.2L751.6 591.2L751.6 596.0L749.1 599.6L747.0 601.0L743.4 604.1L742.4 606.6L736.6 609.0L733.2 611.0L731.2 612.2L727.4 615.0L725.3 617.4L723.1 618.4L722.4 622.2L720.4 626.1L719.0 628.5L721.0 632.6L722.4 629.9L727.1 626.5L729.9 625.0L732.6 625.8L734.4 621.1L736.8 619.8L737.2 617.9L741.4 614.3L743.6 610.2L746.1 610.1L750.1 608.1L753.5 606.1L755.6 604.1L758.1 600.1L761.1 601.0L762.9 596.3L765.8 596.0L768.6 596.5L773.9 593.9L775.4 596.0L777.2 600.0L780.0 602.1L779.5 604.6L778.6 608.5L780.9 611.7L780.8 615.3L780.0 618.4L778.6 621.6L777.0 625.4L775.9 627.0L773.9 630.6L771.3 633.2L768.9 636.2L765.8 638.7L762.8 639.4L759.3 643.9L755.6 644.8L751.6 648.9L753.8 648.3L758.6 644.6L761.7 642.8L762.8 641.7L766.3 638.3L769.9 636.7L773.4 635.3L775.1 634.6L778.9 635.7L782.1 634.6L785.5 636.5L787.9 637.8L790.6 641.0L794.3 640.7L797.2 641.7L798.7 647.6L802.4 648.9L798.6 650.5L797.7 652.0L795.7 656.5L792.2 657.0L789.4 660.6L787.3 661.2L786.3 664.9L784.1 667.2L781.4 671.0L778.4 672.6L777.5 676.4L774.0 679.2L773.1 681.2L768.7 682.9L767.8 683.4L764.8 687.0L761.6 689.7L760.5 691.5L757.9 693.6L755.1 695.4L751.7 697.4L750.0 699.7L747.9 704.3L746.7 704.6L744.5 707.0L742.8 710.1L741.2 712.8L739.5 714.5L737.5 717.6L737.5 719.1L735.4 723.2L733.5 725.3L730.7 729.6L731.0 731.4L729.1 733.1L729.5 735.4L728.7 740.2L727.3 742.5L724.6 743.8L724.6 748.3L724.2 750.4L720.6 754.7L718.8 755.5L717.4 758.1L714.9 760.2L714.1 763.2L713.9 767.1L708.8 767.8L710.4 772.6L708.8 775.9L708.2 780.5L706.6 784.4L708.1 787.5L707.7 790.7L707.8 794.5L707.3 796.3L708.2 800.0L706.3 804.2L707.3 806.0" stroke="#fff" stroke-width="9.2"/>
<path class="ln" d="M197.2 498.4L200.2 496.5L202.3 493.9L204.7 492.4L207.3 490.3L209.9 488.4L212.0 486.7L215.2 485.0L217.5 482.4L219.9 480.1L222.8 478.3L224.7 476.5L227.6 474.6L230.4 472.5L232.1 470.2L234.9 468.2L236.9 466.1L239.7 464.5L241.5 461.7L244.0 459.1L246.4 457.4L249.3 455.5L251.4 453.4L253.3 451.2L256.0 448.2L258.3 446.2L260.6 444.0L262.6 441.6L265.8 439.6L268.2 437.3L270.6 434.3L272.6 432.3L274.9 429.3L276.5 426.8L279.0 425.2L280.8 422.8L282.7 419.8L285.0 417.0L287.1 415.3L288.8 412.5L291.1 409.8L293.2 407.9L295.5 405.2L297.6 402.7L299.2 400.7L301.3 398.0L303.9 395.3L305.9 393.5L308.0 390.5L309.3 388.1L312.2 386.0L314.0 383.5L315.9 381.5L318.0 379.0L320.3 376.5L322.1 375.0L324.4 371.8L326.1 370.0L328.1 367.5L331.1 365.7L333.2 363.6L336.2 362.0L338.5 360.0L341.3 358.2L344.2 356.9L347.1 355.4L350.5 353.9L353.0 352.6L356.0 350.9L358.9 348.8L362.2 347.9L365.1 346.3L367.7 344.9L370.2 343.2L373.0 342.4L375.9 340.3L378.5 338.8L380.8 337.7L383.5 335.6L386.0 334.6L388.9 333.1L391.6 331.7L394.0 329.8L397.0 327.8L399.7 326.2L401.9 324.6L404.8 322.5L407.1 320.5L410.1 318.7L412.6 316.6L415.4 314.6L417.7 312.7L419.8 310.4L422.3 307.9L425.4 306.1L427.0 304.0L428.3 302.9L431.2 299.5L435.6 296.2L437.0 293.9L440.0 292.0L441.6 288.0L442.3 286.9L446.1 285.1L448.4 282.6L448.1 279.4L450.3 277.0L450.7 273.7L453.9 272.3L457.7 269.1L458.8 265.8L461.5 264.9L464.2 261.6L466.1 259.8L470.1 258.6L470.5 254.9L472.5 253.2L475.0 251.3L478.0 249.9L479.5 246.4L483.3 244.6L485.4 242.7L487.4 243.1L490.7 239.7L492.5 239.3L494.9 235.5L497.4 233.0L500.2 230.3L501.4 227.4L502.4 224.8L504.0 223.7L506.4 219.5L508.1 218.5L507.7 214.3L512.5 211.4L514.9 209.7L515.5 206.9L517.6 203.9L523.5 201.9L524.3 199.4L526.5 203.9L529.0 201.3L531.1 198.2L533.1 199.4L535.5 194.9L539.3 194.1L542.1 193.8L544.4 192.6L546.7 189.3L550.6 188.3L552.6 187.1L557.5 185.3L558.8 188.1L562.7 188.2L564.4 190.3L567.2 192.2L572.8 195.6L572.9 197.3L575.3 200.5L577.6 202.2L580.5 204.9L581.4 206.1L585.1 207.5L588.3 204.4L591.2 203.4L592.8 206.0L594.0 210.7L593.9 213.7L594.7 215.3L594.7 219.8L595.3 223.8L597.6 221.0L599.9 217.6L601.4 215.6L606.5 219.1L608.0 218.3L611.6 219.7L615.2 221.5L620.0 219.9L621.7 221.7L623.7 222.8L625.8 224.3L629.7 226.8L631.9 229.9L636.3 227.7L638.0 223.8L636.6 219.3L636.4 217.9L635.7 211.7L636.0 209.5L638.0 207.1L639.5 205.6L642.1 201.4L639.6 200.4L635.9 198.6L633.9 197.3L632.6 192.1L631.8 189.3L630.4 186.4L631.1 184.8L628.9 182.1L625.8 176.0L625.8 174.9L623.0 173.2L620.8 170.6L619.0 166.0L615.6 164.8L613.3 164.0L610.0 157.9L607.8 156.7L605.5 154.6L603.5 151.8L600.8 148.5L599.1 149.9L597.1 145.1L593.9 141.7L591.2 142.4L587.4 143.6L583.0 145.0L580.0 149.0L584.0 147.0L587.1 146.3L592.0 145.0L594.5 148.2L596.9 150.0L597.4 151.2L601.2 154.9L604.0 157.0L606.5 160.6L608.2 161.3L611.7 163.5L614.0 166.0L616.9 168.2L620.3 171.2L622.5 174.2L624.0 177.0L626.3 178.7L626.5 182.6L627.2 187.1L627.0 187.8L628.1 192.2L628.3 195.1L631.0 198.0L632.8 198.6L636.7 201.7L640.0 203.0L637.4 205.2L636.0 208.1L634.0 211.0L632.2 213.6L635.3 218.0L637.6 220.6L636.5 222.1L637.0 226.0L639.7 228.3L643.4 228.4L645.1 231.5L649.2 232.6L650.2 233.9L650.5 236.5L651.5 239.8L653.4 244.6L654.1 248.0L654.3 250.2L651.9 253.9L649.9 257.0L648.2 260.4L650.9 263.2L649.8 265.9L652.4 267.6L654.0 272.6L656.3 274.6L658.8 277.2L659.2 281.8L658.3 283.7L660.3 287.0L659.9 289.5L662.4 292.9L664.2 297.1L665.8 298.7L666.7 302.6L664.7 305.7L666.8 308.1L670.0 308.1L673.8 308.2L677.7 306.3L681.0 306.1L683.9 309.7L684.7 314.0L687.1 316.3L686.7 319.3L686.6 322.1L686.6 328.6L687.1 330.5L685.8 334.1L685.1 337.1L687.0 342.0L685.1 344.8L687.6 346.3L691.2 347.8L693.2 344.4L695.8 341.6L699.3 339.7L701.7 343.3L703.9 345.6L705.5 348.8L704.3 352.0L704.7 356.1L706.0 359.3L705.2 360.2L705.5 365.1L705.0 369.6L701.4 372.0L701.4 375.3L698.4 373.3L693.2 373.2L695.1 376.0L692.9 380.6L694.5 381.8L695.4 383.7L696.6 387.8L695.3 391.6L696.1 394.3L696.7 398.5L696.1 401.5L697.0 403.2L697.6 405.9L698.3 409.9L698.6 414.1L700.2 417.7L701.4 420.0L704.5 421.8L705.1 424.8L709.5 428.2L712.8 428.7L714.9 430.1L717.1 428.6L721.7 430.2L723.8 435.6L726.1 436.1L727.8 440.4L730.4 443.7L732.7 445.4L733.9 448.5L736.2 450.7L740.0 452.6L737.3 455.0L733.9 454.6L731.7 455.0L725.8 456.7L723.3 459.3L721.5 462.5L719.7 464.8L722.8 467.7L726.3 470.1L727.8 472.9L728.4 474.5L729.9 478.1L730.7 482.6L733.9 485.1L737.3 488.1L736.8 491.1L735.2 493.5L735.3 498.3L737.5 500.5L739.4 499.4L745.1 499.9L747.5 500.3L749.9 502.4L751.9 503.5L755.6 504.4L754.9 506.0L751.6 509.5L747.5 510.7L745.7 512.8L741.4 512.6L739.5 514.0L735.3 516.9L734.1 517.7L731.2 520.7L729.2 524.4L728.1 526.6L725.1 530.9L723.6 533.2L720.6 537.6L719.0 541.0L717.8 546.5L714.1 546.5L712.3 547.4L708.8 551.2L706.1 552.1L703.5 556.6L698.7 557.3L701.7 554.7L705.4 553.9L706.5 552.3L709.0 550.0L709.9 548.6L714.7 546.7L716.3 543.7L719.2 543.0L721.0 541.0L724.3 539.7L728.3 540.5L731.1 539.4L735.2 539.2L737.3 537.0L740.9 536.5L743.7 536.3L747.5 536.0L750.0 540.4L751.6 543.1L748.2 546.3L745.5 549.2L747.3 551.7L750.5 552.2L753.6 553.2L750.9 555.7L748.9 560.2L747.5 561.4L747.2 564.7L745.3 567.7L745.5 571.6L747.0 576.6L746.2 577.9L748.3 581.7L749.5 585.8L748.7 589.2L751.6 591.2L751.6 596.0L749.1 599.6L747.0 601.0L743.4 604.1L742.4 606.6L736.6 609.0L733.2 611.0L731.2 612.2L727.4 615.0L725.3 617.4L723.1 618.4L722.4 622.2L720.4 626.1L719.0 628.5L721.0 632.6L722.4 629.9L727.1 626.5L729.9 625.0L732.6 625.8L734.4 621.1L736.8 619.8L737.2 617.9L741.4 614.3L743.6 610.2L746.1 610.1L750.1 608.1L753.5 606.1L755.6 604.1L758.1 600.1L761.1 601.0L762.9 596.3L765.8 596.0L768.6 596.5L773.9 593.9L775.4 596.0L777.2 600.0L780.0 602.1L779.5 604.6L778.6 608.5L780.9 611.7L780.8 615.3L780.0 618.4L778.6 621.6L777.0 625.4L775.9 627.0L773.9 630.6L771.3 633.2L768.9 636.2L765.8 638.7L762.8 639.4L759.3 643.9L755.6 644.8L751.6 648.9L753.8 648.3L758.6 644.6L761.7 642.8L762.8 641.7L766.3 638.3L769.9 636.7L773.4 635.3L775.1 634.6L778.9 635.7L782.1 634.6L785.5 636.5L787.9 637.8L790.6 641.0L794.3 640.7L797.2 641.7L798.7 647.6L802.4 648.9L798.6 650.5L797.7 652.0L795.7 656.5L792.2 657.0L789.4 660.6L787.3 661.2L786.3 664.9L784.1 667.2L781.4 671.0L778.4 672.6L777.5 676.4L774.0 679.2L773.1 681.2L768.7 682.9L767.8 683.4L764.8 687.0L761.6 689.7L760.5 691.5L757.9 693.6L755.1 695.4L751.7 697.4L750.0 699.7L747.9 704.3L746.7 704.6L744.5 707.0L742.8 710.1L741.2 712.8L739.5 714.5L737.5 717.6L737.5 719.1L735.4 723.2L733.5 725.3L730.7 729.6L731.0 731.4L729.1 733.1L729.5 735.4L728.7 740.2L727.3 742.5L724.6 743.8L724.6 748.3L724.2 750.4L720.6 754.7L718.8 755.5L717.4 758.1L714.9 760.2L714.1 763.2L713.9 767.1L708.8 767.8L710.4 772.6L708.8 775.9L708.2 780.5L706.6 784.4L708.1 787.5L707.7 790.7L707.8 794.5L707.3 796.3L708.2 800.0L706.3 804.2L707.3 806.0" stroke="#0000ff" stroke-width="6.3"/>
<path class="ln" d="M197.2 486.3L199.8 484.5L201.8 482.1L203.9 479.5L206.3 477.7L208.4 476.0L210.5 473.1L213.0 471.5L215.4 468.9L217.5 466.6L219.7 464.9L222.3 462.5L224.8 460.6L226.9 458.9L229.2 455.6L231.7 454.1L234.4 451.6L236.7 450.2L238.7 447.5L240.9 445.6L244.0 443.6L246.1 441.3L248.7 439.6L250.9 437.3L253.0 434.8L255.7 432.6L258.2 431.1L260.5 428.4L262.6 426.9L264.9 424.4L267.5 422.3L269.9 420.2L272.3 417.7L273.6 415.9L276.1 413.3L278.1 411.0L280.5 408.8L282.2 406.0L284.4 403.8L286.5 401.2L288.4 399.0L289.8 396.8L292.7 394.5L295.0 392.2L296.6 389.9L298.7 387.6L300.9 385.1L302.9 382.6L304.5 380.3L307.0 377.9L308.4 375.4L311.2 373.2L313.0 369.8L314.5 367.8L316.5 364.9L318.2 362.0L321.0 359.4L322.8 356.7L325.4 354.3L327.9 352.6L330.9 350.1L333.5 347.6L336.3 346.0L338.7 343.5L341.4 342.2L344.8 340.7L348.0 339.9L350.4 338.5L353.8 336.6L356.5 335.5L359.2 334.4L362.0 332.5L365.1 331.6L367.7 330.3L371.3 328.9L374.1 327.6L377.6 326.4L380.0 324.9L383.6 323.5L386.3 322.3L388.8 320.5L391.3 319.0L393.7 317.4L396.8 314.9L399.6 313.0L402.2 311.7L404.1 309.3L405.5 306.3L407.7 303.6L409.2 301.3L411.4 298.4L412.7 295.9L414.4 293.2L413.7 289.7L416.0 285.3L419.4 284.0L422.4 281.2L423.3 277.7L423.7 274.5L424.0 271.8L425.8 268.8L427.2 267.3L428.2 263.4L429.4 260.3L429.8 258.2L431.8 254.4L433.3 252.4L434.8 248.6L436.5 245.7L437.5 243.2L439.3 240.4L441.0 238.6L441.7 233.1L444.0 233.3L443.7 228.5L445.2 225.5L445.6 224.0L448.4 222.3L448.9 218.1L453.6 215.1L454.9 212.8L456.4 210.4L458.9 207.3L461.6 204.4L463.6 203.0L465.7 199.9L468.3 197.1L470.2 195.7L472.4 193.5L473.4 189.6L477.3 189.1L481.6 184.8L484.0 183.7L486.1 183.0L489.2 180.5L490.5 176.7L495.0 178.3L496.6 174.9L499.7 172.5L501.9 171.9L505.4 168.7L507.2 167.1L512.0 165.8L513.8 170.9L515.3 173.6L517.2 172.2L521.0 168.8L524.3 166.9L526.4 164.0L529.1 165.7L532.1 162.6L537.2 159.8L539.6 159.9L542.2 159.1L544.9 158.2L547.1 155.7L550.5 154.8L551.7 152.5L553.7 152.2L556.4 149.6L560.1 147.9L564.6 147.1L565.7 144.2L568.4 144.1L572.2 141.8L574.9 140.3L579.2 142.2L578.5 145.4L581.0 148.5L583.9 150.8L586.2 153.2L589.2 154.6L592.7 156.3L595.3 158.7L593.8 155.8L595.9 150.9L597.4 146.8L598.3 144.4L597.2 141.3L597.3 138.4L596.6 134.9L596.1 131.7L597.0 128.7L595.1 125.6L596.2 122.8L599.0 122.2L601.6 119.4L603.4 120.0L607.3 116.8L609.6 114.7L613.5 113.0L617.9 113.8L620.5 111.8L623.4 111.7L626.2 113.4L630.9 116.3L633.5 114.8L632.9 109.8L630.5 107.9L629.9 104.8L627.4 101.7L631.3 100.8L634.9 101.9L637.4 98.2L641.5 99.6L644.0 102.2L648.7 101.8L651.2 104.3L655.6 104.7L657.8 102.3L659.1 100.1L661.3 98.5L664.8 94.0L665.7 93.6L667.6 93.1L672.2 91.4L674.8 92.0L678.1 91.5L681.8 91.6L683.7 94.7L686.5 96.8L687.9 98.6L687.6 101.4L686.4 106.2L686.5 109.8L685.9 112.7L689.4 112.0L692.9 109.9L695.9 110.7L697.7 112.5L700.7 114.9L702.1 117.5L704.4 121.0L706.0 122.8L707.8 119.5L710.1 116.7L712.0 112.7L713.3 115.7L714.9 117.8L717.1 122.1L717.9 126.2L719.7 128.5L722.1 130.9L725.7 127.3L728.7 125.3L732.2 124.8L733.2 128.2L736.2 131.1L734.4 132.9L738.3 136.2L738.2 138.9L742.8 136.2L744.3 134.9L744.7 137.1L745.9 143.0L746.4 146.2L748.3 149.0L750.7 147.1L752.0 143.9L756.2 140.2L756.4 138.9L756.2 143.4L755.1 146.8L751.2 148.2L752.0 151.3L752.3 155.0L759.0 153.0L748.4 178.2L735.6 206.7L725.0 228.0L719.0 237.0L722.5 231.0L725.5 241.0L729.9 240.8L742.7 206.7L755.5 178.2L762.0 165.0L766.9 142.6L786.0 104.0L804.7 66.4L793.0 100.0L779.8 138.3L785.5 126.9L782.6 148.3L799.7 128.3L786.0 146.0L766.9 166.8" stroke="#fff" stroke-width="9.2"/>
<path class="ln" d="M197.2 486.3L199.8 484.5L201.8 482.1L203.9 479.5L206.3 477.7L208.4 476.0L210.5 473.1L213.0 471.5L215.4 468.9L217.5 466.6L219.7 464.9L222.3 462.5L224.8 460.6L226.9 458.9L229.2 455.6L231.7 454.1L234.4 451.6L236.7 450.2L238.7 447.5L240.9 445.6L244.0 443.6L246.1 441.3L248.7 439.6L250.9 437.3L253.0 434.8L255.7 432.6L258.2 431.1L260.5 428.4L262.6 426.9L264.9 424.4L267.5 422.3L269.9 420.2L272.3 417.7L273.6 415.9L276.1 413.3L278.1 411.0L280.5 408.8L282.2 406.0L284.4 403.8L286.5 401.2L288.4 399.0L289.8 396.8L292.7 394.5L295.0 392.2L296.6 389.9L298.7 387.6L300.9 385.1L302.9 382.6L304.5 380.3L307.0 377.9L308.4 375.4L311.2 373.2L313.0 369.8L314.5 367.8L316.5 364.9L318.2 362.0L321.0 359.4L322.8 356.7L325.4 354.3L327.9 352.6L330.9 350.1L333.5 347.6L336.3 346.0L338.7 343.5L341.4 342.2L344.8 340.7L348.0 339.9L350.4 338.5L353.8 336.6L356.5 335.5L359.2 334.4L362.0 332.5L365.1 331.6L367.7 330.3L371.3 328.9L374.1 327.6L377.6 326.4L380.0 324.9L383.6 323.5L386.3 322.3L388.8 320.5L391.3 319.0L393.7 317.4L396.8 314.9L399.6 313.0L402.2 311.7L404.1 309.3L405.5 306.3L407.7 303.6L409.2 301.3L411.4 298.4L412.7 295.9L414.4 293.2L413.7 289.7L416.0 285.3L419.4 284.0L422.4 281.2L423.3 277.7L423.7 274.5L424.0 271.8L425.8 268.8L427.2 267.3L428.2 263.4L429.4 260.3L429.8 258.2L431.8 254.4L433.3 252.4L434.8 248.6L436.5 245.7L437.5 243.2L439.3 240.4L441.0 238.6L441.7 233.1L444.0 233.3L443.7 228.5L445.2 225.5L445.6 224.0L448.4 222.3L448.9 218.1L453.6 215.1L454.9 212.8L456.4 210.4L458.9 207.3L461.6 204.4L463.6 203.0L465.7 199.9L468.3 197.1L470.2 195.7L472.4 193.5L473.4 189.6L477.3 189.1L481.6 184.8L484.0 183.7L486.1 183.0L489.2 180.5L490.5 176.7L495.0 178.3L496.6 174.9L499.7 172.5L501.9 171.9L505.4 168.7L507.2 167.1L512.0 165.8L513.8 170.9L515.3 173.6L517.2 172.2L521.0 168.8L524.3 166.9L526.4 164.0L529.1 165.7L532.1 162.6L537.2 159.8L539.6 159.9L542.2 159.1L544.9 158.2L547.1 155.7L550.5 154.8L551.7 152.5L553.7 152.2L556.4 149.6L560.1 147.9L564.6 147.1L565.7 144.2L568.4 144.1L572.2 141.8L574.9 140.3L579.2 142.2L578.5 145.4L581.0 148.5L583.9 150.8L586.2 153.2L589.2 154.6L592.7 156.3L595.3 158.7L593.8 155.8L595.9 150.9L597.4 146.8L598.3 144.4L597.2 141.3L597.3 138.4L596.6 134.9L596.1 131.7L597.0 128.7L595.1 125.6L596.2 122.8L599.0 122.2L601.6 119.4L603.4 120.0L607.3 116.8L609.6 114.7L613.5 113.0L617.9 113.8L620.5 111.8L623.4 111.7L626.2 113.4L630.9 116.3L633.5 114.8L632.9 109.8L630.5 107.9L629.9 104.8L627.4 101.7L631.3 100.8L634.9 101.9L637.4 98.2L641.5 99.6L644.0 102.2L648.7 101.8L651.2 104.3L655.6 104.7L657.8 102.3L659.1 100.1L661.3 98.5L664.8 94.0L665.7 93.6L667.6 93.1L672.2 91.4L674.8 92.0L678.1 91.5L681.8 91.6L683.7 94.7L686.5 96.8L687.9 98.6L687.6 101.4L686.4 106.2L686.5 109.8L685.9 112.7L689.4 112.0L692.9 109.9L695.9 110.7L697.7 112.5L700.7 114.9L702.1 117.5L704.4 121.0L706.0 122.8L707.8 119.5L710.1 116.7L712.0 112.7L713.3 115.7L714.9 117.8L717.1 122.1L717.9 126.2L719.7 128.5L722.1 130.9L725.7 127.3L728.7 125.3L732.2 124.8L733.2 128.2L736.2 131.1L734.4 132.9L738.3 136.2L738.2 138.9L742.8 136.2L744.3 134.9L744.7 137.1L745.9 143.0L746.4 146.2L748.3 149.0L750.7 147.1L752.0 143.9L756.2 140.2L756.4 138.9L756.2 143.4L755.1 146.8L751.2 148.2L752.0 151.3L752.3 155.0L759.0 153.0L748.4 178.2L735.6 206.7L725.0 228.0L719.0 237.0L722.5 231.0L725.5 241.0L729.9 240.8L742.7 206.7L755.5 178.2L762.0 165.0L766.9 142.6L786.0 104.0L804.7 66.4L793.0 100.0L779.8 138.3L785.5 126.9L782.6 148.3L799.7 128.3L786.0 146.0L766.9 166.8" stroke="#000" stroke-width="6.3"/>
<path class="ln" d="M197.2 498.2L199.7 496.3L202.1 494.4L204.5 492.4L207.3 489.9L209.5 487.9L212.2 486.3L215.2 484.4L217.2 481.9L219.9 480.1L222.5 478.2L225.5 476.1L227.6 474.4L230.0 472.6L232.3 470.0L235.0 467.6L236.8 465.7L239.5 463.9L241.8 462.0L244.2 459.5L246.6 457.6L249.0 455.2L251.4 453.2L254.0 451.1L256.3 448.3L258.3 446.1L260.8 443.7L263.1 441.6L265.3 439.2L267.8 436.7L270.2 434.6L272.6 432.1L274.7 429.4L276.8 427.1L278.8 424.5L281.0 422.2L282.7 419.4L284.7 417.2L286.9 414.5L289.0 412.3L291.1 409.6L293.6 407.2L295.7 404.9L297.6 402.4L299.3 400.2L301.9 397.4L303.7 395.4L306.0 392.7L307.9 390.7L310.4 388.2L312.2 385.8L314.4 383.5L316.3 381.1L318.1 378.8L320.2 376.7L322.2 374.4L324.0 372.1L325.5 369.4L328.1 367.3L330.7 365.1L333.5 363.6L335.9 361.7L338.4 359.7L341.3 358.0L344.2 356.2L347.4 354.9L350.4 353.5L353.3 351.9L356.1 350.5L359.2 349.3L362.0 347.6L365.1 346.1L367.8 344.8L370.4 343.1L372.9 341.7L375.7 340.1L378.3 338.9L381.0 337.2L383.7 336.0L386.4 334.5L388.9 332.9L391.5 331.2L394.3 329.4L396.5 327.6L399.6 325.9L402.1 324.1L404.8 322.3L407.1 320.1L409.6 318.3L413.0 316.7L415.4 314.4L417.1 312.1L419.5 309.5L420.8 307.5L423.1 304.7L426.1 302.7L427.0 300.0L429.4 298.4L430.6 294.2L433.0 292.2L434.9 289.9L435.8 287.0L438.1 284.4L439.3 281.6L440.9 279.3L442.4 275.6L444.1 272.9L446.4 270.6L446.4 269.2L447.7 264.9L449.2 263.0L450.3 260.9L453.3 258.9L455.0 256.0L456.8 251.9L458.3 248.3L459.2 252.9L459.0 257.8L460.1 259.3L459.4 263.3L460.4 266.3L459.0 269.4L458.3 272.1L461.9 267.8L463.8 266.6L467.8 266.4L471.1 266.6L473.0 269.4L475.8 272.4L477.7 275.5L480.3 277.6L482.1 277.0L485.6 277.7L489.4 277.6L492.2 275.5L495.1 273.5L498.6 270.3L501.8 267.7L503.1 265.0L505.9 264.1L509.6 261.1L512.8 262.2L515.1 264.8L517.6 267.8L516.5 271.9L520.0 274.4L520.6 277.6L521.9 275.8L523.9 272.5L526.3 270.1L527.6 266.7L529.7 264.8L533.2 265.0L536.0 268.0L538.9 269.4L542.9 270.1L546.4 271.7L549.9 272.1L552.3 270.9L556.2 268.9L559.0 268.5L561.5 271.3L565.8 271.7L568.2 273.9L569.5 277.4L570.8 281.0L569.4 283.4L571.8 286.8L575.1 290.2L576.4 290.9L579.2 294.1L582.6 294.5L585.8 294.9L589.5 296.7L592.6 296.4L595.6 297.8L591.3 298.5L589.3 299.6L586.2 303.2L582.1 303.5L579.2 305.1L577.6 307.9L574.4 309.4L572.7 311.5L570.8 314.1L568.2 316.1L565.9 313.8L562.8 314.1L559.0 312.4L557.1 310.1L556.0 307.5L553.4 304.9L551.3 301.4L549.9 299.6L546.6 296.8L544.5 295.5L541.8 293.6L538.9 290.4L535.7 288.6L532.1 287.1L529.1 287.1L526.1 284.9L523.4 282.5L522.4 279.4L525.6 279.0L528.5 278.1L531.7 277.1L535.2 275.8L537.0 277.6L541.5 277.8L544.6 279.5L547.6 281.7L549.9 283.1L554.0 283.8L556.5 285.0L561.6 283.9L564.5 284.9L561.2 285.4L556.8 284.6L554.4 285.2L549.9 285.5L553.2 287.9L555.7 287.5L558.8 288.4L560.9 290.4L562.8 295.3L565.3 296.8L568.2 299.6L571.0 301.8L575.0 304.0L573.5 305.5L571.3 310.5L570.5 313.3L568.2 316.1L564.6 315.1L561.8 313.2L559.0 312.4L557.2 311.2L554.9 307.9L553.7 303.9L551.2 302.1L549.9 299.6L546.9 297.5L543.8 294.4L542.3 292.7L538.9 290.4L535.2 289.1L533.6 287.3L528.4 286.9L526.1 284.9L526.1 288.8L522.9 289.8L522.4 294.1L523.6 297.2L523.6 300.4L524.8 303.8L524.2 306.9L526.5 309.4L528.4 311.9L531.6 314.2L534.3 314.8L536.4 317.2L538.8 320.0L542.5 321.6L546.9 323.0L549.0 322.9L553.5 325.2L557.6 325.5L560.8 325.4L563.3 328.0L568.2 327.1L570.6 328.3L573.0 330.7L576.2 331.0L579.2 332.5L582.9 332.5L586.5 332.5L588.6 335.1L589.3 339.4L590.2 343.5L591.5 349.0L590.2 352.7L589.5 357.1L587.3 358.7L584.3 362.3L581.9 364.1L580.0 366.8L577.4 369.2L575.2 372.0L572.8 375.3L570.7 376.7L569.6 379.7L567.4 383.3L565.1 386.2L564.4 389.0L562.1 392.1L560.9 395.0L559.1 399.2L557.3 401.4L555.3 406.0L555.8 409.1L556.0 412.2L557.3 416.1L559.5 417.4L563.3 420.1L566.4 420.3L570.6 419.8L574.0 419.3L577.4 420.1L582.0 422.2L584.0 421.7L587.5 422.5L590.4 421.8L594.7 422.7L597.6 424.1L600.5 424.9L602.5 427.3L606.6 428.0L608.0 429.6L610.6 429.8L613.7 432.2L611.6 434.8L609.7 440.2L607.9 442.4L605.7 444.3L603.1 448.1L601.6 450.3L603.7 453.5L604.5 455.0L605.6 458.4L608.9 460.4L611.7 462.4L612.5 467.2L613.7 470.5L615.9 474.2L618.7 475.4L621.8 478.5L624.9 478.9L627.9 480.9L630.4 481.6L633.8 483.1L637.9 484.6L641.8 485.9L644.2 487.9L646.8 489.5L650.4 490.6L654.0 492.6L655.3 494.2L659.4 497.3L661.0 498.7L663.4 500.0L666.1 502.7L665.5 506.7L667.1 508.7L662.8 510.2L660.6 511.2L656.0 512.8L653.8 515.9L651.7 519.0L649.7 522.5L647.9 524.9L646.2 527.5L643.1 531.2L641.9 534.9L643.5 537.5L645.9 541.0L649.5 540.6L651.7 541.1L653.8 541.2L658.0 541.0L661.9 541.3L664.5 539.7L668.7 539.3L672.1 539.0L673.7 541.5L677.0 543.2L679.0 545.6L682.2 547.0L682.8 549.8L684.3 554.1L684.0 557.3L686.4 560.0L686.2 563.1L685.0 566.7L686.0 568.9L686.0 572.6L684.5 576.6L684.2 579.2L683.5 583.3L682.6 586.2L681.8 589.4L681.4 592.9L680.2 596.0L679.0 599.7L678.0 603.1L677.4 605.5L675.5 608.7L675.7 612.0L674.4 615.0L672.6 617.8L671.7 621.4L669.9 624.9L670.5 628.0L670.4 630.8L670.3 633.8L668.9 637.3L667.9 642.1L667.5 644.7L665.4 647.8L665.1 650.8L664.0 654.2L662.9 657.0L662.0 660.2L660.1 662.0L659.0 665.8L658.4 668.8L657.9 671.8L655.1 676.0L654.3 677.6L654.5 680.8L653.5 684.3L651.9 688.2L650.6 691.2L648.7 694.1L648.7 697.1L648.5 700.9L647.2 702.8L647.9 706.2L646.2 707.7L644.2 711.2L644.2 714.5L643.2 718.2L644.2 720.5L641.4 725.0L641.0 728.7L640.0 731.4L638.8 733.8L639.2 737.5L636.3 740.0L636.0 742.3L635.5 746.2L633.8 748.6L633.0 752.0L633.3 754.9L631.1 756.8L630.2 761.4L631.1 763.3L628.2 767.0L628.8 770.0L625.8 772.8L622.5 774.7L620.0 777.0L616.5 778.2L615.0 780.7L613.0 783.0L612.5 786.7L611.5 789.0L611.9 787.0L614.0 783.0L616.0 780.2L619.7 776.5L620.6 775.0L624.0 773.0L626.0 771.0L628.6 767.1L630.4 764.7L632.9 762.1L634.6 759.0L636.0 757.0L639.5 754.0L642.1 752.6L643.6 748.8L644.8 746.5L645.7 744.3L648.2 741.4L649.4 738.9L650.6 735.7L652.8 733.6L653.9 731.4L654.8 728.0L656.0 726.2L658.0 722.1L660.5 719.2L661.2 716.6L662.2 712.8L664.0 712.4L665.8 709.5L667.7 705.5L667.8 702.9L670.6 700.2L671.7 697.6L674.4 695.8L676.8 692.5L679.4 691.5L682.3 689.1L683.5 686.0L685.2 684.0L687.5 681.6L688.6 679.2L690.7 676.2L692.9 674.3L694.1 671.7L697.2 670.6L700.2 668.7L702.4 666.9L705.6 670.1L705.0 672.9L704.6 677.5L703.5 680.6L702.8 683.1L701.3 685.9L699.5 688.9L698.3 690.8L698.5 695.1L697.1 697.6L696.5 700.2L695.0 703.7L693.7 705.0L694.2 709.9L692.6 712.1L690.3 715.0L689.9 717.1L688.7 720.8L687.3 724.0L687.5 727.0L685.3 728.8L685.7 732.5L683.8 735.4L681.5 739.6L681.7 741.9L680.2 744.1L678.8 747.1L679.1 750.0L676.9 752.6L675.6 756.8L675.4 758.3L675.4 763.2L674.3 764.4L672.7 769.3L671.7 771.6L670.1 774.2L669.7 776.5L669.0 781.4L668.4 784.7L667.1 786.9L666.0 789.5L664.5 792.5L664.2 795.7L663.3 799.1L662.2 802.6L661.0 806.0" stroke="#fff" stroke-width="9.2"/>
<path class="ln" d="M197.2 498.2L199.7 496.3L202.1 494.4L204.5 492.4L207.3 489.9L209.5 487.9L212.2 486.3L215.2 484.4L217.2 481.9L219.9 480.1L222.5 478.2L225.5 476.1L227.6 474.4L230.0 472.6L232.3 470.0L235.0 467.6L236.8 465.7L239.5 463.9L241.8 462.0L244.2 459.5L246.6 457.6L249.0 455.2L251.4 453.2L254.0 451.1L256.3 448.3L258.3 446.1L260.8 443.7L263.1 441.6L265.3 439.2L267.8 436.7L270.2 434.6L272.6 432.1L274.7 429.4L276.8 427.1L278.8 424.5L281.0 422.2L282.7 419.4L284.7 417.2L286.9 414.5L289.0 412.3L291.1 409.6L293.6 407.2L295.7 404.9L297.6 402.4L299.3 400.2L301.9 397.4L303.7 395.4L306.0 392.7L307.9 390.7L310.4 388.2L312.2 385.8L314.4 383.5L316.3 381.1L318.1 378.8L320.2 376.7L322.2 374.4L324.0 372.1L325.5 369.4L328.1 367.3L330.7 365.1L333.5 363.6L335.9 361.7L338.4 359.7L341.3 358.0L344.2 356.2L347.4 354.9L350.4 353.5L353.3 351.9L356.1 350.5L359.2 349.3L362.0 347.6L365.1 346.1L367.8 344.8L370.4 343.1L372.9 341.7L375.7 340.1L378.3 338.9L381.0 337.2L383.7 336.0L386.4 334.5L388.9 332.9L391.5 331.2L394.3 329.4L396.5 327.6L399.6 325.9L402.1 324.1L404.8 322.3L407.1 320.1L409.6 318.3L413.0 316.7L415.4 314.4L417.1 312.1L419.5 309.5L420.8 307.5L423.1 304.7L426.1 302.7L427.0 300.0L429.4 298.4L430.6 294.2L433.0 292.2L434.9 289.9L435.8 287.0L438.1 284.4L439.3 281.6L440.9 279.3L442.4 275.6L444.1 272.9L446.4 270.6L446.4 269.2L447.7 264.9L449.2 263.0L450.3 260.9L453.3 258.9L455.0 256.0L456.8 251.9L458.3 248.3L459.2 252.9L459.0 257.8L460.1 259.3L459.4 263.3L460.4 266.3L459.0 269.4L458.3 272.1L461.9 267.8L463.8 266.6L467.8 266.4L471.1 266.6L473.0 269.4L475.8 272.4L477.7 275.5L480.3 277.6L482.1 277.0L485.6 277.7L489.4 277.6L492.2 275.5L495.1 273.5L498.6 270.3L501.8 267.7L503.1 265.0L505.9 264.1L509.6 261.1L512.8 262.2L515.1 264.8L517.6 267.8L516.5 271.9L520.0 274.4L520.6 277.6L521.9 275.8L523.9 272.5L526.3 270.1L527.6 266.7L529.7 264.8L533.2 265.0L536.0 268.0L538.9 269.4L542.9 270.1L546.4 271.7L549.9 272.1L552.3 270.9L556.2 268.9L559.0 268.5L561.5 271.3L565.8 271.7L568.2 273.9L569.5 277.4L570.8 281.0L569.4 283.4L571.8 286.8L575.1 290.2L576.4 290.9L579.2 294.1L582.6 294.5L585.8 294.9L589.5 296.7L592.6 296.4L595.6 297.8L591.3 298.5L589.3 299.6L586.2 303.2L582.1 303.5L579.2 305.1L577.6 307.9L574.4 309.4L572.7 311.5L570.8 314.1L568.2 316.1L565.9 313.8L562.8 314.1L559.0 312.4L557.1 310.1L556.0 307.5L553.4 304.9L551.3 301.4L549.9 299.6L546.6 296.8L544.5 295.5L541.8 293.6L538.9 290.4L535.7 288.6L532.1 287.1L529.1 287.1L526.1 284.9L523.4 282.5L522.4 279.4L525.6 279.0L528.5 278.1L531.7 277.1L535.2 275.8L537.0 277.6L541.5 277.8L544.6 279.5L547.6 281.7L549.9 283.1L554.0 283.8L556.5 285.0L561.6 283.9L564.5 284.9L561.2 285.4L556.8 284.6L554.4 285.2L549.9 285.5L553.2 287.9L555.7 287.5L558.8 288.4L560.9 290.4L562.8 295.3L565.3 296.8L568.2 299.6L571.0 301.8L575.0 304.0L573.5 305.5L571.3 310.5L570.5 313.3L568.2 316.1L564.6 315.1L561.8 313.2L559.0 312.4L557.2 311.2L554.9 307.9L553.7 303.9L551.2 302.1L549.9 299.6L546.9 297.5L543.8 294.4L542.3 292.7L538.9 290.4L535.2 289.1L533.6 287.3L528.4 286.9L526.1 284.9L526.1 288.8L522.9 289.8L522.4 294.1L523.6 297.2L523.6 300.4L524.8 303.8L524.2 306.9L526.5 309.4L528.4 311.9L531.6 314.2L534.3 314.8L536.4 317.2L538.8 320.0L542.5 321.6L546.9 323.0L549.0 322.9L553.5 325.2L557.6 325.5L560.8 325.4L563.3 328.0L568.2 327.1L570.6 328.3L573.0 330.7L576.2 331.0L579.2 332.5L582.9 332.5L586.5 332.5L588.6 335.1L589.3 339.4L590.2 343.5L591.5 349.0L590.2 352.7L589.5 357.1L587.3 358.7L584.3 362.3L581.9 364.1L580.0 366.8L577.4 369.2L575.2 372.0L572.8 375.3L570.7 376.7L569.6 379.7L567.4 383.3L565.1 386.2L564.4 389.0L562.1 392.1L560.9 395.0L559.1 399.2L557.3 401.4L555.3 406.0L555.8 409.1L556.0 412.2L557.3 416.1L559.5 417.4L563.3 420.1L566.4 420.3L570.6 419.8L574.0 419.3L577.4 420.1L582.0 422.2L584.0 421.7L587.5 422.5L590.4 421.8L594.7 422.7L597.6 424.1L600.5 424.9L602.5 427.3L606.6 428.0L608.0 429.6L610.6 429.8L613.7 432.2L611.6 434.8L609.7 440.2L607.9 442.4L605.7 444.3L603.1 448.1L601.6 450.3L603.7 453.5L604.5 455.0L605.6 458.4L608.9 460.4L611.7 462.4L612.5 467.2L613.7 470.5L615.9 474.2L618.7 475.4L621.8 478.5L624.9 478.9L627.9 480.9L630.4 481.6L633.8 483.1L637.9 484.6L641.8 485.9L644.2 487.9L646.8 489.5L650.4 490.6L654.0 492.6L655.3 494.2L659.4 497.3L661.0 498.7L663.4 500.0L666.1 502.7L665.5 506.7L667.1 508.7L662.8 510.2L660.6 511.2L656.0 512.8L653.8 515.9L651.7 519.0L649.7 522.5L647.9 524.9L646.2 527.5L643.1 531.2L641.9 534.9L643.5 537.5L645.9 541.0L649.5 540.6L651.7 541.1L653.8 541.2L658.0 541.0L661.9 541.3L664.5 539.7L668.7 539.3L672.1 539.0L673.7 541.5L677.0 543.2L679.0 545.6L682.2 547.0L682.8 549.8L684.3 554.1L684.0 557.3L686.4 560.0L686.2 563.1L685.0 566.7L686.0 568.9L686.0 572.6L684.5 576.6L684.2 579.2L683.5 583.3L682.6 586.2L681.8 589.4L681.4 592.9L680.2 596.0L679.0 599.7L678.0 603.1L677.4 605.5L675.5 608.7L675.7 612.0L674.4 615.0L672.6 617.8L671.7 621.4L669.9 624.9L670.5 628.0L670.4 630.8L670.3 633.8L668.9 637.3L667.9 642.1L667.5 644.7L665.4 647.8L665.1 650.8L664.0 654.2L662.9 657.0L662.0 660.2L660.1 662.0L659.0 665.8L658.4 668.8L657.9 671.8L655.1 676.0L654.3 677.6L654.5 680.8L653.5 684.3L651.9 688.2L650.6 691.2L648.7 694.1L648.7 697.1L648.5 700.9L647.2 702.8L647.9 706.2L646.2 707.7L644.2 711.2L644.2 714.5L643.2 718.2L644.2 720.5L641.4 725.0L641.0 728.7L640.0 731.4L638.8 733.8L639.2 737.5L636.3 740.0L636.0 742.3L635.5 746.2L633.8 748.6L633.0 752.0L633.3 754.9L631.1 756.8L630.2 761.4L631.1 763.3L628.2 767.0L628.8 770.0L625.8 772.8L622.5 774.7L620.0 777.0L616.5 778.2L615.0 780.7L613.0 783.0L612.5 786.7L611.5 789.0L611.9 787.0L614.0 783.0L616.0 780.2L619.7 776.5L620.6 775.0L624.0 773.0L626.0 771.0L628.6 767.1L630.4 764.7L632.9 762.1L634.6 759.0L636.0 757.0L639.5 754.0L642.1 752.6L643.6 748.8L644.8 746.5L645.7 744.3L648.2 741.4L649.4 738.9L650.6 735.7L652.8 733.6L653.9 731.4L654.8 728.0L656.0 726.2L658.0 722.1L660.5 719.2L661.2 716.6L662.2 712.8L664.0 712.4L665.8 709.5L667.7 705.5L667.8 702.9L670.6 700.2L671.7 697.6L674.4 695.8L676.8 692.5L679.4 691.5L682.3 689.1L683.5 686.0L685.2 684.0L687.5 681.6L688.6 679.2L690.7 676.2L692.9 674.3L694.1 671.7L697.2 670.6L700.2 668.7L702.4 666.9L705.6 670.1L705.0 672.9L704.6 677.5L703.5 680.6L702.8 683.1L701.3 685.9L699.5 688.9L698.3 690.8L698.5 695.1L697.1 697.6L696.5 700.2L695.0 703.7L693.7 705.0L694.2 709.9L692.6 712.1L690.3 715.0L689.9 717.1L688.7 720.8L687.3 724.0L687.5 727.0L685.3 728.8L685.7 732.5L683.8 735.4L681.5 739.6L681.7 741.9L680.2 744.1L678.8 747.1L679.1 750.0L676.9 752.6L675.6 756.8L675.4 758.3L675.4 763.2L674.3 764.4L672.7 769.3L671.7 771.6L670.1 774.2L669.7 776.5L669.0 781.4L668.4 784.7L667.1 786.9L666.0 789.5L664.5 792.5L664.2 795.7L663.3 799.1L662.2 802.6L661.0 806.0" stroke="#ff0000" stroke-width="6.3"/>
<polygon points="427.2,279.0 443.6,311.8 410.8,311.8" fill="#ff0000" stroke="#000" stroke-width="4.8" stroke-linejoin="round"/>
<polygon points="629.5,779.4 645.9,746.6 613.1,746.6" fill="#ff0000" stroke="#000" stroke-width="4.8" stroke-linejoin="round"/>
<polygon points="429.9,243.5 434.5,257.8 449.6,257.8 437.4,266.6 442.1,280.9 429.9,272.1 417.7,280.9 422.4,266.6 410.2,257.8 425.3,257.8" fill="#fff" stroke="#000" stroke-width="5.2" stroke-linejoin="round"/>
<polygon points="759.0,151.1 766.9,158.9 774.8,151.1 782.6,158.9 774.8,166.8 782.6,174.7 774.8,182.6 766.9,174.7 759.0,182.6 751.1,174.7 759.0,166.8 751.1,158.9" fill="#fff" stroke="#000" stroke-width="5.0" stroke-linejoin="round"/>
</g>
<path class="tk" d="M171.40 801.5v10.0M171.4 801.50h-10.0M270.29 801.5v10.0M171.4 702.61h-10.0M369.18 801.5v10.0M171.4 603.73h-10.0M468.06 801.5v10.0M171.4 504.84h-10.0M566.95 801.5v10.0M171.4 405.95h-10.0M665.84 801.5v10.0M171.4 307.06h-10.0M764.73 801.5v10.0M171.4 208.18h-10.0M863.61 801.5v10.0M171.4 109.29h-10.0M962.50 801.5v10.0M171.4 10.40h-10.0"/>
<rect class="sp" x="171.4" y="10.4" width="791.1" height="791.1"/>
<text x="171.40" y="848.7" text-anchor="middle">−1.0</text>
<text x="144.6" y="811.9" text-anchor="end">−1.5</text>
<text x="270.29" y="848.7" text-anchor="middle">−0.5</text>
<text x="144.6" y="713.0" text-anchor="end">−1.0</text>
<text x="369.18" y="848.7" text-anchor="middle">0.0</text>
<text x="144.6" y="614.1" text-anchor="end">−0.5</text>
<text x="468.06" y="848.7" text-anchor="middle">0.5</text>
<text x="144.6" y="515.2" text-anchor="end">0.0</text>
<text x="566.95" y="848.7" text-anchor="middle">1.0</text>
<text x="144.6" y="416.3" text-anchor="end">0.5</text>
<text x="665.84" y="848.7" text-anchor="middle">1.5</text>
<text x="144.6" y="317.5" text-anchor="end">1.0</text>
<text x="764.73" y="848.7" text-anchor="middle">2.0</text>
<text x="144.6" y="218.6" text-anchor="end">1.5</text>
<text x="863.61" y="848.7" text-anchor="middle">2.5</text>
<text x="144.6" y="119.7" text-anchor="end">2.0</text>
<text x="962.50" y="848.7" text-anchor="middle">3.0</text>
<text x="144.6" y="20.8" text-anchor="end">2.5</text>
<g>
<rect x="183.5" y="23.5" width="391.5" height="136" rx="5.5" ry="5.5" fill="#fff" fill-opacity="0.8" stroke="#c4c4c4" stroke-opacity="0.85" stroke-width="2.6"/>
<path d="M194.2 47.2H255.6" stroke="#0000ff" stroke-width="5.6" fill="none"/>
<path d="M194.2 89.3H255.6" stroke="#000" stroke-width="5.6" fill="none"/>
<path d="M194.2 131.2H255.6" stroke="#ff0000" stroke-width="5.6" fill="none"/>
<text x="277.2" y="57">107389 (Marginal)</text>
<text x="277.2" y="99.2">107390 (Reference)</text>
<text x="277.2" y="141">107392 (Controlled)</text>
</g>

<clipPath id="c1"><rect x="171.4" y="882.9" width="791.1" height="233.10000000000002"/></clipPath>
<g clip-path="url(#c1)">
<rect x="287.1" y="877.9" width="400.7" height="243.10000000000002" fill="#ffff80"/>
<path d="M289.6 882.9V1116.0M685.1 882.9V1116.0" stroke="#000" stroke-width="2.2" fill="none"/>
<path class="ln" d="M171.4 1070.0L175.4 1075.5L182.5 1081.0L190.0 1076.5L206.7 1062.2L227.6 1048.3L248.4 1036.5L269.3 1025.8L290.1 1018.8L306.8 1012.6L319.3 1011.8L331.8 1009.3L344.3 1005.5L356.9 1007.6L373.5 1000.1L398.6 991.8L423.6 985.5L448.6 978.4L473.6 970.9L498.7 966.8L523.7 959.7L548.7 953.0L565.4 952.2L575.0 949.2L590.0 946.7L619.2 940.5L648.4 939.6L665.1 936.3L686.0 935.5L731.8 929.2L773.5 925.3L815.3 923.8L823.0 923.6L857.0 924.2L890.3 924.5L919.5 926.5L962.5 930.0" stroke="#0000ff" stroke-width="4.8" style="stroke-linecap:butt"/>
<path class="ln" d="M171.4 1068.0L175.4 1075.0L182.5 1081.0L190.0 1077.0L206.7 1064.0L227.6 1050.8L248.4 1039.5L269.3 1029.0L290.1 1022.5L302.6 1021.0L319.0 1017.0L331.8 1019.8L348.5 1015.0L365.0 1011.0L381.0 1008.5L398.6 1002.0L415.3 997.5L448.6 991.5L473.6 985.0L498.7 979.5L515.0 976.3L540.0 970.5L550.0 967.8L565.0 967.6L590.0 965.9L606.7 964.7L614.2 962.6L617.1 952.2L621.3 958.4L627.6 968.8L633.8 975.1L638.0 979.3L642.2 993.9L648.4 998.0L653.4 1016.8L657.6 1021.0L660.9 1039.8L665.1 1041.8L667.2 1064.8L671.4 1069.0L674.3 1091.9L677.6 1114.8L678.5 1125.0" stroke="#000" stroke-width="4.8" style="stroke-linecap:butt"/>
<path class="ln" d="M171.4 1062.0L172.5 1064.8L175.4 1073.1L182.5 1079.4L190.0 1075.2L206.7 1062.7L227.6 1049.3L248.4 1037.7L269.3 1027.2L290.1 1021.0L306.8 1018.1L321.4 1013.9L331.8 1018.1L348.5 1014.7L361.0 1010.6L369.4 1009.3L379.8 1012.6L398.6 1006.4L423.6 999.3L448.6 992.6L473.6 985.5L498.7 978.4L523.7 971.8L548.7 965.9L565.4 960.5L575.0 958.4L590.0 955.1L617.1 949.2L648.4 943.8L686.0 937.6L731.8 930.5L773.5 926.3L815.3 925.0L857.0 925.0L890.3 925.5L919.5 928.0L962.5 931.3" stroke="#ff0000" stroke-width="4.8" style="stroke-linecap:butt"/>
</g>
<path class="tk" d="M171.40 1116.0v10.0M303.25 1116.0v10.0M435.10 1116.0v10.0M566.95 1116.0v10.0M698.80 1116.0v10.0M830.65 1116.0v10.0M962.50 1116.0v10.0M171.4 1116.00h-10.0M171.4 1057.72h-10.0M171.4 999.45h-10.0M171.4 941.17h-10.0M171.4 882.90h-10.0"/>
<rect class="sp" x="171.4" y="882.9" width="791.1" height="233.10000000000002"/>
<text x="144.6" y="1126.4" text-anchor="end">10.0</text>
<text x="144.6" y="1068.1" text-anchor="end">12.5</text>
<text x="144.6" y="1009.9" text-anchor="end">15.0</text>
<text x="144.6" y="951.6" text-anchor="end">17.5</text>
<text x="144.6" y="893.3" text-anchor="end">20.0</text>
<clipPath id="c2"><rect x="171.4" y="1179.7" width="791.1" height="233.0999999999999"/></clipPath>
<g clip-path="url(#c2)">
<rect x="287.1" y="1174.7" width="400.7" height="243.0999999999999" fill="#ffff80"/>
<path d="M289.6 1179.7V1412.8M685.1 1179.7V1412.8" stroke="#000" stroke-width="2.2" fill="none"/>
<path class="ln" d="M171.4 1402.0L172.5 1403.5L177.5 1406.4L185.9 1397.2L198.4 1382.6L206.7 1378.5L219.2 1374.3L240.1 1372.5L260.9 1370.8L277.6 1370.5L290.1 1367.5L306.8 1366.0L323.5 1363.0L331.8 1363.9L348.5 1357.6L365.2 1349.3L381.9 1346.3L398.6 1347.2L423.6 1346.3L440.3 1338.8L448.6 1338.0L465.3 1340.9L490.3 1338.8L507.0 1332.6L523.7 1328.4L532.0 1330.5L552.9 1321.3L565.0 1320.1L577.5 1321.3L590.0 1315.9L598.4 1313.8L608.8 1303.4L615.0 1304.6L621.3 1301.3L631.7 1309.6L640.1 1306.3L648.4 1301.3L658.8 1293.8L667.2 1292.1L673.4 1295.0L683.9 1296.3L690.1 1295.0L704.7 1301.3L717.2 1292.1L723.5 1295.0L729.7 1290.0L736.0 1290.9L748.5 1282.5L754.8 1282.5L761.0 1289.6L767.3 1286.7L777.7 1293.0L788.1 1284.6L794.4 1282.5L800.7 1278.4L811.1 1275.4L821.5 1280.4L831.9 1275.4L840.3 1276.3L852.8 1273.4L863.2 1274.2L873.6 1265.8L879.9 1258.8L886.2 1265.8L892.4 1263.8L902.8 1271.3L911.2 1267.9L917.4 1270.0L921.6 1262.9L927.9 1263.8L934.1 1260.4L942.5 1265.8L950.8 1262.9L957.1 1263.8L962.5 1254.0" stroke="#0000ff" stroke-width="4.8" style="stroke-linecap:butt"/>
<path class="ln" d="M171.4 1403.0L172.5 1404.5L177.0 1407.5L185.9 1399.5L198.4 1385.5L206.7 1380.5L219.2 1376.0L240.1 1374.5L260.9 1372.5L277.6 1372.0L290.1 1369.0L302.6 1370.1L323.5 1364.5L331.8 1366.0L348.5 1357.6L365.2 1357.6L381.9 1353.4L392.3 1347.2L415.3 1350.5L432.0 1348.0L457.0 1342.2L477.8 1338.8L498.7 1338.8L515.3 1334.7L525.8 1326.3L536.2 1332.6L557.1 1326.3L565.0 1324.2L581.7 1320.1L594.2 1320.1L602.5 1311.7L610.9 1309.6L614.2 1305.5L617.1 1347.2L620.5 1311.7L623.4 1322.2L626.7 1388.9L629.6 1347.2L633.8 1397.2L636.7 1368.0L640.1 1351.3L643.4 1393.1L646.7 1355.5L650.5 1359.7L654.7 1395.1L658.8 1384.7L661.8 1338.8L663.8 1299.2L666.4 1355.5L669.3 1345.1L672.6 1368.0L676.8 1372.2L681.8 1384.7L685.1 1395.1L688.9 1372.2L693.0 1359.7L696.4 1380.5L699.3 1405.6L702.6 1410.6L708.9 1411.8L731.8 1412.4L962.5 1412.6" stroke="#000" stroke-width="4.8" style="stroke-linecap:butt"/>
<path class="ln" d="M171.4 1404.0L172.5 1405.6L176.7 1408.9L185.9 1401.4L198.4 1388.9L206.7 1382.6L219.2 1377.2L240.1 1374.3L260.9 1372.2L277.6 1372.2L290.1 1368.9L306.8 1368.0L323.5 1363.9L331.8 1364.7L344.3 1353.4L361.0 1349.3L381.9 1347.2L392.3 1342.2L415.3 1343.8L436.1 1344.3L457.0 1340.9L482.0 1343.0L498.7 1340.9L511.2 1336.8L532.0 1337.6L552.9 1335.5L565.0 1332.6L581.7 1324.2L602.5 1327.2L619.2 1324.2L635.9 1318.8L652.6 1317.1L665.1 1313.0L675.5 1313.8L686.0 1309.6L702.6 1307.6L713.1 1304.6L727.7 1308.8L740.2 1310.5L748.5 1305.5L761.0 1304.6L773.5 1303.4L781.9 1300.5L794.4 1299.2L806.9 1293.0L819.4 1292.1L831.9 1290.9L848.6 1288.8L854.9 1283.8L861.1 1286.7L873.6 1285.4L886.2 1284.6L898.7 1282.5L913.3 1278.4L919.5 1268.8L925.8 1274.2L940.4 1275.4L952.9 1273.4L962.5 1271.0" stroke="#ff0000" stroke-width="4.8" style="stroke-linecap:butt"/>
</g>
<path class="tk" d="M171.40 1412.8v10.0M303.25 1412.8v10.0M435.10 1412.8v10.0M566.95 1412.8v10.0M698.80 1412.8v10.0M830.65 1412.8v10.0M962.50 1412.8v10.0M171.4 1412.80h-10.0M171.4 1354.53h-10.0M171.4 1296.25h-10.0M171.4 1237.97h-10.0M171.4 1179.70h-10.0"/>
<rect class="sp" x="171.4" y="1179.7" width="791.1" height="233.0999999999999"/>
<text x="144.6" y="1423.2" text-anchor="end">0</text>
<text x="144.6" y="1364.9" text-anchor="end">50</text>
<text x="144.6" y="1306.7" text-anchor="end">100</text>
<text x="144.6" y="1248.4" text-anchor="end">150</text>
<text x="144.6" y="1190.1" text-anchor="end">200</text>
<clipPath id="c3"><rect x="171.4" y="1476.4" width="791.1" height="233.0999999999999"/></clipPath>
<g clip-path="url(#c3)">
<rect x="287.1" y="1471.4" width="400.7" height="243.0999999999999" fill="#ffff80"/>
<path d="M289.6 1476.4V1709.5M685.1 1476.4V1709.5" stroke="#000" stroke-width="2.2" fill="none"/>
<path d="M171.4 1543.2H962.5M171.4 1599.5H962.5" stroke="#000" stroke-width="4.7" stroke-dasharray="4.7 7.8" fill="none"/>
<path class="ln" d="M172.6 1496.0L173.5 1494.0L173.6 1500.1L173.7 1503.8L173.8 1509.0L173.9 1513.8L174.0 1520.0L174.1 1523.2L174.2 1530.7L174.3 1534.3L174.4 1540.1L174.5 1545.0L174.9 1539.9L175.3 1535.9L175.8 1528.8L176.2 1525.0L177.0 1529.8L177.7 1534.8L178.5 1540.0L181.0 1534.0L182.5 1540.2L184.0 1545.0L187.0 1548.3L190.0 1553.0L194.2 1557.0L198.3 1560.7L202.5 1565.4L206.7 1569.5L210.9 1574.1L215.1 1577.4L219.2 1583.1L223.4 1587.2L227.6 1591.0L231.8 1594.8L235.9 1598.6L240.1 1601.2L244.2 1605.1L248.4 1608.7L252.6 1611.2L256.8 1614.7L260.9 1618.2L265.1 1620.5L269.3 1624.0L274.9 1626.3L280.4 1628.7L286.0 1631.7L291.2 1632.7L296.4 1634.4L301.6 1636.3L306.8 1637.9L312.4 1640.7L317.9 1645.0L323.5 1648.3L329.1 1650.7L334.6 1651.5L340.2 1652.5L346.4 1655.5L352.7 1658.8L358.9 1661.0L365.2 1664.2L370.8 1664.3L376.3 1666.3L381.9 1665.9L387.5 1665.9L393.0 1665.5L398.6 1665.9L404.2 1665.3L409.7 1665.8L415.3 1663.8L420.5 1663.7L425.7 1663.8L430.9 1663.4L436.1 1663.0L441.3 1662.0L446.6 1660.8L451.8 1660.5L457.0 1660.0L462.2 1658.8L467.4 1658.3L472.6 1657.4L477.8 1655.9L483.0 1655.3L488.2 1653.8L493.5 1653.0L498.7 1651.3L503.9 1649.6L509.1 1649.6L514.3 1647.9L519.5 1646.3L525.8 1646.7L532.0 1647.5L538.2 1645.7L544.5 1643.3L550.1 1642.6L555.6 1642.6L561.2 1641.3L568.1 1641.0L575.0 1638.8L577.5 1637.1L583.8 1636.3L590.0 1632.9L595.6 1632.1L601.1 1632.0L606.7 1632.9L611.9 1632.1L617.2 1631.9L622.4 1631.9L627.6 1630.8L632.8 1629.6L638.0 1626.9L643.2 1626.6L648.4 1625.4L654.0 1624.5L659.5 1622.7L665.1 1621.2L670.3 1620.3L675.5 1618.4L680.8 1617.0L686.0 1615.8L691.2 1614.5L696.4 1613.1L701.6 1611.6L706.8 1610.0L711.8 1608.6L716.8 1606.6L721.8 1605.7L726.8 1604.1L731.8 1602.5L737.0 1601.6L742.2 1600.1L747.5 1597.9L752.7 1596.2L757.9 1594.4L763.1 1592.7L768.3 1591.8L773.5 1590.0L778.5 1588.6L783.5 1587.0L788.6 1585.8L793.6 1583.9L798.6 1582.9L803.6 1582.2L808.6 1580.4L813.6 1580.3L818.6 1578.7L823.6 1577.4L828.6 1576.3L833.6 1573.7L838.6 1573.0L843.6 1571.8L848.6 1569.9L853.6 1568.2L858.6 1567.4L863.6 1566.4L868.6 1564.4L873.6 1564.1L878.6 1562.8L883.6 1561.6L888.7 1559.1L893.7 1558.3L898.7 1556.6L903.9 1554.2L909.1 1553.4L914.3 1550.9L919.5 1550.3L924.7 1549.2L930.0 1547.0L935.2 1545.0L940.4 1543.2L945.9 1540.8L951.5 1540.1L957.0 1538.6L962.5 1535.5" stroke="#0000ff" stroke-width="4.8" style="stroke-linecap:butt"/>
<path class="ln" d="M172.6 1500.0L173.5 1498.0L173.6 1502.9L173.7 1508.4L173.8 1511.9L173.9 1520.1L174.0 1522.6L174.1 1528.5L174.2 1534.8L174.3 1538.6L174.4 1544.0L174.5 1550.0L174.9 1543.8L175.3 1539.4L175.8 1535.3L176.2 1528.0L177.0 1533.0L177.7 1537.1L178.5 1543.0L184.0 1547.0L187.0 1551.7L190.0 1555.5L194.2 1559.0L198.3 1563.5L202.5 1568.4L206.7 1571.5L210.9 1575.2L215.1 1580.1L219.2 1583.7L223.4 1588.6L227.6 1593.0L231.8 1596.8L235.9 1599.4L240.1 1603.5L244.2 1607.2L248.4 1611.0L252.6 1613.9L256.8 1616.8L260.9 1620.1L265.1 1624.5L269.3 1628.0L274.9 1631.1L280.4 1636.4L286.0 1637.9L291.5 1638.8L297.1 1643.6L302.6 1646.3L306.8 1649.4L310.9 1652.9L315.1 1654.6L321.4 1652.5L326.6 1658.1L331.8 1662.9L336.0 1665.0L340.1 1668.5L344.3 1671.3L349.9 1672.7L355.4 1673.0L361.0 1674.2L366.2 1674.4L371.5 1673.4L374.6 1676.1L377.7 1681.7L383.9 1685.2L390.2 1685.9L395.8 1687.1L401.3 1685.6L406.9 1685.9L412.5 1687.1L418.0 1687.3L423.6 1688.0L429.2 1687.7L434.7 1688.9L440.3 1689.2L446.6 1692.5L452.8 1694.2L459.1 1692.8L465.3 1692.1L470.5 1693.9L475.7 1696.3L480.6 1694.8L485.4 1693.8L490.3 1692.1L495.9 1692.5L501.4 1690.3L507.0 1690.1L512.6 1690.9L518.1 1691.1L523.7 1691.3L530.0 1690.9L536.2 1693.4L542.5 1688.0L548.7 1693.4L555.0 1691.0L561.2 1689.2L565.0 1692.1L573.3 1693.4L581.7 1688.0L585.9 1691.0L590.0 1694.2L598.4 1689.2L602.5 1694.8L606.7 1700.5L611.7 1704.6L615.0 1696.3L615.3 1691.1L615.7 1683.8L616.0 1680.1L616.4 1674.1L616.7 1669.2L616.9 1673.1L617.1 1679.8L617.3 1685.1L617.5 1689.0L617.6 1695.3L617.8 1699.4L618.0 1704.9L618.2 1709.0L618.4 1715.0" stroke="#000" stroke-width="4.8" style="stroke-linecap:butt"/>
<path class="ln" d="M172.6 1500.0L173.3 1496.1L173.4 1502.2L173.5 1506.4L173.5 1511.3L173.6 1515.1L173.7 1521.1L173.8 1526.1L173.8 1531.3L173.9 1536.1L174.0 1541.4L174.0 1546.2L174.1 1550.8L174.2 1556.6L174.5 1551.3L174.8 1545.4L175.2 1540.1L175.5 1533.3L175.8 1527.4L176.6 1532.7L177.5 1538.2L178.3 1544.1L181.0 1538.0L183.8 1546.2L186.9 1549.4L190.0 1554.5L194.2 1558.7L198.3 1561.1L202.5 1564.7L206.7 1569.1L210.9 1573.2L215.1 1578.4L219.2 1581.8L223.4 1585.2L227.6 1590.0L231.8 1593.3L235.9 1597.9L240.1 1601.1L244.2 1604.5L248.4 1608.7L252.6 1611.9L256.8 1615.8L260.9 1619.9L265.1 1621.3L269.3 1625.4L274.9 1628.2L280.4 1631.3L286.0 1635.0L292.2 1636.0L298.5 1640.0L306.8 1639.2L312.0 1635.9L317.2 1633.7L325.6 1630.8L330.8 1632.3L336.0 1635.0L341.6 1635.0L347.1 1633.5L352.7 1632.9L358.3 1631.2L363.8 1631.9L369.4 1630.8L375.6 1627.5L381.9 1633.7L390.2 1635.0L395.2 1633.9L400.2 1632.3L405.3 1632.1L410.3 1631.3L415.3 1630.8L420.5 1629.5L425.7 1629.2L430.9 1627.0L436.1 1627.5L441.3 1626.3L446.6 1626.0L451.8 1624.9L457.0 1623.3L462.2 1622.4L467.4 1620.9L472.6 1619.5L477.8 1617.1L483.0 1614.9L488.2 1614.5L493.5 1611.3L498.7 1610.8L503.9 1609.2L509.1 1607.2L514.3 1607.7L519.5 1605.8L524.7 1604.9L530.0 1602.3L535.2 1601.8L540.4 1599.1L545.6 1596.9L550.8 1595.6L556.0 1593.9L561.2 1592.0L568.1 1589.9L575.0 1589.1L580.0 1587.6L585.0 1586.7L590.0 1583.7L595.0 1581.4L600.0 1580.9L605.0 1578.6L610.0 1578.1L615.0 1575.4L620.0 1574.0L625.0 1572.4L630.1 1570.7L635.1 1568.8L640.1 1567.0L645.1 1564.5L650.1 1564.5L655.1 1561.2L660.1 1560.5L665.1 1558.7L670.3 1557.5L675.5 1555.0L680.8 1554.1L686.0 1552.4L691.5 1551.7L697.1 1549.6L702.6 1548.2L707.9 1549.4L713.1 1551.6L719.4 1553.4L725.6 1558.7L730.5 1560.5L735.3 1563.1L740.2 1565.8L746.5 1565.0L752.7 1564.9L757.9 1563.3L763.1 1563.1L768.3 1561.5L773.5 1560.8L778.5 1559.6L783.5 1559.0L788.6 1557.0L793.6 1556.2L798.6 1555.3L803.6 1555.4L808.6 1553.5L813.6 1551.0L818.6 1550.6L823.6 1549.5L828.6 1548.6L833.6 1547.7L838.6 1545.8L843.6 1544.1L848.6 1543.2L853.6 1541.7L858.6 1541.4L863.6 1540.1L868.6 1538.6L873.6 1537.8L878.6 1536.6L883.6 1535.4L888.7 1535.0L893.7 1533.1L898.7 1532.4L903.9 1531.6L909.1 1530.8L914.3 1529.5L919.5 1528.2L924.7 1527.2L930.0 1528.0L935.2 1526.2L940.4 1526.1L945.9 1525.6L951.5 1524.1L957.0 1522.7L962.5 1523.0" stroke="#ff0000" stroke-width="4.8" style="stroke-linecap:butt"/>
</g>
<path class="tk" d="M171.40 1709.5v10.0M303.25 1709.5v10.0M435.10 1709.5v10.0M566.95 1709.5v10.0M698.80 1709.5v10.0M830.65 1709.5v10.0M962.50 1709.5v10.0M171.4 1676.20h-10.0M171.4 1609.60h-10.0M171.4 1543.00h-10.0M171.4 1476.40h-10.0"/>
<rect class="sp" x="171.4" y="1476.4" width="791.1" height="233.0999999999999"/>
<text x="144.6" y="1686.6" text-anchor="end">88</text>
<text x="144.6" y="1620.0" text-anchor="end">90</text>
<text x="144.6" y="1553.4" text-anchor="end">92</text>
<text x="144.6" y="1486.8" text-anchor="end">94</text>
<clipPath id="c4"><rect x="171.4" y="1773.3" width="791.1" height="233.29999999999995"/></clipPath>
<g clip-path="url(#c4)">
<rect x="287.1" y="1768.3" width="400.7" height="243.29999999999995" fill="#ffff80"/>
<path d="M289.6 1773.3V2006.6M685.1 1773.3V2006.6" stroke="#000" stroke-width="2.2" fill="none"/>
<path class="ln" d="M171.4 1933.0L171.4 1933.1L171.5 1933.4L172.5 1934.9L174.8 1937.8L178.1 1941.9L181.7 1947.4L185.6 1955.4L189.9 1964.8L194.2 1972.5L198.2 1977.4L202.2 1980.7L206.7 1982.9L212.0 1983.9L217.8 1983.8L223.4 1983.7L228.4 1984.0L233.2 1984.3L238.0 1983.7L242.8 1981.6L247.6 1978.8L252.6 1976.6L258.0 1975.8L263.7 1975.6L269.3 1975.4L275.0 1974.9L280.7 1974.2L286.0 1973.7L290.6 1973.5L294.8 1973.4L298.5 1972.5L301.5 1970.8L304.0 1968.2L306.8 1964.1L310.2 1957.9L313.8 1950.1L317.2 1941.2L320.2 1930.4L323.0 1918.4L325.6 1907.8L327.7 1899.9L329.7 1893.3L331.8 1887.0L334.4 1880.4L337.3 1873.9L340.2 1868.2L343.0 1864.0L345.9 1860.4L348.5 1855.7L350.8 1848.3L352.9 1839.7L354.8 1832.7L356.3 1828.2L357.5 1825.4L358.9 1824.4L360.6 1825.3L362.6 1828.1L364.4 1832.7L366.1 1839.5L367.7 1848.2L369.4 1857.8L371.4 1868.4L373.5 1880.0L375.6 1891.1L377.7 1901.3L379.8 1911.0L381.9 1920.3L384.0 1929.3L386.1 1937.9L388.1 1945.3L390.0 1951.6L391.8 1956.8L393.6 1959.9L395.2 1960.6L396.7 1959.3L398.6 1955.8L401.1 1949.5L404.0 1941.2L406.9 1932.8L409.7 1925.0L412.5 1917.2L415.3 1909.9L418.1 1903.0L421.0 1896.5L423.6 1891.1L425.9 1887.0L427.9 1883.9L429.9 1882.0L431.9 1881.2L433.9 1881.5L436.1 1882.8L438.7 1885.5L441.5 1889.2L444.4 1893.2L447.2 1897.4L450.0 1901.9L452.8 1905.7L455.6 1908.7L458.5 1911.1L461.1 1912.8L463.3 1914.1L465.2 1914.8L467.4 1914.1L470.0 1911.4L472.9 1907.3L475.7 1903.6L478.5 1900.6L481.3 1897.9L484.1 1896.1L486.9 1895.2L489.6 1895.1L492.4 1896.1L495.3 1898.7L498.2 1902.4L500.8 1905.7L503.0 1908.7L504.9 1911.3L507.0 1912.0L509.6 1909.8L512.4 1905.7L515.3 1901.6L518.1 1897.8L520.9 1894.1L523.7 1891.1L526.5 1889.3L529.2 1888.2L532.0 1887.8L534.8 1888.4L537.6 1889.7L540.4 1890.3L543.1 1889.7L545.8 1888.4L548.7 1887.0L552.2 1885.4L555.9 1883.6L559.1 1882.8L561.2 1883.1L562.9 1884.4L565.0 1887.0L568.1 1892.3L571.8 1898.8L575.4 1902.8L578.8 1902.1L582.2 1898.9L585.9 1895.3L590.1 1892.0L594.5 1888.4L598.4 1884.9L601.6 1881.2L604.3 1877.7L606.7 1875.3L608.5 1874.3L610.0 1874.6L611.7 1876.5L614.0 1881.5L616.5 1888.1L619.2 1893.2L622.0 1895.1L624.9 1895.4L627.6 1895.3L629.7 1895.4L631.7 1895.2L633.8 1894.5L636.4 1892.8L639.2 1890.6L642.2 1889.0L645.5 1888.7L649.1 1889.1L652.6 1889.0L656.2 1887.8L659.8 1886.2L663.0 1884.9L665.3 1884.0L667.2 1883.4L669.3 1884.0L671.9 1886.0L674.8 1889.2L677.6 1893.2L680.5 1898.6L683.4 1904.8L686.0 1909.9L688.2 1913.4L690.2 1915.7L692.2 1916.2L694.2 1914.2L696.2 1910.3L698.5 1905.7L701.1 1900.3L704.0 1894.2L706.8 1889.0L709.3 1885.2L711.7 1882.4L714.3 1880.7L717.4 1880.8L720.6 1882.0L723.5 1882.8L725.6 1882.2L727.4 1881.3L729.7 1881.5L732.8 1883.9L736.4 1887.4L740.2 1891.1L744.4 1894.7L748.8 1898.3L752.7 1901.6L755.8 1904.4L758.4 1906.9L761.0 1908.6L763.8 1909.5L766.6 1909.8L769.4 1909.1L772.2 1907.8L774.9 1905.5L777.7 1901.6L780.5 1894.6L783.3 1885.9L786.1 1878.6L788.9 1873.8L791.8 1870.5L794.4 1868.2L796.7 1866.9L798.7 1866.7L800.7 1867.4L802.7 1868.8L804.7 1871.1L806.9 1874.4L809.5 1879.4L812.4 1885.5L815.3 1890.3L818.1 1893.1L821.0 1894.7L823.6 1895.3L825.8 1894.7L827.7 1893.1L829.9 1891.1L832.4 1888.5L835.2 1885.4L838.2 1882.8L841.4 1881.2L844.9 1880.2L848.6 1878.6L852.7 1876.1L857.0 1873.1L861.1 1870.3L864.8 1867.8L868.3 1865.5L871.6 1864.0L874.5 1863.6L877.2 1864.0L879.9 1865.3L882.6 1867.4L885.3 1870.4L888.2 1874.4L891.6 1880.1L895.3 1886.9L898.7 1893.2L901.5 1898.3L904.0 1902.9L907.0 1907.8L910.9 1913.3L915.3 1919.0L919.5 1924.5L923.2 1929.8L926.7 1934.8L929.9 1939.1L932.7 1942.5L935.3 1945.2L938.3 1947.4L942.2 1949.0L946.5 1950.1L950.8 1951.6L955.2 1954.3L959.5 1957.3L962.5 1959.5" stroke="#0000ff" stroke-width="4.8" style="stroke-linecap:butt"/>
<path class="ln" d="M171.4 1873.0L171.5 1873.5L171.8 1874.4L172.5 1876.5L173.8 1879.5L175.4 1883.8L177.5 1891.1L180.1 1903.1L183.0 1918.2L185.9 1932.8L188.7 1946.3L191.4 1959.4L194.2 1970.4L197.0 1978.5L199.8 1984.5L202.5 1989.1L205.1 1992.2L207.6 1993.8L210.0 1994.6L212.3 1994.9L214.5 1994.5L217.1 1993.3L220.3 1990.7L223.8 1987.4L227.6 1985.0L231.6 1984.5L235.9 1984.9L240.1 1985.0L244.3 1984.4L248.4 1983.4L252.6 1982.0L256.8 1979.7L261.1 1977.0L265.1 1974.5L268.7 1972.4L272.1 1970.6L275.5 1969.5L279.1 1969.6L282.7 1970.3L286.0 1970.4L288.8 1969.8L291.3 1968.7L294.3 1966.2L298.3 1961.4L302.8 1955.2L306.8 1949.5L309.9 1945.5L312.5 1941.9L315.1 1937.0L317.9 1929.9L320.7 1921.4L323.5 1912.0L326.3 1900.8L329.2 1888.7L331.8 1878.6L334.1 1871.8L336.1 1867.1L338.1 1864.0L340.1 1862.3L342.1 1862.2L344.3 1864.0L346.9 1868.3L349.8 1874.4L352.7 1880.7L355.5 1887.3L358.4 1894.1L361.0 1899.5L363.3 1903.1L365.3 1905.3L367.3 1905.7L369.4 1903.5L371.4 1899.5L373.5 1895.3L375.6 1890.8L377.7 1886.1L379.8 1882.8L381.8 1881.4L383.9 1881.4L386.1 1882.8L388.6 1885.8L391.4 1890.2L394.4 1895.3L397.8 1901.4L401.4 1908.2L404.8 1914.1L407.8 1918.7L410.6 1922.3L413.2 1924.5L415.3 1925.3L417.3 1924.8L419.4 1922.4L422.1 1917.0L425.1 1909.7L427.8 1903.6L429.9 1899.7L431.9 1897.1L434.0 1895.3L436.6 1894.3L439.4 1894.2L442.4 1895.3L445.8 1898.0L449.4 1901.8L452.8 1905.7L455.7 1909.2L458.4 1912.8L461.1 1916.2L463.9 1919.9L466.7 1923.4L469.5 1925.3L472.3 1924.8L475.0 1922.7L477.8 1920.3L480.4 1917.4L483.1 1914.2L486.2 1912.0L490.1 1911.6L494.4 1912.3L498.7 1912.8L502.9 1912.6L507.0 1912.3L511.2 1912.8L515.3 1914.6L519.4 1917.2L523.7 1919.5L528.6 1921.6L533.7 1923.3L538.3 1923.7L542.1 1921.5L545.4 1917.9L548.7 1915.3L552.2 1915.3L555.6 1916.4L559.1 1916.2L562.8 1913.2L566.5 1908.8L569.6 1905.7L571.6 1905.2L573.0 1905.9L575.0 1905.7L578.2 1903.2L582.1 1899.7L585.9 1897.4L589.5 1897.7L593.0 1899.2L596.3 1899.5L599.2 1897.2L601.9 1893.7L604.6 1891.1L607.6 1890.7L610.5 1891.1L613.0 1890.3L614.7 1887.9L615.9 1884.2L617.1 1878.6L618.5 1870.2L619.9 1859.8L621.3 1849.4L622.7 1839.3L624.1 1829.2L625.5 1820.2L626.8 1812.9L628.1 1806.7L629.6 1801.5L631.5 1797.3L633.7 1794.0L635.9 1791.0L638.1 1787.9L640.3 1785.1L642.2 1783.5L643.6 1783.0L644.9 1783.7L646.3 1786.0L648.2 1790.8L650.3 1797.3L652.6 1803.5L655.3 1808.4L658.2 1813.0L660.9 1818.1L663.2 1823.8L665.2 1830.0L667.2 1836.9L669.3 1844.6L671.3 1853.0L673.4 1861.9L675.5 1871.2L677.6 1880.9L679.7 1891.1L681.8 1902.5L683.9 1914.4L686.0 1924.5L688.1 1931.4L690.1 1936.4L692.2 1941.2L694.2 1946.4L696.2 1951.3L698.5 1955.8L701.1 1959.4L704.0 1962.6L706.8 1966.2L709.6 1970.9L712.3 1976.1L715.1 1980.8L717.7 1984.5L720.4 1987.7L723.5 1990.4L727.2 1992.4L731.4 1993.9L736.0 1995.4L741.1 1997.1L746.7 1998.8L752.7 2000.4L759.2 2002.0L766.1 2003.4L773.5 2004.6L776.4 2005.4L779.8 2005.9L798.6 2006.2L849.0 2006.4L914.9 2006.5L962.5 2006.6" stroke="#000" stroke-width="4.8" style="stroke-linecap:butt"/>
<path class="ln" d="M171.4 1964.5L171.2 1964.4L171.2 1964.5L172.5 1965.4L176.1 1967.9L181.0 1971.2L185.9 1974.5L190.2 1977.4L194.4 1980.3L198.4 1982.9L202.1 1985.7L205.6 1988.2L208.8 1989.1L211.6 1987.6L214.2 1984.4L217.1 1980.8L220.4 1976.3L223.9 1971.2L227.6 1968.3L231.6 1969.3L235.9 1972.3L240.1 1974.5L244.5 1974.4L248.9 1973.4L252.6 1972.5L255.1 1971.8L256.8 1971.2L258.8 1971.2L261.4 1972.5L264.2 1974.5L267.2 1975.4L270.4 1974.3L273.9 1972.3L277.6 1970.4L281.8 1969.4L286.2 1968.6L290.1 1967.5L293.2 1966.0L295.9 1964.3L298.5 1962.0L301.3 1958.6L304.2 1954.6L306.8 1951.6L309.0 1951.0L311.0 1951.3L313.1 1949.5L315.4 1944.7L317.8 1937.9L320.2 1928.7L322.7 1915.8L325.3 1900.6L327.7 1887.0L329.9 1875.9L332.0 1866.5L333.9 1859.8L335.4 1856.4L336.6 1855.8L338.1 1857.8L340.0 1862.8L342.2 1870.4L344.3 1878.6L346.5 1887.9L348.7 1897.8L350.6 1905.7L352.0 1910.3L353.2 1912.8L354.8 1914.1L357.3 1913.9L360.3 1912.4L363.1 1911.1L365.4 1911.7L367.4 1912.5L369.4 1909.9L371.5 1901.1L373.5 1888.9L375.6 1878.6L377.7 1872.0L379.8 1867.3L381.9 1864.0L384.0 1861.7L386.0 1860.8L388.1 1862.8L390.1 1868.6L392.1 1877.3L394.4 1887.0L397.0 1898.1L399.9 1910.2L402.7 1920.3L405.5 1927.2L408.3 1932.0L411.1 1934.9L413.9 1935.6L416.6 1934.4L419.4 1932.8L422.3 1931.4L425.2 1929.6L427.8 1926.6L430.0 1921.7L432.0 1915.7L434.0 1909.9L435.8 1904.5L437.6 1899.3L440.3 1895.3L444.7 1892.7L450.0 1891.4L454.9 1892.0L458.7 1895.4L462.0 1900.7L465.3 1905.7L468.9 1909.8L472.5 1913.6L475.7 1916.2L477.9 1917.5L479.6 1917.7L482.0 1916.2L485.9 1912.0L490.4 1906.2L494.5 1901.6L497.6 1899.7L500.2 1899.0L502.8 1897.4L505.6 1893.2L508.4 1888.0L511.2 1884.9L514.0 1885.6L516.9 1888.3L519.5 1891.1L521.7 1893.7L523.6 1896.2L525.8 1897.4L528.3 1896.0L531.1 1893.1L534.1 1891.1L537.3 1891.2L540.8 1892.2L544.5 1892.0L548.6 1890.0L553.0 1886.9L557.1 1882.8L561.0 1877.0L564.6 1870.2L567.5 1865.3L569.1 1863.8L569.9 1864.1L571.3 1864.8L573.7 1865.1L576.7 1865.8L579.6 1867.4L582.4 1870.5L585.1 1874.5L587.9 1878.6L590.7 1882.9L593.5 1887.1L596.3 1889.9L599.0 1890.5L601.7 1889.7L604.6 1887.8L608.1 1884.8L611.8 1880.7L615.0 1876.5L617.4 1872.2L619.4 1867.8L621.3 1864.0L623.3 1860.9L625.4 1858.5L627.6 1856.9L630.2 1856.4L633.1 1856.7L635.9 1857.8L638.7 1860.1L641.6 1863.1L644.2 1865.3L646.4 1866.1L648.3 1866.2L650.5 1866.1L653.1 1865.7L656.0 1865.0L658.8 1865.3L661.6 1867.0L664.4 1869.7L667.2 1872.4L670.0 1875.2L672.7 1878.0L675.5 1880.7L678.3 1883.0L681.1 1885.1L683.9 1887.0L686.7 1888.3L689.4 1889.3L692.2 1891.1L695.0 1893.9L697.8 1897.4L700.6 1901.6L703.4 1906.8L706.1 1912.6L708.9 1918.2L711.7 1923.3L714.4 1928.1L717.2 1932.8L720.1 1937.6L723.0 1942.3L725.6 1946.2L727.7 1949.3L729.5 1951.6L731.8 1952.9L735.0 1953.1L738.6 1952.4L742.3 1950.8L745.8 1948.4L749.2 1945.2L752.7 1941.2L756.2 1936.2L759.6 1930.3L763.1 1924.5L766.6 1918.8L770.0 1913.1L773.5 1907.8L777.0 1903.0L780.5 1898.8L784.0 1895.3L787.5 1892.8L790.9 1891.2L794.4 1890.3L797.9 1890.1L801.3 1890.7L804.8 1892.0L808.3 1893.9L811.8 1896.6L815.3 1900.3L818.8 1905.4L822.2 1911.7L825.7 1918.2L829.2 1925.1L832.8 1932.3L836.1 1939.1L839.1 1945.2L841.8 1950.9L844.5 1955.8L847.3 1960.0L850.0 1963.4L852.8 1966.2L855.4 1968.1L858.0 1969.3L861.1 1970.4L865.0 1971.5L869.3 1972.6L873.6 1973.7L877.8 1975.1L882.0 1976.5L886.2 1977.9L890.6 1979.3L895.0 1980.6L898.7 1981.6L901.2 1982.3L902.9 1982.6L904.9 1982.0L907.5 1980.0L910.3 1977.1L913.3 1974.5L916.7 1972.4L920.3 1970.5L923.7 1969.1L926.6 1968.1L929.3 1967.6L932.0 1967.5L934.7 1967.8L937.4 1968.6L940.4 1970.4L943.7 1973.6L947.2 1977.9L950.8 1982.0L955.0 1986.1L959.4 1990.2L962.5 1993.0" stroke="#ff0000" stroke-width="4.8" style="stroke-linecap:butt"/>
</g>
<path class="tk" d="M171.40 2006.6v10.0M303.25 2006.6v10.0M435.10 2006.6v10.0M566.95 2006.6v10.0M698.80 2006.6v10.0M830.65 2006.6v10.0M962.50 2006.6v10.0M171.4 2006.60h-10.0M171.4 1909.39h-10.0M171.4 1812.18h-10.0"/>
<rect class="sp" x="171.4" y="1773.3" width="791.1" height="233.29999999999995"/>
<text x="144.6" y="2017.0" text-anchor="end">0</text>
<text x="144.6" y="1919.8" text-anchor="end">5</text>
<text x="144.6" y="1822.6" text-anchor="end">10</text>
<text x="171.40" y="2054.1" text-anchor="middle">1</text>
<text x="303.25" y="2054.1" text-anchor="middle">2</text>
<text x="435.10" y="2054.1" text-anchor="middle">3</text>
<text x="566.95" y="2054.1" text-anchor="middle">4</text>
<text x="698.80" y="2054.1" text-anchor="middle">5</text>
<text x="830.65" y="2054.1" text-anchor="middle">6</text>
<text x="962.50" y="2054.1" text-anchor="middle">7</text>
<text x="565.9" y="2107" text-anchor="middle" style="font-size:37.9px;letter-spacing:0">time (ms)</text>
<g transform="translate(43 1000.5) rotate(-90)">
<text x="-58.4" y="0.0" class="it" style="font-size:37.9px;letter-spacing:0">I</text>
<text x="-47.0" y="6.0" class="it" style="font-size:26.5px;letter-spacing:0">P</text>
<text x="-31.0" y="0.0" style="font-size:38.3px;letter-spacing:0"> (kA)</text>
</g>
<text transform="translate(49.4 1296.2) rotate(-90)" text-anchor="middle" style="font-size:37.9px;letter-spacing:0">EUV</text>
<g transform="translate(43 1596.0) rotate(-90)">
<text x="-70.5" y="0.0" class="it" style="font-size:37.9px;letter-spacing:0">R</text>
<text x="-44.4" y="6.0" style="font-size:26.5px;letter-spacing:0">0</text>
<text x="-27.7" y="0.0" style="font-size:37.9px;letter-spacing:0"> (cm)</text>
</g>
<g transform="translate(39.4 1890.4) rotate(-90)">
<text x="-82.5" y="0.0" class="it" style="font-size:37.9px;letter-spacing:0">B</text>
<text x="-54.5" y="-19.3" class="it" style="font-size:26.5px;letter-spacing:0">pol</text>
<text x="-56.4" y="11.0" class="it" style="font-size:26.5px;letter-spacing:0">n</text>
<text x="-33.6" y="11.0" style="font-size:26.5px;letter-spacing:0">=</text>
<text x="-8.2" y="11.0" style="font-size:26.5px;letter-spacing:0">1</text>
<text x="9.3" y="0.0" style="font-size:38.699999999999996px;letter-spacing:0"> (G)</text>
</g>
</svg></body></html>
